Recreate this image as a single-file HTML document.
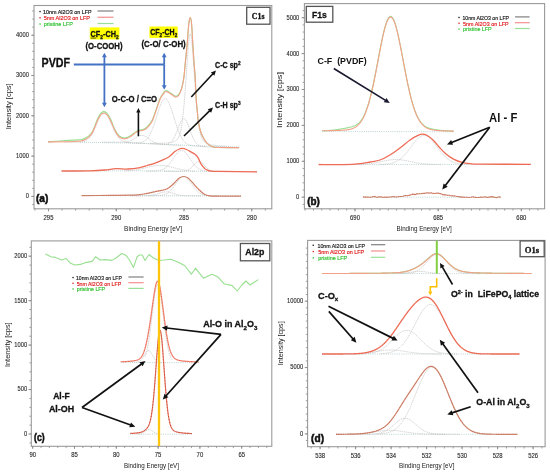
<!DOCTYPE html>
<html><head><meta charset="utf-8"><title>XPS spectra</title>
<style>html,body{margin:0;padding:0;background:#fff;width:550px;height:473px;overflow:hidden}svg{display:block;filter:blur(0.3px)}</style>
</head><body>
<svg width="550" height="473" viewBox="0 0 550 473">
<rect width="550" height="473" fill="#fff"/>
<rect x="34" y="5.5" width="237.8" height="203.3" fill="none" stroke="#9a9a9a" stroke-width="1.1"/>
<line x1="32.2" y1="204.46" x2="34" y2="204.46" stroke="#8a8a8a" stroke-width="0.8"/>
<line x1="32.2" y1="196.4" x2="34" y2="196.4" stroke="#8a8a8a" stroke-width="0.8"/>
<line x1="32.2" y1="188.34" x2="34" y2="188.34" stroke="#8a8a8a" stroke-width="0.8"/>
<line x1="32.2" y1="180.28" x2="34" y2="180.28" stroke="#8a8a8a" stroke-width="0.8"/>
<line x1="32.2" y1="172.22" x2="34" y2="172.22" stroke="#8a8a8a" stroke-width="0.8"/>
<line x1="32.2" y1="164.16" x2="34" y2="164.16" stroke="#8a8a8a" stroke-width="0.8"/>
<line x1="32.2" y1="156.1" x2="34" y2="156.1" stroke="#8a8a8a" stroke-width="0.8"/>
<line x1="32.2" y1="148.04" x2="34" y2="148.04" stroke="#8a8a8a" stroke-width="0.8"/>
<line x1="32.2" y1="139.98" x2="34" y2="139.98" stroke="#8a8a8a" stroke-width="0.8"/>
<line x1="32.2" y1="131.92" x2="34" y2="131.92" stroke="#8a8a8a" stroke-width="0.8"/>
<line x1="32.2" y1="123.86" x2="34" y2="123.86" stroke="#8a8a8a" stroke-width="0.8"/>
<line x1="32.2" y1="115.8" x2="34" y2="115.8" stroke="#8a8a8a" stroke-width="0.8"/>
<line x1="32.2" y1="107.74" x2="34" y2="107.74" stroke="#8a8a8a" stroke-width="0.8"/>
<line x1="32.2" y1="99.68" x2="34" y2="99.68" stroke="#8a8a8a" stroke-width="0.8"/>
<line x1="32.2" y1="91.62" x2="34" y2="91.62" stroke="#8a8a8a" stroke-width="0.8"/>
<line x1="32.2" y1="83.56" x2="34" y2="83.56" stroke="#8a8a8a" stroke-width="0.8"/>
<line x1="32.2" y1="75.5" x2="34" y2="75.5" stroke="#8a8a8a" stroke-width="0.8"/>
<line x1="32.2" y1="67.44" x2="34" y2="67.44" stroke="#8a8a8a" stroke-width="0.8"/>
<line x1="32.2" y1="59.38" x2="34" y2="59.38" stroke="#8a8a8a" stroke-width="0.8"/>
<line x1="32.2" y1="51.32" x2="34" y2="51.32" stroke="#8a8a8a" stroke-width="0.8"/>
<line x1="32.2" y1="43.26" x2="34" y2="43.26" stroke="#8a8a8a" stroke-width="0.8"/>
<line x1="32.2" y1="35.2" x2="34" y2="35.2" stroke="#8a8a8a" stroke-width="0.8"/>
<line x1="32.2" y1="27.14" x2="34" y2="27.14" stroke="#8a8a8a" stroke-width="0.8"/>
<line x1="32.2" y1="19.08" x2="34" y2="19.08" stroke="#8a8a8a" stroke-width="0.8"/>
<line x1="32.2" y1="11.02" x2="34" y2="11.02" stroke="#8a8a8a" stroke-width="0.8"/>
<line x1="31.2" y1="196.4" x2="34" y2="196.4" stroke="#8a8a8a" stroke-width="0.9"/>
<text x="28.9" y="198.3" font-family="Liberation Sans" font-size="6.4" font-weight="normal" fill="#202020" text-anchor="end" textLength="3.2" lengthAdjust="spacingAndGlyphs" stroke="#444" stroke-width="0.12">0</text>
<line x1="31.2" y1="156.1" x2="34" y2="156.1" stroke="#8a8a8a" stroke-width="0.9"/>
<text x="28.9" y="158" font-family="Liberation Sans" font-size="6.4" font-weight="normal" fill="#202020" text-anchor="end" textLength="12.8" lengthAdjust="spacingAndGlyphs" stroke="#444" stroke-width="0.12">1000</text>
<line x1="31.2" y1="115.8" x2="34" y2="115.8" stroke="#8a8a8a" stroke-width="0.9"/>
<text x="28.9" y="117.7" font-family="Liberation Sans" font-size="6.4" font-weight="normal" fill="#202020" text-anchor="end" textLength="12.8" lengthAdjust="spacingAndGlyphs" stroke="#444" stroke-width="0.12">2000</text>
<line x1="31.2" y1="75.5" x2="34" y2="75.5" stroke="#8a8a8a" stroke-width="0.9"/>
<text x="28.9" y="77.4" font-family="Liberation Sans" font-size="6.4" font-weight="normal" fill="#202020" text-anchor="end" textLength="12.8" lengthAdjust="spacingAndGlyphs" stroke="#444" stroke-width="0.12">3000</text>
<line x1="31.2" y1="35.2" x2="34" y2="35.2" stroke="#8a8a8a" stroke-width="0.9"/>
<text x="28.9" y="37.1" font-family="Liberation Sans" font-size="6.4" font-weight="normal" fill="#202020" text-anchor="end" textLength="12.8" lengthAdjust="spacingAndGlyphs" stroke="#444" stroke-width="0.12">4000</text>
<line x1="265.3" y1="208.8" x2="265.3" y2="210.6" stroke="#8a8a8a" stroke-width="0.8"/>
<line x1="251.75" y1="208.8" x2="251.75" y2="210.6" stroke="#8a8a8a" stroke-width="0.8"/>
<line x1="238.2" y1="208.8" x2="238.2" y2="210.6" stroke="#8a8a8a" stroke-width="0.8"/>
<line x1="224.65" y1="208.8" x2="224.65" y2="210.6" stroke="#8a8a8a" stroke-width="0.8"/>
<line x1="211.1" y1="208.8" x2="211.1" y2="210.6" stroke="#8a8a8a" stroke-width="0.8"/>
<line x1="197.55" y1="208.8" x2="197.55" y2="210.6" stroke="#8a8a8a" stroke-width="0.8"/>
<line x1="184" y1="208.8" x2="184" y2="210.6" stroke="#8a8a8a" stroke-width="0.8"/>
<line x1="170.45" y1="208.8" x2="170.45" y2="210.6" stroke="#8a8a8a" stroke-width="0.8"/>
<line x1="156.9" y1="208.8" x2="156.9" y2="210.6" stroke="#8a8a8a" stroke-width="0.8"/>
<line x1="143.35" y1="208.8" x2="143.35" y2="210.6" stroke="#8a8a8a" stroke-width="0.8"/>
<line x1="129.8" y1="208.8" x2="129.8" y2="210.6" stroke="#8a8a8a" stroke-width="0.8"/>
<line x1="116.25" y1="208.8" x2="116.25" y2="210.6" stroke="#8a8a8a" stroke-width="0.8"/>
<line x1="102.7" y1="208.8" x2="102.7" y2="210.6" stroke="#8a8a8a" stroke-width="0.8"/>
<line x1="89.15" y1="208.8" x2="89.15" y2="210.6" stroke="#8a8a8a" stroke-width="0.8"/>
<line x1="75.6" y1="208.8" x2="75.6" y2="210.6" stroke="#8a8a8a" stroke-width="0.8"/>
<line x1="62.05" y1="208.8" x2="62.05" y2="210.6" stroke="#8a8a8a" stroke-width="0.8"/>
<line x1="48.5" y1="208.8" x2="48.5" y2="210.6" stroke="#8a8a8a" stroke-width="0.8"/>
<line x1="34.95" y1="208.8" x2="34.95" y2="210.6" stroke="#8a8a8a" stroke-width="0.8"/>
<line x1="48.5" y1="208.8" x2="48.5" y2="211.4" stroke="#8a8a8a" stroke-width="0.9"/>
<text x="48.5" y="219.6" font-family="Liberation Sans" font-size="6.4" font-weight="normal" fill="#202020" text-anchor="middle" textLength="9.9" lengthAdjust="spacingAndGlyphs" stroke="#444" stroke-width="0.12">295</text>
<line x1="116.25" y1="208.8" x2="116.25" y2="211.4" stroke="#8a8a8a" stroke-width="0.9"/>
<text x="116.25" y="219.6" font-family="Liberation Sans" font-size="6.4" font-weight="normal" fill="#202020" text-anchor="middle" textLength="9.9" lengthAdjust="spacingAndGlyphs" stroke="#444" stroke-width="0.12">290</text>
<line x1="184" y1="208.8" x2="184" y2="211.4" stroke="#8a8a8a" stroke-width="0.9"/>
<text x="184" y="219.6" font-family="Liberation Sans" font-size="6.4" font-weight="normal" fill="#202020" text-anchor="middle" textLength="9.9" lengthAdjust="spacingAndGlyphs" stroke="#444" stroke-width="0.12">285</text>
<line x1="251.75" y1="208.8" x2="251.75" y2="211.4" stroke="#8a8a8a" stroke-width="0.9"/>
<text x="251.75" y="219.6" font-family="Liberation Sans" font-size="6.4" font-weight="normal" fill="#202020" text-anchor="middle" textLength="9.9" lengthAdjust="spacingAndGlyphs" stroke="#444" stroke-width="0.12">280</text>
<text x="153" y="230.5" font-family="Liberation Sans" font-size="6.4" font-weight="normal" fill="#202020" text-anchor="middle" textLength="58" lengthAdjust="spacingAndGlyphs">Binding Energy [eV]</text>
<text x="0" y="0" font-family="Liberation Sans" font-size="6.4" fill="#202020" text-anchor="middle" textLength="46" lengthAdjust="spacingAndGlyphs" transform="translate(10.8,106.3) rotate(-90)">Intensity [cps]</text>
<rect x="39.4" y="10.9" width="1.3" height="1.3" fill="#111"/>
<text x="43" y="13.8" font-family="Liberation Sans" font-size="5.4" font-weight="normal" fill="#111" text-anchor="start" textLength="48.7" lengthAdjust="spacingAndGlyphs" stroke="#111" stroke-width="0.15">10nm Al2O3 on LFP</text>
<line x1="97.5" y1="11" x2="113.5" y2="11" stroke="#808080" stroke-width="1.2"/>
<rect x="39.4" y="17.15" width="1.3" height="1.3" fill="#e01818"/>
<text x="43.7" y="20.05" font-family="Liberation Sans" font-size="5.4" font-weight="normal" fill="#e01818" text-anchor="start" textLength="46.3" lengthAdjust="spacingAndGlyphs" stroke="#e01818" stroke-width="0.15">5nm Al2O3 on LFP</text>
<line x1="97.5" y1="17.25" x2="113.5" y2="17.25" stroke="#f49090" stroke-width="1.2"/>
<rect x="39.4" y="23.4" width="1.3" height="1.3" fill="#30c030"/>
<text x="43.7" y="26.3" font-family="Liberation Sans" font-size="5.4" font-weight="normal" fill="#30c030" text-anchor="start" textLength="29.1" lengthAdjust="spacingAndGlyphs" stroke="#30c030" stroke-width="0.15">pristine LFP</text>
<line x1="97.5" y1="23.5" x2="113.5" y2="23.5" stroke="#98e098" stroke-width="1.2"/>
<path d="M80,142.2 L140,143.2 L190,145.5 L239,147" fill="none" stroke="#a8cccc" stroke-width="0.8" stroke-linejoin="round" stroke-dasharray="1,1"/>
<path d="M62,171 L140,170.8 L257,171.6" fill="none" stroke="#a8cccc" stroke-width="0.8" stroke-linejoin="round" stroke-dasharray="1,1"/>
<path d="M82,195.6 L241,196" fill="none" stroke="#a8cccc" stroke-width="0.8" stroke-linejoin="round" stroke-dasharray="1,1"/>
<path d="M64,142.2 L64.5,142.2 L65,142.2 L65.5,142.2 L66,142.2 L66.5,142.2 L67,142.2 L67.5,142.2 L68,142.2 L68.5,142.2 L69,142.2 L69.5,142.2 L70,142.2 L70.5,142.2 L71,142.2 L71.5,142.2 L72,142.2 L72.5,142.2 L73,142.2 L73.5,142.19 L74,142.19 L74.5,142.19 L75,142.19 L75.5,142.18 L76,142.18 L76.5,142.17 L77,142.16 L77.5,142.15 L78,142.14 L78.5,142.12 L79,142.1 L79.5,142.08 L80,142.04 L80.5,142.01 L81,141.96 L81.5,141.91 L82,141.84 L82.5,141.76 L83,141.66 L83.5,141.55 L84,141.42 L84.5,141.27 L85,141.09 L85.5,140.88 L86,140.64 L86.5,140.37 L87,140.06 L87.5,139.7 L88,139.3 L88.5,138.85 L89,138.35 L89.5,137.8 L90,137.19 L90.5,136.52 L91,135.79 L91.5,135 L92,134.14 L92.5,133.23 L93,132.26 L93.5,131.24 L94,130.16 L94.5,129.04 L95,127.88 L95.5,126.69 L96,125.48 L96.5,124.25 L97,123.02 L97.5,121.8 L98,120.6 L98.5,119.44 L99,118.32 L99.5,117.26 L100,116.28 L100.5,115.37 L101,114.57 L101.5,113.86 L102,113.28 L102.5,112.81 L103,112.47 L103.5,112.27 L104,112.2 L104.5,112.27 L105,112.47 L105.5,112.81 L106,113.28 L106.5,113.86 L107,114.57 L107.5,115.37 L108,116.28 L108.5,117.26 L109,118.32 L109.5,119.44 L110,120.6 L110.5,121.8 L111,123.02 L111.5,124.25 L112,125.48 L112.5,126.69 L113,127.88 L113.5,129.04 L114,130.16 L114.5,131.24 L115,132.26 L115.5,133.23 L116,134.14 L116.5,135 L117,135.79 L117.5,136.52 L118,137.19 L118.5,137.8 L119,138.35 L119.5,138.85 L120,139.3 L120.5,139.73 L121,140.11 L121.5,140.45 L122,140.75 L122.5,141.02 L123,141.25 L123.5,141.45 L124,141.64 L124.5,141.79 L125,141.93 L125.5,142.05 L126,142.16 L126.5,142.25 L127,142.33 L127.5,142.41 L128,142.47 L128.5,142.53 L129,142.58 L129.5,142.63 L130,142.67 L130.5,142.71 L131,142.75 L131.5,142.78 L132,142.82 L132.5,142.85 L133,142.88 L133.5,142.91 L134,142.94 L134.5,142.97 L135,143 L135.5,143.02 L136,143.05 L136.5,143.08 L137,143.11 L137.5,143.13 L138,143.16 L138.5,143.19 L139,143.21 L139.5,143.24 L140,143.27 L140.5,143.29 L141,143.32 L141.5,143.35 L142,143.37 L142.5,143.4 L143,143.43 L143.5,143.45 L144,143.48" fill="none" stroke="#c0c0c0" stroke-width="0.7" stroke-linejoin="round" stroke-dasharray="1.5,0.7"/>
<path d="M102,142.2 L102.5,142.2 L103,142.2 L103.5,142.2 L104,142.2 L104.5,142.2 L105,142.2 L105.5,142.2 L106,142.2 L106.5,142.2 L107,142.2 L107.5,142.2 L108,142.2 L108.5,142.2 L109,142.2 L109.5,142.2 L110,142.2 L110.5,142.2 L111,142.2 L111.5,142.2 L112,142.2 L112.5,142.2 L113,142.2 L113.5,142.2 L114,142.2 L114.5,142.2 L115,142.2 L115.5,142.19 L116,142.19 L116.5,142.19 L117,142.19 L117.5,142.18 L118,142.18 L118.5,142.17 L119,142.16 L119.5,142.15 L120,142.14 L120.5,142.16 L121,142.16 L121.5,142.17 L122,142.17 L122.5,142.17 L123,142.16 L123.5,142.14 L124,142.12 L124.5,142.09 L125,142.05 L125.5,142 L126,141.93 L126.5,141.86 L127,141.77 L127.5,141.66 L128,141.54 L128.5,141.41 L129,141.25 L129.5,141.08 L130,140.89 L130.5,140.69 L131,140.46 L131.5,140.22 L132,139.96 L132.5,139.68 L133,139.39 L133.5,139.09 L134,138.78 L134.5,138.47 L135,138.15 L135.5,137.83 L136,137.51 L136.5,137.2 L137,136.91 L137.5,136.63 L138,136.37 L138.5,136.13 L139,135.92 L139.5,135.73 L140,135.59 L140.5,135.47 L141,135.4 L141.5,135.37 L142,135.37 L142.5,135.42 L143,135.51 L143.5,135.63 L144,135.8 L144.5,136 L145,136.24 L145.5,136.5 L146,136.79 L146.5,137.11 L147,137.44 L147.5,137.79 L148,138.15 L148.5,138.52 L149,138.89 L149.5,139.27 L150,139.64 L150.5,140 L151,140.35 L151.5,140.69 L152,141.02 L152.5,141.34 L153,141.63 L153.5,141.91 L154,142.17 L154.5,142.42 L155,142.64 L155.5,142.85 L156,143.04 L156.5,143.21 L157,143.37 L157.5,143.51 L158,143.64 L158.5,143.76 L159,143.86 L159.5,143.96 L160,144.04 L160.5,144.12 L161,144.19 L161.5,144.25 L162,144.3 L162.5,144.36 L163,144.4 L163.5,144.45 L164,144.49 L164.5,144.53 L165,144.56 L165.5,144.6 L166,144.63 L166.5,144.66 L167,144.69 L167.5,144.72 L168,144.75 L168.5,144.78 L169,144.81 L169.5,144.84 L170,144.86 L170.5,144.89 L171,144.92 L171.5,144.95 L172,144.97 L172.5,145 L173,145.03 L173.5,145.05 L174,145.08 L174.5,145.11 L175,145.13 L175.5,145.16 L176,145.19 L176.5,145.21 L177,145.24 L177.5,145.27 L178,145.29 L178.5,145.32 L179,145.35 L179.5,145.37 L180,145.4 L180.5,145.43 L181,145.45 L181.5,145.48 L182,145.51" fill="none" stroke="#c0c0c0" stroke-width="0.7" stroke-linejoin="round" stroke-dasharray="1.5,0.7"/>
<path d="M125.3,142.48 L125.8,142.51 L126.3,142.53 L126.8,142.56 L127.3,142.59 L127.8,142.61 L128.3,142.64 L128.8,142.66 L129.3,142.69 L129.8,142.71 L130.3,142.74 L130.8,142.76 L131.3,142.78 L131.8,142.81 L132.3,142.83 L132.8,142.85 L133.3,142.86 L133.8,142.88 L134.3,142.89 L134.8,142.9 L135.3,142.91 L135.8,142.91 L136.3,142.91 L136.8,142.91 L137.3,142.89 L137.8,142.87 L138.3,142.84 L138.8,142.8 L139.3,142.75 L139.8,142.69 L140.3,142.61 L140.8,142.51 L141.3,142.4 L141.8,142.26 L142.3,142.1 L142.8,141.91 L143.3,141.7 L143.8,141.45 L144.3,141.16 L144.8,140.84 L145.3,140.47 L145.8,140.06 L146.3,139.6 L146.8,139.08 L147.3,138.51 L147.8,137.88 L148.3,137.19 L148.8,136.43 L149.3,135.61 L149.8,134.72 L150.3,133.77 L150.8,132.74 L151.3,131.64 L151.8,130.48 L152.3,129.25 L152.8,127.95 L153.3,126.6 L153.8,125.19 L154.3,123.73 L154.8,122.23 L155.3,120.69 L155.8,119.12 L156.3,117.53 L156.8,115.94 L157.3,114.35 L157.8,112.77 L158.3,111.21 L158.8,109.7 L159.3,108.23 L159.8,106.83 L160.3,105.5 L160.8,104.26 L161.3,103.12 L161.8,102.09 L162.3,101.17 L162.8,100.39 L163.3,99.74 L163.8,99.23 L164.3,98.87 L164.8,98.67 L165.3,98.62 L165.8,98.72 L166.3,98.98 L166.8,99.39 L167.3,99.95 L167.8,100.65 L168.3,101.49 L168.8,102.46 L169.3,103.55 L169.8,104.74 L170.3,106.04 L170.8,107.42 L171.3,108.87 L171.8,110.39 L172.3,111.96 L172.8,113.57 L173.3,115.2 L173.8,116.84 L174.3,118.49 L174.8,120.13 L175.3,121.75 L175.8,123.35 L176.3,124.9 L176.8,126.42 L177.3,127.88 L177.8,129.29 L178.3,130.63 L178.8,131.92 L179.3,133.14 L179.8,134.29 L180.3,135.37 L180.8,136.38 L181.3,137.32 L181.8,138.19 L182.3,139 L182.8,139.75 L183.3,140.43 L183.8,141.05 L184.3,141.62 L184.8,142.14 L185.3,142.6 L185.8,143.02 L186.3,143.4 L186.8,143.74 L187.3,144.04 L187.8,144.31 L188.3,144.56 L188.8,144.77 L189.3,144.96 L189.8,145.13 L190.3,145.28 L190.8,145.41 L191.3,145.53 L191.8,145.63 L192.3,145.72 L192.8,145.81 L193.3,145.88 L193.8,145.95 L194.3,146.01 L194.8,146.06 L195.3,146.11 L195.8,146.16 L196.3,146.2 L196.8,146.24 L197.3,146.28 L197.8,146.31 L198.3,146.35 L198.8,146.38 L199.3,146.41 L199.8,146.44 L200.3,146.47 L200.8,146.5 L201.3,146.53 L201.8,146.56 L202.3,146.58 L202.8,146.61 L203.3,146.64 L203.8,146.67 L204.3,146.69 L204.8,146.72 L205.3,146.75" fill="none" stroke="#c0c0c0" stroke-width="0.7" stroke-linejoin="round" stroke-dasharray="1.5,0.7"/>
<path d="M143.8,143.47 L144.3,143.5 L144.8,143.52 L145.3,143.55 L145.8,143.58 L146.3,143.6 L146.8,143.63 L147.3,143.66 L147.8,143.68 L148.3,143.71 L148.8,143.74 L149.3,143.76 L149.8,143.79 L150.3,143.82 L150.8,143.84 L151.3,143.87 L151.8,143.9 L152.3,143.92 L152.8,143.95 L153.3,143.98 L153.8,144 L154.3,144.03 L154.8,144.06 L155.3,144.08 L155.8,144.11 L156.3,144.14 L156.8,144.16 L157.3,144.19 L157.8,144.21 L158.3,144.24 L158.8,144.26 L159.3,144.29 L159.8,144.31 L160.3,144.34 L160.8,144.36 L161.3,144.38 L161.8,144.4 L162.3,144.41 L162.8,144.42 L163.3,144.43 L163.8,144.43 L164.3,144.43 L164.8,144.41 L165.3,144.38 L165.8,144.34 L166.3,144.29 L166.8,144.21 L167.3,144.11 L167.8,143.98 L168.3,143.82 L168.8,143.62 L169.3,143.37 L169.8,143.08 L170.3,142.73 L170.8,142.33 L171.3,141.85 L171.8,141.31 L172.3,140.69 L172.8,139.99 L173.3,139.2 L173.8,138.34 L174.3,137.39 L174.8,136.36 L175.3,135.25 L175.8,134.08 L176.3,132.84 L176.8,131.56 L177.3,130.24 L177.8,128.91 L178.3,127.57 L178.8,126.26 L179.3,124.98 L179.8,123.77 L180.3,122.64 L180.8,121.62 L181.3,120.71 L181.8,119.96 L182.3,119.35 L182.8,118.92 L183.3,118.67 L183.8,118.6 L184.3,118.72 L184.8,119.03 L185.3,119.51 L185.8,120.17 L186.3,120.98 L186.8,121.94 L187.3,123.01 L187.8,124.2 L188.3,125.46 L188.8,126.79 L189.3,128.16 L189.8,129.55 L190.3,130.93 L190.8,132.3 L191.3,133.64 L191.8,134.93 L192.3,136.16 L192.8,137.32 L193.3,138.4 L193.8,139.4 L194.3,140.32 L194.8,141.16 L195.3,141.91 L195.8,142.59 L196.3,143.19 L196.8,143.71 L197.3,144.17 L197.8,144.57 L198.3,144.92 L198.8,145.22 L199.3,145.47 L199.8,145.68 L200.3,145.87 L200.8,146.02 L201.3,146.15 L201.8,146.26 L202.3,146.36 L202.8,146.44 L203.3,146.51 L203.8,146.56 L204.3,146.62 L204.8,146.66 L205.3,146.71 L205.8,146.74 L206.3,146.78 L206.8,146.81 L207.3,146.84 L207.8,146.87 L208.3,146.9 L208.8,146.93 L209.3,146.96 L209.8,146.99 L210.3,147 L210.8,147 L211.3,147 L211.8,147 L212.3,147 L212.8,147 L213.3,147 L213.8,147 L214.3,147 L214.8,147 L215.3,147 L215.8,147 L216.3,147 L216.8,147 L217.3,147 L217.8,147 L218.3,147 L218.8,147 L219.3,147 L219.8,147 L220.3,147 L220.8,147 L221.3,147 L221.8,147 L222.3,147 L222.8,147 L223.3,147 L223.8,147" fill="none" stroke="#c0c0c0" stroke-width="0.7" stroke-linejoin="round" stroke-dasharray="1.5,0.7"/>
<path d="M150.3,143.2 L150.8,143.21 L151.3,143.22 L151.8,143.23 L152.3,143.24 L152.8,143.25 L153.3,143.26 L153.8,143.26 L154.3,143.27 L154.8,143.27 L155.3,143.28 L155.8,143.28 L156.3,143.29 L156.8,143.29 L157.3,143.29 L157.8,143.29 L158.3,143.29 L158.8,143.28 L159.3,143.28 L159.8,143.27 L160.3,143.26 L160.8,143.25 L161.3,143.24 L161.8,143.23 L162.3,143.21 L162.8,143.2 L163.3,143.18 L163.8,143.16 L164.3,143.13 L164.8,143.1 L165.3,143.07 L165.8,143.04 L166.3,143 L166.8,142.96 L167.3,142.91 L167.8,142.86 L168.3,142.8 L168.8,142.74 L169.3,142.68 L169.8,142.6 L170.3,142.52 L170.8,142.43 L171.3,142.33 L171.8,142.22 L172.3,142.1 L172.8,141.97 L173.3,141.82 L173.8,141.65 L174.3,141.46 L174.8,141.23 L175.3,140.97 L175.8,140.67 L176.3,140.31 L176.8,139.87 L177.3,139.34 L177.8,138.69 L178.3,137.9 L178.8,136.93 L179.3,135.75 L179.8,134.3 L180.3,132.55 L180.8,130.43 L181.3,127.9 L181.8,124.91 L182.3,121.41 L182.8,117.37 L183.3,112.76 L183.8,107.58 L184.3,101.83 L184.8,95.55 L185.3,88.81 L185.8,81.71 L186.3,74.37 L186.8,66.97 L187.3,59.7 L187.8,52.82 L188.3,46.6 L188.8,41.33 L189.3,37.31 L189.8,34.79 L190.3,33.95 L190.8,34.85 L191.3,37.42 L191.8,41.49 L192.3,46.81 L192.8,53.09 L193.3,60.02 L193.8,67.34 L194.3,74.8 L194.8,82.19 L195.3,89.34 L195.8,96.14 L196.3,102.47 L196.8,108.27 L197.3,113.51 L197.8,118.17 L198.3,122.27 L198.8,125.82 L199.3,128.86 L199.8,131.44 L200.3,133.61 L200.8,135.42 L201.3,136.92 L201.8,138.16 L202.3,139.18 L202.8,140.03 L203.3,140.73 L203.8,141.31 L204.3,141.8 L204.8,142.22 L205.3,142.57 L205.8,142.89 L206.3,143.16 L206.8,143.41 L207.3,143.63 L207.8,143.84 L208.3,144.02 L208.8,144.2 L209.3,144.36 L209.8,144.51 L210.3,144.64 L210.8,144.75 L211.3,144.85 L211.8,144.94 L212.3,145.03 L212.8,145.11 L213.3,145.19 L213.8,145.26 L214.3,145.33 L214.8,145.39 L215.3,145.46 L215.8,145.51 L216.3,145.57 L216.8,145.62 L217.3,145.67 L217.8,145.71 L218.3,145.76 L218.8,145.8 L219.3,145.84 L219.8,145.88 L220.3,145.91 L220.8,145.95 L221.3,145.98 L221.8,146.01 L222.3,146.04 L222.8,146.07 L223.3,146.1 L223.8,146.12 L224.3,146.15 L224.8,146.17 L225.3,146.2 L225.8,146.22 L226.3,146.24 L226.8,146.26 L227.3,146.28 L227.8,146.3 L228.3,146.32 L228.8,146.33 L229.3,146.35 L229.8,146.37 L230.3,146.38" fill="none" stroke="#c0c0c0" stroke-width="0.7" stroke-linejoin="round" stroke-dasharray="1.5,0.7"/>
<path d="M48,141.9 C50.83,141.67 60,140.83 65,140.5 C70,140.17 75.2,140.07 78,139.9 C80.8,139.73 80.53,139.82 81.8,139.5 C83.07,139.18 84.33,138.68 85.6,138 C86.87,137.32 88.25,136.48 89.4,135.4 C90.55,134.32 91.6,133.05 92.5,131.5 C93.4,129.95 94.05,128 94.8,126.1 C95.55,124.2 96.25,121.87 97,120.1 C97.75,118.33 98.53,116.77 99.3,115.5 C100.07,114.23 100.8,113.15 101.6,112.5 C102.4,111.85 103.22,111.5 104.1,111.6 C104.98,111.7 106.07,112.32 106.9,113.1 C107.73,113.88 108.35,115 109.1,116.3 C109.85,117.6 110.63,119.13 111.4,120.9 C112.17,122.67 112.93,125.13 113.7,126.9 C114.47,128.67 115.23,130.17 116,131.5 C116.77,132.83 117.53,134.02 118.3,134.9 C119.07,135.78 119.72,136.3 120.6,136.8 C121.48,137.3 122.58,137.77 123.6,137.9 C124.62,138.03 125.63,137.92 126.7,137.6 C127.77,137.28 128.25,137.12 130,136 C131.75,134.88 135.02,132 137.2,130.9 C139.38,129.8 141.5,130.02 143.1,129.4 C144.7,128.78 145.32,128.68 146.8,127.2 C148.28,125.72 150.4,123.58 152,120.5 C153.6,117.42 155.05,112.4 156.4,108.7 C157.75,105 158.87,101.02 160.1,98.3 C161.33,95.58 162.82,93.68 163.8,92.4 C164.78,91.12 165.02,90.6 166,90.6 C166.98,90.6 168.33,91.6 169.7,92.4 C171.07,93.2 173.18,94.75 174.2,95.4 C175.22,96.05 175.07,96.43 175.8,96.3 C176.53,96.17 177.65,95.83 178.6,94.6 C179.55,93.37 180.63,91.67 181.5,88.9 C182.37,86.13 183.13,82.68 183.8,78 C184.47,73.32 184.93,66.48 185.5,60.8 C186.07,55.12 186.65,50.03 187.2,43.9 C187.75,37.77 188.28,28.38 188.8,24 C189.32,19.62 189.83,17.6 190.3,17.6 C190.77,17.6 191.18,19.62 191.6,24 C192.02,28.38 192.4,37.57 192.8,43.9 C193.2,50.23 193.58,56.15 194,62 C194.42,67.85 194.95,73 195.3,79 C195.65,85 195.72,92.17 196.1,98 C196.48,103.83 197.27,110.33 197.6,114 C197.93,117.67 197.7,117.42 198.1,120 C198.5,122.58 199.2,126.65 200,129.5 C200.8,132.35 201.78,134.87 202.9,137.1 C204.02,139.33 205.28,141.37 206.7,142.9 C208.12,144.43 209.5,145.53 211.4,146.3 C213.3,147.07 213.5,147.28 218.1,147.5 C222.7,147.72 235.52,147.58 239,147.6" fill="none" stroke="#98e090" stroke-width="1.1" stroke-linejoin="round"/>
<path d="M48,141.9 C50.83,141.88 60,141.92 65,141.8 C70,141.68 75.2,141.37 78,141.2 C80.8,141.03 80.53,141.12 81.8,140.8 C83.07,140.48 84.33,140.05 85.6,139.3 C86.87,138.55 88.25,137.45 89.4,136.3 C90.55,135.15 91.6,133.95 92.5,132.4 C93.4,130.85 94.05,128.78 94.8,127 C95.55,125.22 96.25,123.35 97,121.7 C97.75,120.05 98.53,118.37 99.3,117.1 C100.07,115.83 100.8,114.75 101.6,114.1 C102.4,113.45 103.22,113.1 104.1,113.2 C104.98,113.3 106.07,113.92 106.9,114.7 C107.73,115.48 108.35,116.6 109.1,117.9 C109.85,119.2 110.63,120.85 111.4,122.5 C112.17,124.15 112.93,126.15 113.7,127.8 C114.47,129.45 115.23,131.07 116,132.4 C116.77,133.73 117.53,134.92 118.3,135.8 C119.07,136.68 119.72,137.2 120.6,137.7 C121.48,138.2 122.58,138.67 123.6,138.8 C124.62,138.93 125.63,138.82 126.7,138.5 C127.77,138.18 128.25,138.02 130,136.9 C131.75,135.78 135.02,132.9 137.2,131.8 C139.38,130.7 141.5,130.92 143.1,130.3 C144.7,129.68 145.32,129.58 146.8,128.1 C148.28,126.62 150.4,124.48 152,121.4 C153.6,118.32 155.05,113.3 156.4,109.6 C157.75,105.9 158.87,101.92 160.1,99.2 C161.33,96.48 162.82,94.58 163.8,93.3 C164.78,92.02 165.02,91.5 166,91.5 C166.98,91.5 168.33,92.5 169.7,93.3 C171.07,94.1 173.18,95.65 174.2,96.3 C175.22,96.95 175.07,97.33 175.8,97.2 C176.53,97.07 177.65,96.88 178.6,95.5 C179.55,94.12 180.63,91.82 181.5,88.9 C182.37,85.98 183.13,82.68 183.8,78 C184.47,73.32 184.93,66.48 185.5,60.8 C186.07,55.12 186.65,50.03 187.2,43.9 C187.75,37.77 188.28,28.38 188.8,24 C189.32,19.62 189.83,17.6 190.3,17.6 C190.77,17.6 191.18,19.62 191.6,24 C192.02,28.38 192.4,37.57 192.8,43.9 C193.2,50.23 193.58,56.15 194,62 C194.42,67.85 194.95,73 195.3,79 C195.65,85 195.72,92.17 196.1,98 C196.48,103.83 197.27,110.33 197.6,114 C197.93,117.67 197.7,117.42 198.1,120 C198.5,122.58 199.2,126.65 200,129.5 C200.8,132.35 201.78,134.87 202.9,137.1 C204.02,139.33 205.28,141.37 206.7,142.9 C208.12,144.43 209.5,145.53 211.4,146.3 C213.3,147.07 213.5,147.28 218.1,147.5 C222.7,147.72 235.52,147.58 239,147.6" fill="none" stroke="#f4a088" stroke-width="1.1" stroke-linejoin="round"/>
<path d="M125,170.96 L125.5,170.94 L126,170.92 L126.5,170.89 L127,170.86 L127.5,170.83 L128,170.8 L128.5,170.76 L129,170.72 L129.5,170.68 L130,170.64 L130.5,170.59 L131,170.55 L131.5,170.49 L132,170.44 L132.5,170.38 L133,170.32 L133.5,170.26 L134,170.19 L134.5,170.12 L135,170.04 L135.5,169.97 L136,169.89 L136.5,169.8 L137,169.71 L137.5,169.62 L138,169.53 L138.5,169.43 L139,169.33 L139.5,169.22 L140,169.12 L140.5,169.01 L141,168.89 L141.5,168.78 L142,168.66 L142.5,168.54 L143,168.42 L143.5,168.3 L144,168.17 L144.5,168.05 L145,167.92 L145.5,167.79 L146,167.66 L146.5,167.53 L147,167.41 L147.5,167.28 L148,167.15 L148.5,167.03 L149,166.91 L149.5,166.79 L150,166.67 L150.5,166.55 L151,166.44 L151.5,166.33 L152,166.23 L152.5,166.13 L153,166.03 L153.5,165.94 L154,165.86 L154.5,165.78 L155,165.7 L155.5,165.64 L156,165.58 L156.5,165.52 L157,165.48 L157.5,165.44 L158,165.41 L158.5,165.38 L159,165.36 L159.5,165.35 L160,165.35 L160.5,165.36 L161,165.37 L161.5,165.39 L162,165.42 L162.5,165.46 L163,165.5 L163.5,165.55 L164,165.61 L164.5,165.67 L165,165.74 L165.5,165.82 L166,165.9 L166.5,165.99 L167,166.08 L167.5,166.18 L168,166.28 L168.5,166.39 L169,166.5 L169.5,166.62 L170,166.74 L170.5,166.86 L171,166.98 L171.5,167.11 L172,167.24 L172.5,167.37 L173,167.5 L173.5,167.63 L174,167.76 L174.5,167.89 L175,168.03 L175.5,168.16 L176,168.29 L176.5,168.42 L177,168.54 L177.5,168.67 L178,168.79 L178.5,168.91 L179,169.03 L179.5,169.15 L180,169.26 L180.5,169.37 L181,169.48 L181.5,169.58 L182,169.69 L182.5,169.78 L183,169.88 L183.5,169.97 L184,170.06 L184.5,170.14 L185,170.22 L185.5,170.3 L186,170.38 L186.5,170.45 L187,170.51 L187.5,170.58 L188,170.64 L188.5,170.7 L189,170.75 L189.5,170.81 L190,170.86 L190.5,170.9 L191,170.95 L191.5,170.99 L192,171.03 L192.5,171.06 L193,171.1 L193.5,171.13 L194,171.16 L194.5,171.19 L195,171.21" fill="none" stroke="#c0c0c0" stroke-width="0.7" stroke-linejoin="round" stroke-dasharray="1.5,0.7"/>
<path d="M146.5,171.3 L147,171.3 L147.5,171.3 L148,171.3 L148.5,171.3 L149,171.3 L149.5,171.3 L150,171.29 L150.5,171.29 L151,171.29 L151.5,171.28 L152,171.27 L152.5,171.26 L153,171.25 L153.5,171.24 L154,171.22 L154.5,171.2 L155,171.17 L155.5,171.14 L156,171.1 L156.5,171.06 L157,171.01 L157.5,170.95 L158,170.88 L158.5,170.81 L159,170.72 L159.5,170.61 L160,170.49 L160.5,170.36 L161,170.21 L161.5,170.04 L162,169.85 L162.5,169.63 L163,169.4 L163.5,169.13 L164,168.84 L164.5,168.53 L165,168.18 L165.5,167.8 L166,167.39 L166.5,166.95 L167,166.48 L167.5,165.97 L168,165.43 L168.5,164.86 L169,164.26 L169.5,163.63 L170,162.98 L170.5,162.3 L171,161.6 L171.5,160.88 L172,160.15 L172.5,159.41 L173,158.66 L173.5,157.91 L174,157.17 L174.5,156.44 L175,155.73 L175.5,155.04 L176,154.38 L176.5,153.75 L177,153.16 L177.5,152.62 L178,152.12 L178.5,151.69 L179,151.31 L179.5,151 L180,150.75 L180.5,150.57 L181,150.46 L181.5,150.43 L182,150.47 L182.5,150.58 L183,150.76 L183.5,151.01 L184,151.33 L184.5,151.71 L185,152.15 L185.5,152.64 L186,153.19 L186.5,153.78 L187,154.42 L187.5,155.08 L188,155.78 L188.5,156.49 L189,157.23 L189.5,157.97 L190,158.72 L190.5,159.47 L191,160.22 L191.5,160.95 L192,161.67 L192.5,162.38 L193,163.06 L193.5,163.72 L194,164.35 L194.5,164.96 L195,165.53 L195.5,166.07 L196,166.58 L196.5,167.06 L197,167.5 L197.5,167.92 L198,168.3 L198.5,168.65 L199,168.97 L199.5,169.26 L200,169.53 L200.5,169.77 L201,169.99 L201.5,170.18 L202,170.36 L202.5,170.51 L203,170.65 L203.5,170.77 L204,170.88 L204.5,170.97 L205,171.05 L205.5,171.13 L206,171.19 L206.5,171.24 L207,171.29 L207.5,171.33 L208,171.36 L208.5,171.39 L209,171.42 L209.5,171.44 L210,171.46 L210.5,171.47 L211,171.48 L211.5,171.5 L212,171.5 L212.5,171.51 L213,171.52 L213.5,171.53 L214,171.53 L214.5,171.54 L215,171.54 L215.5,171.54 L216,171.55 L216.5,171.55" fill="none" stroke="#c0c0c0" stroke-width="0.7" stroke-linejoin="round" stroke-dasharray="1.5,0.7"/>
<path d="M164,171.37 L164.5,171.37 L165,171.37 L165.5,171.37 L166,171.37 L166.5,171.38 L167,171.38 L167.5,171.38 L168,171.38 L168.5,171.38 L169,171.38 L169.5,171.39 L170,171.39 L170.5,171.39 L171,171.39 L171.5,171.39 L172,171.39 L172.5,171.4 L173,171.4 L173.5,171.4 L174,171.4 L174.5,171.4 L175,171.4 L175.5,171.41 L176,171.41 L176.5,171.41 L177,171.41 L177.5,171.41 L178,171.41 L178.5,171.41 L179,171.41 L179.5,171.4 L180,171.4 L180.5,171.39 L181,171.38 L181.5,171.37 L182,171.35 L182.5,171.32 L183,171.29 L183.5,171.25 L184,171.2 L184.5,171.13 L185,171.05 L185.5,170.95 L186,170.83 L186.5,170.69 L187,170.52 L187.5,170.33 L188,170.1 L188.5,169.84 L189,169.54 L189.5,169.21 L190,168.84 L190.5,168.43 L191,167.99 L191.5,167.52 L192,167.02 L192.5,166.49 L193,165.95 L193.5,165.41 L194,164.86 L194.5,164.32 L195,163.8 L195.5,163.31 L196,162.86 L196.5,162.46 L197,162.12 L197.5,161.85 L198,161.65 L198.5,161.53 L199,161.49 L199.5,161.53 L200,161.66 L200.5,161.86 L201,162.14 L201.5,162.48 L202,162.88 L202.5,163.34 L203,163.83 L203.5,164.35 L204,164.89 L204.5,165.45 L205,166 L205.5,166.54 L206,167.07 L206.5,167.57 L207,168.05 L207.5,168.49 L208,168.9 L208.5,169.28 L209,169.61 L209.5,169.91 L210,170.18 L210.5,170.41 L211,170.61 L211.5,170.78 L212,170.93 L212.5,171.05 L213,171.15 L213.5,171.23 L214,171.3 L214.5,171.36 L215,171.4 L215.5,171.44 L216,171.47 L216.5,171.49 L217,171.51 L217.5,171.52 L218,171.53 L218.5,171.54 L219,171.55 L219.5,171.56 L220,171.56 L220.5,171.56 L221,171.57 L221.5,171.57 L222,171.57 L222.5,171.58 L223,171.58 L223.5,171.58 L224,171.58 L224.5,171.58 L225,171.58 L225.5,171.59 L226,171.59 L226.5,171.59 L227,171.59 L227.5,171.59 L228,171.6 L228.5,171.6 L229,171.6 L229.5,171.6 L230,171.6 L230.5,171.6 L231,171.61 L231.5,171.61 L232,171.61 L232.5,171.61 L233,171.61 L233.5,171.62 L234,171.62" fill="none" stroke="#c0c0c0" stroke-width="0.7" stroke-linejoin="round" stroke-dasharray="1.5,0.7"/>
<path d="M61.5,171 C66.25,170.97 82.75,170.97 90,170.8 C97.25,170.63 100.67,170.35 105,170 C109.33,169.65 112.17,168.87 116,168.7 C119.83,168.53 124,169.18 128,169 C132,168.82 136.78,168.18 140,167.6 C143.22,167.02 144.88,166.22 147.3,165.5 C149.72,164.78 152.08,164.15 154.5,163.3 C156.92,162.45 159.37,161.5 161.8,160.4 C164.23,159.3 166.92,158.17 169.1,156.7 C171.28,155.23 173.2,152.88 174.9,151.6 C176.6,150.32 178.08,149.53 179.3,149 C180.52,148.47 181,148.32 182.2,148.4 C183.4,148.48 185.05,148.92 186.5,149.5 C187.95,150.08 189.43,151.07 190.9,151.9 C192.37,152.73 194.27,153.75 195.3,154.5 C196.33,155.25 196.48,155.55 197.1,156.4 C197.72,157.25 198.35,158.37 199,159.6 C199.65,160.83 200.03,162.3 201,163.8 C201.97,165.3 203.63,167.5 204.8,168.6 C205.97,169.7 207.05,170 208,170.4 C208.95,170.8 208.5,170.85 210.5,171 C212.5,171.15 212.25,171.17 220,171.3 C227.75,171.43 250.83,171.72 257,171.8" fill="none" stroke="#ee6b55" stroke-width="1.3" stroke-linejoin="round"/>
<path d="M131,195.8 L131.5,195.8 L132,195.8 L132.5,195.8 L133,195.8 L133.5,195.8 L134,195.8 L134.5,195.8 L135,195.8 L135.5,195.8 L136,195.8 L136.5,195.8 L137,195.8 L137.5,195.8 L138,195.8 L138.5,195.8 L139,195.8 L139.5,195.8 L140,195.8 L140.5,195.79 L141,195.79 L141.5,195.79 L142,195.79 L142.5,195.79 L143,195.78 L143.5,195.78 L144,195.77 L144.5,195.76 L145,195.76 L145.5,195.75 L146,195.73 L146.5,195.72 L147,195.7 L147.5,195.68 L148,195.65 L148.5,195.62 L149,195.59 L149.5,195.55 L150,195.51 L150.5,195.46 L151,195.4 L151.5,195.33 L152,195.26 L152.5,195.18 L153,195.09 L153.5,194.99 L154,194.88 L154.5,194.76 L155,194.64 L155.5,194.5 L156,194.36 L156.5,194.21 L157,194.05 L157.5,193.89 L158,193.72 L158.5,193.55 L159,193.37 L159.5,193.2 L160,193.03 L160.5,192.86 L161,192.7 L161.5,192.55 L162,192.4 L162.5,192.27 L163,192.15 L163.5,192.05 L164,191.96 L164.5,191.89 L165,191.84 L165.5,191.81 L166,191.8 L166.5,191.81 L167,191.84 L167.5,191.89 L168,191.96 L168.5,192.05 L169,192.15 L169.5,192.27 L170,192.4 L170.5,192.55 L171,192.7 L171.5,192.86 L172,193.03 L172.5,193.2 L173,193.37 L173.5,193.55 L174,193.72 L174.5,193.89 L175,194.05 L175.5,194.21 L176,194.36 L176.5,194.5 L177,194.64 L177.5,194.76 L178,194.88 L178.5,194.99 L179,195.09 L179.5,195.18 L180,195.26 L180.5,195.33 L181,195.4 L181.5,195.46 L182,195.51 L182.5,195.55 L183,195.59 L183.5,195.62 L184,195.65 L184.5,195.68 L185,195.7 L185.5,195.72 L186,195.73 L186.5,195.75 L187,195.76 L187.5,195.76 L188,195.77 L188.5,195.78 L189,195.78 L189.5,195.79 L190,195.79 L190.5,195.79 L191,195.79 L191.5,195.79 L192,195.8 L192.5,195.8 L193,195.8 L193.5,195.8 L194,195.8 L194.5,195.8 L195,195.8 L195.5,195.8 L196,195.8 L196.5,195.8 L197,195.8 L197.5,195.8 L198,195.8 L198.5,195.8 L199,195.8 L199.5,195.8 L200,195.8 L200.5,195.8 L201,195.8" fill="none" stroke="#c0c0c0" stroke-width="0.7" stroke-linejoin="round" stroke-dasharray="1.5,0.7"/>
<path d="M148.6,195.8 L149.1,195.8 L149.6,195.8 L150.1,195.8 L150.6,195.79 L151.1,195.79 L151.6,195.79 L152.1,195.79 L152.6,195.79 L153.1,195.78 L153.6,195.78 L154.1,195.77 L154.6,195.76 L155.1,195.75 L155.6,195.74 L156.1,195.73 L156.6,195.72 L157.1,195.7 L157.6,195.68 L158.1,195.65 L158.6,195.62 L159.1,195.58 L159.6,195.54 L160.1,195.49 L160.6,195.43 L161.1,195.36 L161.6,195.28 L162.1,195.19 L162.6,195.08 L163.1,194.97 L163.6,194.83 L164.1,194.68 L164.6,194.5 L165.1,194.31 L165.6,194.09 L166.1,193.85 L166.6,193.58 L167.1,193.29 L167.6,192.97 L168.1,192.62 L168.6,192.23 L169.1,191.82 L169.6,191.38 L170.1,190.9 L170.6,190.39 L171.1,189.85 L171.6,189.29 L172.1,188.69 L172.6,188.07 L173.1,187.43 L173.6,186.77 L174.1,186.09 L174.6,185.4 L175.1,184.7 L175.6,183.99 L176.1,183.29 L176.6,182.6 L177.1,181.92 L177.6,181.26 L178.1,180.63 L178.6,180.02 L179.1,179.46 L179.6,178.93 L180.1,178.45 L180.6,178.03 L181.1,177.66 L181.6,177.36 L182.1,177.12 L182.6,176.94 L183.1,176.84 L183.6,176.8 L184.1,176.84 L184.6,176.94 L185.1,177.12 L185.6,177.36 L186.1,177.66 L186.6,178.03 L187.1,178.45 L187.6,178.93 L188.1,179.46 L188.6,180.02 L189.1,180.63 L189.6,181.26 L190.1,181.92 L190.6,182.6 L191.1,183.29 L191.6,183.99 L192.1,184.7 L192.6,185.4 L193.1,186.09 L193.6,186.77 L194.1,187.43 L194.6,188.07 L195.1,188.69 L195.6,189.29 L196.1,189.85 L196.6,190.39 L197.1,190.9 L197.6,191.38 L198.1,191.82 L198.6,192.23 L199.1,192.62 L199.6,192.97 L200.1,193.29 L200.6,193.58 L201.1,193.85 L201.6,194.09 L202.1,194.31 L202.6,194.5 L203.1,194.68 L203.6,194.83 L204.1,194.97 L204.6,195.08 L205.1,195.19 L205.6,195.28 L206.1,195.36 L206.6,195.43 L207.1,195.49 L207.6,195.54 L208.1,195.58 L208.6,195.62 L209.1,195.65 L209.6,195.68 L210.1,195.7 L210.6,195.72 L211.1,195.73 L211.6,195.74 L212.1,195.75 L212.6,195.76 L213.1,195.77 L213.6,195.78 L214.1,195.78 L214.6,195.79 L215.1,195.79 L215.6,195.79 L216.1,195.79 L216.6,195.79 L217.1,195.8 L217.6,195.8 L218.1,195.8 L218.6,195.8" fill="none" stroke="#c0c0c0" stroke-width="0.7" stroke-linejoin="round" stroke-dasharray="1.5,0.7"/>
<path d="M81.6,195.6 C86.33,195.57 101.93,195.47 110,195.4 C118.07,195.33 125,195.32 130,195.2 C135,195.08 137.12,195.02 140,194.7 C142.88,194.38 144.88,193.78 147.3,193.3 C149.72,192.82 152.08,192.28 154.5,191.8 C156.92,191.32 159.88,190.82 161.8,190.4 C163.72,189.98 164.78,189.78 166,189.3 C167.22,188.82 168.1,188.18 169.1,187.5 C170.1,186.82 171.03,186.05 172,185.2 C172.97,184.35 173.68,183.6 174.9,182.4 C176.12,181.2 177.85,178.98 179.3,178 C180.75,177.02 182.15,176.5 183.6,176.5 C185.05,176.5 186.53,177.02 188,178 C189.47,178.98 190.7,180.58 192.4,182.4 C194.1,184.22 196.27,186.97 198.2,188.9 C200.13,190.83 202.07,192.83 204,194 C205.93,195.17 207.13,195.53 209.8,195.9 C212.47,196.27 214.8,196.15 220,196.2 C225.2,196.25 237.5,196.2 241,196.2" fill="none" stroke="#d8866c" stroke-width="1.2" stroke-linejoin="round"/>
<path d="M81.6,195.6 C86.33,195.57 101.93,195.47 110,195.4 C118.07,195.33 125,195.32 130,195.2 C135,195.08 137.12,195.02 140,194.7 C142.88,194.38 144.88,193.78 147.3,193.3 C149.72,192.82 152.08,192.28 154.5,191.8 C156.92,191.32 159.88,190.82 161.8,190.4 C163.72,189.98 164.78,189.78 166,189.3 C167.22,188.82 168.1,188.18 169.1,187.5 C170.1,186.82 171.03,186.05 172,185.2 C172.97,184.35 173.68,183.6 174.9,182.4 C176.12,181.2 177.85,178.98 179.3,178 C180.75,177.02 182.15,176.5 183.6,176.5 C185.05,176.5 186.53,177.02 188,178 C189.47,178.98 190.7,180.58 192.4,182.4 C194.1,184.22 196.27,186.97 198.2,188.9 C200.13,190.83 202.07,192.83 204,194 C205.93,195.17 207.13,195.53 209.8,195.9 C212.47,196.27 214.8,196.15 220,196.2 C225.2,196.25 237.5,196.2 241,196.2" fill="none" stroke="#7a5048" stroke-width="0.5" stroke-linejoin="round" stroke-dasharray="0.8,1.6" opacity="0.8"/>
<rect x="89.8" y="27.4" width="29.6" height="12" fill="#ffff00"/>
<rect x="149.4" y="26.5" width="28.3" height="11.4" fill="#ffff00"/>
<text x="90.6" y="36.9" font-family="Liberation Sans" font-size="8.6" font-weight="bold" fill="#111" stroke="#111" stroke-width="0.3" textLength="28" lengthAdjust="spacingAndGlyphs">CF<tspan font-size="5.6" dy="2">2</tspan><tspan dy="-2">-CH</tspan><tspan font-size="5.6" dy="2">2</tspan></text>
<line x1="90.7" y1="38.1" x2="96.1" y2="38.1" stroke="#111" stroke-width="0.7"/>
<text x="104" y="49.4" font-family="Liberation Sans" font-size="9" font-weight="bold" fill="#111" text-anchor="middle" textLength="37" lengthAdjust="spacingAndGlyphs" stroke="#111" stroke-width="0.3">(O-COOH)</text>
<text x="150.2" y="35.2" font-family="Liberation Sans" font-size="8.6" font-weight="bold" fill="#111" stroke="#111" stroke-width="0.3" textLength="27" lengthAdjust="spacingAndGlyphs">CF<tspan font-size="5.6" dy="1.6">2</tspan><tspan dy="-1.6">-CH</tspan><tspan font-size="5.6" dy="1.6">2</tspan></text>
<line x1="164.4" y1="36.4" x2="169.8" y2="36.4" stroke="#111" stroke-width="0.7"/>
<text x="163.6" y="47.2" font-family="Liberation Sans" font-size="9" font-weight="bold" fill="#111" text-anchor="middle" textLength="44.3" lengthAdjust="spacingAndGlyphs" stroke="#111" stroke-width="0.3">(C-O/ C-OH)</text>
<text x="41.5" y="66.6" font-family="Liberation Sans" font-size="12" font-weight="bold" fill="#111" text-anchor="start" textLength="28.5" lengthAdjust="spacingAndGlyphs" stroke="#111" stroke-width="0.3">PVDF</text>
<line x1="73.8" y1="64.5" x2="164.4" y2="64.5" stroke="#4472c4" stroke-width="2"/>
<line x1="104.4" y1="64.5" x2="104.4" y2="56.7" stroke="#4472c4" stroke-width="1.8"/>
<polygon points="104.4,52.7 106.8,57.2 102,57.2" fill="#4472c4"/>
<line x1="104.4" y1="64.5" x2="104.4" y2="103.2" stroke="#4472c4" stroke-width="1.8"/>
<polygon points="104.4,107.2 102,102.7 106.8,102.7" fill="#4472c4"/>
<line x1="164.2" y1="64.5" x2="164.2" y2="56.7" stroke="#4472c4" stroke-width="1.8"/>
<polygon points="164.2,52.7 166.6,57.2 161.8,57.2" fill="#4472c4"/>
<line x1="164.2" y1="64.5" x2="164.2" y2="85.8" stroke="#4472c4" stroke-width="1.8"/>
<polygon points="164.2,89.8 161.8,85.3 166.6,85.3" fill="#4472c4"/>
<text x="111.8" y="102" font-family="Liberation Sans" font-size="9.2" font-weight="bold" fill="#111" text-anchor="start" textLength="45.3" lengthAdjust="spacingAndGlyphs" stroke="#111" stroke-width="0.3">O-C-O / C=O</text>
<line x1="138.4" y1="136.2" x2="138.4" y2="112.1" stroke="#111" stroke-width="1.6"/>
<polygon points="138.4,108.1 140.6,112.6 136.2,112.6" fill="#111"/>
<text x="215" y="67.8" font-family="Liberation Sans" font-size="8.2" font-weight="bold" fill="#111" stroke="#111" stroke-width="0.3" textLength="25.6" lengthAdjust="spacingAndGlyphs">C-C sp<tspan font-size="5.4" dy="-3">2</tspan></text>
<text x="215" y="107.7" font-family="Liberation Sans" font-size="8.2" font-weight="bold" fill="#111" stroke="#111" stroke-width="0.3" textLength="25.6" lengthAdjust="spacingAndGlyphs">C-H sp<tspan font-size="5.4" dy="-3">3</tspan></text>
<line x1="191.3" y1="97" x2="212.93" y2="73.79" stroke="#111" stroke-width="1.6"/>
<polygon points="216,70.5 214.35,75.79 210.84,72.52" fill="#111"/>
<line x1="184" y1="136" x2="209.79" y2="110.65" stroke="#111" stroke-width="1.6"/>
<polygon points="213,107.5 211.12,112.72 207.75,109.29" fill="#111"/>
<rect x="246.7" y="7.3" width="23.3" height="16.9" fill="#fff" stroke="#555" stroke-width="1.3"/>
<text x="251.8" y="19" font-family="Liberation Serif" font-size="9.2" font-weight="bold" fill="#111" text-anchor="start" textLength="12.7" lengthAdjust="spacingAndGlyphs" stroke="#111" stroke-width="0.3">C1s</text>
<text x="35.9" y="202.2" font-family="Liberation Sans" font-size="11" font-weight="bold" fill="#111" text-anchor="start" textLength="12.4" lengthAdjust="spacingAndGlyphs" stroke="#111" stroke-width="0.55">(a)</text>
<rect x="304.4" y="3.6" width="240.2" height="205.2" fill="none" stroke="#9a9a9a" stroke-width="1.1"/>
<line x1="302.6" y1="204.38" x2="304.4" y2="204.38" stroke="#8a8a8a" stroke-width="0.8"/>
<line x1="302.6" y1="197.2" x2="304.4" y2="197.2" stroke="#8a8a8a" stroke-width="0.8"/>
<line x1="302.6" y1="190.02" x2="304.4" y2="190.02" stroke="#8a8a8a" stroke-width="0.8"/>
<line x1="302.6" y1="182.84" x2="304.4" y2="182.84" stroke="#8a8a8a" stroke-width="0.8"/>
<line x1="302.6" y1="175.66" x2="304.4" y2="175.66" stroke="#8a8a8a" stroke-width="0.8"/>
<line x1="302.6" y1="168.48" x2="304.4" y2="168.48" stroke="#8a8a8a" stroke-width="0.8"/>
<line x1="302.6" y1="161.3" x2="304.4" y2="161.3" stroke="#8a8a8a" stroke-width="0.8"/>
<line x1="302.6" y1="154.12" x2="304.4" y2="154.12" stroke="#8a8a8a" stroke-width="0.8"/>
<line x1="302.6" y1="146.94" x2="304.4" y2="146.94" stroke="#8a8a8a" stroke-width="0.8"/>
<line x1="302.6" y1="139.76" x2="304.4" y2="139.76" stroke="#8a8a8a" stroke-width="0.8"/>
<line x1="302.6" y1="132.58" x2="304.4" y2="132.58" stroke="#8a8a8a" stroke-width="0.8"/>
<line x1="302.6" y1="125.4" x2="304.4" y2="125.4" stroke="#8a8a8a" stroke-width="0.8"/>
<line x1="302.6" y1="118.22" x2="304.4" y2="118.22" stroke="#8a8a8a" stroke-width="0.8"/>
<line x1="302.6" y1="111.04" x2="304.4" y2="111.04" stroke="#8a8a8a" stroke-width="0.8"/>
<line x1="302.6" y1="103.86" x2="304.4" y2="103.86" stroke="#8a8a8a" stroke-width="0.8"/>
<line x1="302.6" y1="96.68" x2="304.4" y2="96.68" stroke="#8a8a8a" stroke-width="0.8"/>
<line x1="302.6" y1="89.5" x2="304.4" y2="89.5" stroke="#8a8a8a" stroke-width="0.8"/>
<line x1="302.6" y1="82.32" x2="304.4" y2="82.32" stroke="#8a8a8a" stroke-width="0.8"/>
<line x1="302.6" y1="75.14" x2="304.4" y2="75.14" stroke="#8a8a8a" stroke-width="0.8"/>
<line x1="302.6" y1="67.96" x2="304.4" y2="67.96" stroke="#8a8a8a" stroke-width="0.8"/>
<line x1="302.6" y1="60.78" x2="304.4" y2="60.78" stroke="#8a8a8a" stroke-width="0.8"/>
<line x1="302.6" y1="53.6" x2="304.4" y2="53.6" stroke="#8a8a8a" stroke-width="0.8"/>
<line x1="302.6" y1="46.42" x2="304.4" y2="46.42" stroke="#8a8a8a" stroke-width="0.8"/>
<line x1="302.6" y1="39.24" x2="304.4" y2="39.24" stroke="#8a8a8a" stroke-width="0.8"/>
<line x1="302.6" y1="32.06" x2="304.4" y2="32.06" stroke="#8a8a8a" stroke-width="0.8"/>
<line x1="302.6" y1="24.88" x2="304.4" y2="24.88" stroke="#8a8a8a" stroke-width="0.8"/>
<line x1="302.6" y1="17.7" x2="304.4" y2="17.7" stroke="#8a8a8a" stroke-width="0.8"/>
<line x1="302.6" y1="10.52" x2="304.4" y2="10.52" stroke="#8a8a8a" stroke-width="0.8"/>
<line x1="301.6" y1="197.2" x2="304.4" y2="197.2" stroke="#8a8a8a" stroke-width="0.9"/>
<text x="299.3" y="199.1" font-family="Liberation Sans" font-size="6.4" font-weight="normal" fill="#202020" text-anchor="end" textLength="3.2" lengthAdjust="spacingAndGlyphs" stroke="#444" stroke-width="0.12">0</text>
<line x1="301.6" y1="161.3" x2="304.4" y2="161.3" stroke="#8a8a8a" stroke-width="0.9"/>
<text x="299.3" y="163.2" font-family="Liberation Sans" font-size="6.4" font-weight="normal" fill="#202020" text-anchor="end" textLength="12.8" lengthAdjust="spacingAndGlyphs" stroke="#444" stroke-width="0.12">1000</text>
<line x1="301.6" y1="125.4" x2="304.4" y2="125.4" stroke="#8a8a8a" stroke-width="0.9"/>
<text x="299.3" y="127.3" font-family="Liberation Sans" font-size="6.4" font-weight="normal" fill="#202020" text-anchor="end" textLength="12.8" lengthAdjust="spacingAndGlyphs" stroke="#444" stroke-width="0.12">2000</text>
<line x1="301.6" y1="89.5" x2="304.4" y2="89.5" stroke="#8a8a8a" stroke-width="0.9"/>
<text x="299.3" y="91.4" font-family="Liberation Sans" font-size="6.4" font-weight="normal" fill="#202020" text-anchor="end" textLength="12.8" lengthAdjust="spacingAndGlyphs" stroke="#444" stroke-width="0.12">3000</text>
<line x1="301.6" y1="53.6" x2="304.4" y2="53.6" stroke="#8a8a8a" stroke-width="0.9"/>
<text x="299.3" y="55.5" font-family="Liberation Sans" font-size="6.4" font-weight="normal" fill="#202020" text-anchor="end" textLength="12.8" lengthAdjust="spacingAndGlyphs" stroke="#444" stroke-width="0.12">4000</text>
<line x1="301.6" y1="17.7" x2="304.4" y2="17.7" stroke="#8a8a8a" stroke-width="0.9"/>
<text x="299.3" y="19.6" font-family="Liberation Sans" font-size="6.4" font-weight="normal" fill="#202020" text-anchor="end" textLength="12.8" lengthAdjust="spacingAndGlyphs" stroke="#444" stroke-width="0.12">5000</text>
<line x1="537.93" y1="208.8" x2="537.93" y2="210.6" stroke="#8a8a8a" stroke-width="0.8"/>
<line x1="529.62" y1="208.8" x2="529.62" y2="210.6" stroke="#8a8a8a" stroke-width="0.8"/>
<line x1="521.3" y1="208.8" x2="521.3" y2="210.6" stroke="#8a8a8a" stroke-width="0.8"/>
<line x1="512.99" y1="208.8" x2="512.99" y2="210.6" stroke="#8a8a8a" stroke-width="0.8"/>
<line x1="504.67" y1="208.8" x2="504.67" y2="210.6" stroke="#8a8a8a" stroke-width="0.8"/>
<line x1="496.36" y1="208.8" x2="496.36" y2="210.6" stroke="#8a8a8a" stroke-width="0.8"/>
<line x1="488.04" y1="208.8" x2="488.04" y2="210.6" stroke="#8a8a8a" stroke-width="0.8"/>
<line x1="479.73" y1="208.8" x2="479.73" y2="210.6" stroke="#8a8a8a" stroke-width="0.8"/>
<line x1="471.41" y1="208.8" x2="471.41" y2="210.6" stroke="#8a8a8a" stroke-width="0.8"/>
<line x1="463.1" y1="208.8" x2="463.1" y2="210.6" stroke="#8a8a8a" stroke-width="0.8"/>
<line x1="454.78" y1="208.8" x2="454.78" y2="210.6" stroke="#8a8a8a" stroke-width="0.8"/>
<line x1="446.46" y1="208.8" x2="446.46" y2="210.6" stroke="#8a8a8a" stroke-width="0.8"/>
<line x1="438.15" y1="208.8" x2="438.15" y2="210.6" stroke="#8a8a8a" stroke-width="0.8"/>
<line x1="429.83" y1="208.8" x2="429.83" y2="210.6" stroke="#8a8a8a" stroke-width="0.8"/>
<line x1="421.52" y1="208.8" x2="421.52" y2="210.6" stroke="#8a8a8a" stroke-width="0.8"/>
<line x1="413.2" y1="208.8" x2="413.2" y2="210.6" stroke="#8a8a8a" stroke-width="0.8"/>
<line x1="404.89" y1="208.8" x2="404.89" y2="210.6" stroke="#8a8a8a" stroke-width="0.8"/>
<line x1="396.57" y1="208.8" x2="396.57" y2="210.6" stroke="#8a8a8a" stroke-width="0.8"/>
<line x1="388.26" y1="208.8" x2="388.26" y2="210.6" stroke="#8a8a8a" stroke-width="0.8"/>
<line x1="379.94" y1="208.8" x2="379.94" y2="210.6" stroke="#8a8a8a" stroke-width="0.8"/>
<line x1="371.63" y1="208.8" x2="371.63" y2="210.6" stroke="#8a8a8a" stroke-width="0.8"/>
<line x1="363.31" y1="208.8" x2="363.31" y2="210.6" stroke="#8a8a8a" stroke-width="0.8"/>
<line x1="355" y1="208.8" x2="355" y2="210.6" stroke="#8a8a8a" stroke-width="0.8"/>
<line x1="346.69" y1="208.8" x2="346.69" y2="210.6" stroke="#8a8a8a" stroke-width="0.8"/>
<line x1="338.37" y1="208.8" x2="338.37" y2="210.6" stroke="#8a8a8a" stroke-width="0.8"/>
<line x1="330.06" y1="208.8" x2="330.06" y2="210.6" stroke="#8a8a8a" stroke-width="0.8"/>
<line x1="321.74" y1="208.8" x2="321.74" y2="210.6" stroke="#8a8a8a" stroke-width="0.8"/>
<line x1="313.43" y1="208.8" x2="313.43" y2="210.6" stroke="#8a8a8a" stroke-width="0.8"/>
<line x1="305.11" y1="208.8" x2="305.11" y2="210.6" stroke="#8a8a8a" stroke-width="0.8"/>
<line x1="355" y1="208.8" x2="355" y2="211.4" stroke="#8a8a8a" stroke-width="0.9"/>
<text x="355" y="219.7" font-family="Liberation Sans" font-size="6.4" font-weight="normal" fill="#202020" text-anchor="middle" textLength="9.9" lengthAdjust="spacingAndGlyphs" stroke="#444" stroke-width="0.12">690</text>
<line x1="438.15" y1="208.8" x2="438.15" y2="211.4" stroke="#8a8a8a" stroke-width="0.9"/>
<text x="438.15" y="219.7" font-family="Liberation Sans" font-size="6.4" font-weight="normal" fill="#202020" text-anchor="middle" textLength="9.9" lengthAdjust="spacingAndGlyphs" stroke="#444" stroke-width="0.12">685</text>
<line x1="521.3" y1="208.8" x2="521.3" y2="211.4" stroke="#8a8a8a" stroke-width="0.9"/>
<text x="521.3" y="219.7" font-family="Liberation Sans" font-size="6.4" font-weight="normal" fill="#202020" text-anchor="middle" textLength="9.9" lengthAdjust="spacingAndGlyphs" stroke="#444" stroke-width="0.12">680</text>
<text x="424.2" y="230.6" font-family="Liberation Sans" font-size="6.4" font-weight="normal" fill="#202020" text-anchor="middle" textLength="55.2" lengthAdjust="spacingAndGlyphs">Binding Energy [eV]</text>
<text x="0" y="0" font-family="Liberation Sans" font-size="6.4" fill="#202020" text-anchor="middle" textLength="56" lengthAdjust="spacingAndGlyphs" transform="translate(282.2,100) rotate(-90)">Intensity [cps]</text>
<rect x="458.4" y="16.8" width="1.3" height="1.3" fill="#111"/>
<text x="462.4" y="19.7" font-family="Liberation Sans" font-size="5.4" font-weight="normal" fill="#111" text-anchor="start" textLength="46.6" lengthAdjust="spacingAndGlyphs" stroke="#111" stroke-width="0.15">10nm Al2O3 on LFP</text>
<line x1="515" y1="16.9" x2="529.6" y2="16.9" stroke="#808080" stroke-width="1.2"/>
<rect x="458.4" y="22.6" width="1.3" height="1.3" fill="#e01818"/>
<text x="463.1" y="25.5" font-family="Liberation Sans" font-size="5.4" font-weight="normal" fill="#e01818" text-anchor="start" textLength="45.5" lengthAdjust="spacingAndGlyphs" stroke="#e01818" stroke-width="0.15">5nm Al2O3 on LFP</text>
<line x1="515" y1="22.7" x2="529.6" y2="22.7" stroke="#f49090" stroke-width="1.2"/>
<rect x="458.4" y="28.4" width="1.3" height="1.3" fill="#30c030"/>
<text x="463.1" y="31.3" font-family="Liberation Sans" font-size="5.4" font-weight="normal" fill="#30c030" text-anchor="start" textLength="28.6" lengthAdjust="spacingAndGlyphs" stroke="#30c030" stroke-width="0.15">pristine LFP</text>
<line x1="515" y1="28.5" x2="529.6" y2="28.5" stroke="#98e098" stroke-width="1.2"/>
<path d="M322,131.3 L454,131.8" fill="none" stroke="#a8cccc" stroke-width="0.8" stroke-linejoin="round" stroke-dasharray="1,1.2"/>
<path d="M319,164.5 L531,164.6" fill="none" stroke="#a8cccc" stroke-width="0.8" stroke-linejoin="round" stroke-dasharray="1,1.2"/>
<path d="M363,197.2 L501,197.2" fill="none" stroke="#a8cccc" stroke-width="0.8" stroke-linejoin="round" stroke-dasharray="1,1.2"/>
<path d="M351,164.47 L351.5,164.47 L352,164.46 L352.5,164.46 L353,164.46 L353.5,164.45 L354,164.44 L354.5,164.44 L355,164.43 L355.5,164.42 L356,164.42 L356.5,164.41 L357,164.4 L357.5,164.39 L358,164.37 L358.5,164.36 L359,164.35 L359.5,164.33 L360,164.32 L360.5,164.3 L361,164.28 L361.5,164.26 L362,164.24 L362.5,164.21 L363,164.19 L363.5,164.16 L364,164.13 L364.5,164.1 L365,164.07 L365.5,164.03 L366,164 L366.5,163.96 L367,163.91 L367.5,163.87 L368,163.82 L368.5,163.77 L369,163.72 L369.5,163.67 L370,163.61 L370.5,163.55 L371,163.48 L371.5,163.42 L372,163.35 L372.5,163.28 L373,163.2 L373.5,163.13 L374,163.05 L374.5,162.96 L375,162.88 L375.5,162.79 L376,162.7 L376.5,162.6 L377,162.51 L377.5,162.41 L378,162.31 L378.5,162.21 L379,162.11 L379.5,162 L380,161.9 L380.5,161.79 L381,161.68 L381.5,161.58 L382,161.47 L382.5,161.36 L383,161.25 L383.5,161.14 L384,161.04 L384.5,160.93 L385,160.83 L385.5,160.73 L386,160.63 L386.5,160.53 L387,160.43 L387.5,160.34 L388,160.25 L388.5,160.17 L389,160.09 L389.5,160.01 L390,159.94 L390.5,159.87 L391,159.81 L391.5,159.75 L392,159.7 L392.5,159.65 L393,159.61 L393.5,159.58 L394,159.55 L394.5,159.53 L395,159.51 L395.5,159.5 L396,159.5 L396.5,159.5 L397,159.51 L397.5,159.53 L398,159.55 L398.5,159.58 L399,159.61 L399.5,159.65 L400,159.7 L400.5,159.75 L401,159.81 L401.5,159.87 L402,159.94 L402.5,160.01 L403,160.09 L403.5,160.17 L404,160.25 L404.5,160.34 L405,160.43 L405.5,160.53 L406,160.63 L406.5,160.73 L407,160.83 L407.5,160.93 L408,161.04 L408.5,161.14 L409,161.25 L409.5,161.36 L410,161.47 L410.5,161.58 L411,161.68 L411.5,161.79 L412,161.9 L412.5,162 L413,162.11 L413.5,162.21 L414,162.31 L414.5,162.41 L415,162.51 L415.5,162.6 L416,162.7 L416.5,162.79 L417,162.88 L417.5,162.96 L418,163.05 L418.5,163.13 L419,163.2 L419.5,163.28 L420,163.35 L420.5,163.42 L421,163.48 L421.5,163.55 L422,163.61 L422.5,163.67 L423,163.72 L423.5,163.77 L424,163.82 L424.5,163.87 L425,163.91 L425.5,163.96 L426,164 L426.5,164.03 L427,164.07 L427.5,164.1 L428,164.13 L428.5,164.16 L429,164.19 L429.5,164.21 L430,164.24 L430.5,164.26 L431,164.28 L431.5,164.3 L432,164.32 L432.5,164.33 L433,164.35 L433.5,164.36 L434,164.37 L434.5,164.39 L435,164.4 L435.5,164.41 L436,164.42 L436.5,164.42 L437,164.43 L437.5,164.44 L438,164.44 L438.5,164.45 L439,164.46 L439.5,164.46 L440,164.46 L440.5,164.47 L441,164.47" fill="none" stroke="#c0c0c0" stroke-width="0.7" stroke-linejoin="round" stroke-dasharray="1.5,0.7"/>
<path d="M379,164.43 L379.5,164.42 L380,164.41 L380.5,164.39 L381,164.38 L381.5,164.36 L382,164.34 L382.5,164.32 L383,164.3 L383.5,164.27 L384,164.24 L384.5,164.21 L385,164.18 L385.5,164.14 L386,164.1 L386.5,164.05 L387,163.99 L387.5,163.94 L388,163.87 L388.5,163.8 L389,163.73 L389.5,163.64 L390,163.55 L390.5,163.45 L391,163.34 L391.5,163.23 L392,163.1 L392.5,162.96 L393,162.81 L393.5,162.65 L394,162.48 L394.5,162.29 L395,162.09 L395.5,161.88 L396,161.65 L396.5,161.4 L397,161.14 L397.5,160.87 L398,160.58 L398.5,160.26 L399,159.94 L399.5,159.59 L400,159.22 L400.5,158.84 L401,158.44 L401.5,158.01 L402,157.57 L402.5,157.11 L403,156.63 L403.5,156.14 L404,155.62 L404.5,155.09 L405,154.53 L405.5,153.96 L406,153.38 L406.5,152.78 L407,152.17 L407.5,151.54 L408,150.9 L408.5,150.25 L409,149.6 L409.5,148.93 L410,148.26 L410.5,147.59 L411,146.91 L411.5,146.23 L412,145.56 L412.5,144.89 L413,144.23 L413.5,143.57 L414,142.93 L414.5,142.3 L415,141.68 L415.5,141.08 L416,140.5 L416.5,139.95 L417,139.41 L417.5,138.91 L418,138.43 L418.5,137.98 L419,137.57 L419.5,137.19 L420,136.84 L420.5,136.53 L421,136.26 L421.5,136.03 L422,135.84 L422.5,135.69 L423,135.59 L423.5,135.52 L424,135.5 L424.5,135.52 L425,135.59 L425.5,135.69 L426,135.84 L426.5,136.03 L427,136.26 L427.5,136.53 L428,136.84 L428.5,137.19 L429,137.57 L429.5,137.98 L430,138.43 L430.5,138.91 L431,139.41 L431.5,139.95 L432,140.5 L432.5,141.08 L433,141.68 L433.5,142.3 L434,142.93 L434.5,143.57 L435,144.23 L435.5,144.89 L436,145.56 L436.5,146.23 L437,146.91 L437.5,147.59 L438,148.26 L438.5,148.93 L439,149.6 L439.5,150.25 L440,150.9 L440.5,151.54 L441,152.17 L441.5,152.78 L442,153.38 L442.5,153.96 L443,154.53 L443.5,155.09 L444,155.62 L444.5,156.14 L445,156.63 L445.5,157.11 L446,157.57 L446.5,158.01 L447,158.44 L447.5,158.84 L448,159.22 L448.5,159.59 L449,159.94 L449.5,160.26 L450,160.58 L450.5,160.87 L451,161.14 L451.5,161.4 L452,161.65 L452.5,161.88 L453,162.09 L453.5,162.29 L454,162.48 L454.5,162.65 L455,162.81 L455.5,162.96 L456,163.1 L456.5,163.23 L457,163.34 L457.5,163.45 L458,163.55 L458.5,163.64 L459,163.73 L459.5,163.8 L460,163.87 L460.5,163.94 L461,163.99 L461.5,164.05 L462,164.1 L462.5,164.14 L463,164.18 L463.5,164.21 L464,164.24 L464.5,164.27 L465,164.3 L465.5,164.32 L466,164.34 L466.5,164.36 L467,164.38 L467.5,164.39 L468,164.41 L468.5,164.42 L469,164.43" fill="none" stroke="#c0c0c0" stroke-width="0.7" stroke-linejoin="round" stroke-dasharray="1.5,0.7"/>
<path d="M322.2,130.72 L322.7,130.71 L323.2,130.69 L323.7,130.68 L324.2,130.66 L324.7,130.65 L325.2,130.63 L325.7,130.61 L326.2,130.59 L326.7,130.57 L327.2,130.55 L327.7,130.52 L328.2,130.49 L328.7,130.46 L329.2,130.43 L329.7,130.4 L330.2,130.36 L330.7,130.32 L331.2,130.28 L331.7,130.24 L332.2,130.19 L332.7,130.15 L333.2,130.1 L333.7,130.04 L334.2,129.99 L334.7,129.93 L335.2,129.87 L335.7,129.8 L336.2,129.73 L336.7,129.67 L337.2,129.59 L337.7,129.52 L338.2,129.44 L338.7,129.37 L339.2,129.29 L339.7,129.21 L340.2,129.12 L340.7,129.04 L341.2,128.95 L341.7,128.87 L342.2,128.78 L342.7,128.69 L343.2,128.6 L343.7,128.51 L344.2,128.42 L344.7,128.33 L345.2,128.23 L345.7,128.14 L346.2,128.05 L346.7,127.95 L347.2,127.85 L347.7,127.76 L348.2,127.65 L348.7,127.55 L349.2,127.44 L349.7,127.33 L350.2,127.21 L350.7,127.09 L351.2,126.96 L351.7,126.82 L352.2,126.67 L352.7,126.51 L353.2,126.34 L353.7,126.15 L354.2,125.95 L354.7,125.73 L355.2,125.49 L355.7,125.22 L356.2,124.94 L356.7,124.63 L357.2,124.29 L357.7,123.91 L358.2,123.51 L358.7,123.07 L359.2,122.59 L359.7,122.07 L360.2,121.5 L360.7,120.89 L361.2,120.23 L361.7,119.52 L362.2,118.75 L362.7,117.93 L363.2,117.05 L363.7,116.1 L364.2,115.09 L364.7,114.02 L365.2,112.88 L365.7,111.67 L366.2,110.38 L366.7,109.02 L367.2,107.59 L367.7,106.09 L368.2,104.51 L368.7,102.85 L369.2,101.11 L369.7,99.31 L370.2,97.42 L370.7,95.46 L371.2,93.43 L371.7,91.33 L372.2,89.16 L372.7,86.93 L373.2,84.63 L373.7,82.27 L374.2,79.86 L374.7,77.4 L375.2,74.9 L375.7,72.35 L376.2,69.77 L376.7,67.16 L377.2,64.53 L377.7,61.89 L378.2,59.24 L378.7,56.59 L379.2,53.96 L379.7,51.34 L380.2,48.74 L380.7,46.19 L381.2,43.67 L381.7,41.22 L382.2,38.82 L382.7,36.5 L383.2,34.26 L383.7,32.12 L384.2,30.07 L384.7,28.14 L385.2,26.33 L385.7,24.64 L386.2,23.09 L386.7,21.69 L387.2,20.43 L387.7,19.34 L388.2,18.41 L388.7,17.65 L389.2,17.06 L389.7,16.65 L390.2,16.42 L390.7,16.36 L391.2,16.49 L391.7,16.8 L392.2,17.29 L392.7,17.95 L393.2,18.78 L393.7,19.78 L394.2,20.95 L394.7,22.26 L395.2,23.73 L395.7,25.34 L396.2,27.08 L396.7,28.95 L397.2,30.93 L397.7,33.02 L398.2,35.21 L398.7,37.49 L399.2,39.85 L399.7,42.27 L400.2,44.76 L400.7,47.3 L401.2,49.87 L401.7,52.49 L402.2,55.12 L402.7,57.77 L403.2,60.43 L403.7,63.08 L404.2,65.73 L404.7,68.36 L405.2,70.97 L405.7,73.54 L406.2,76.08 L406.7,78.58 L407.2,81.04 L407.7,83.44 L408.2,85.79 L408.7,88.08 L409.2,90.3 L409.7,92.46 L410.2,94.55 L410.7,96.57 L411.2,98.52 L411.7,100.4 L412.2,102.2 L412.7,103.92 L413.2,105.57 L413.7,107.15 L414.2,108.65 L414.7,110.08 L415.2,111.44 L415.7,112.72 L416.2,113.94 L416.7,115.09 L417.2,116.17 L417.7,117.18 L418.2,118.14 L418.7,119.03 L419.2,119.87 L419.7,120.65 L420.2,121.37 L420.7,122.05 L421.2,122.68 L421.7,123.27 L422.2,123.81 L422.7,124.31 L423.2,124.77 L423.7,125.2 L424.2,125.59 L424.7,125.96 L425.2,126.29 L425.7,126.6 L426.2,126.89 L426.7,127.15 L427.2,127.39 L427.7,127.61 L428.2,127.82 L428.7,128.01 L429.2,128.19 L429.7,128.35 L430.2,128.5 L430.7,128.64 L431.2,128.77 L431.7,128.9 L432.2,129.01 L432.7,129.12 L433.2,129.23 L433.7,129.32 L434.2,129.42 L434.7,129.51 L435.2,129.59 L435.7,129.67 L436.2,129.75 L436.7,129.83 L437.2,129.9 L437.7,129.97 L438.2,130.03 L438.7,130.1 L439.2,130.16 L439.7,130.22 L440.2,130.28 L440.7,130.33 L441.2,130.38 L441.7,130.43 L442.2,130.48 L442.7,130.53 L443.2,130.57 L443.7,130.62 L444.2,130.66 L444.7,130.7 L445.2,130.73 L445.7,130.77 L446.2,130.8 L446.7,130.83 L447.2,130.86 L447.7,130.89 L448.2,130.92 L448.7,130.95 L449.2,130.97 L449.7,130.99 L450.2,131.02 L450.7,131.04 L451.2,131.06 L451.7,131.08 L452.2,131.09 L452.7,131.11 L453.2,131.13 L453.7,131.14" fill="none" stroke="#98e090" stroke-width="1.1" stroke-linejoin="round"/>
<path d="M322.2,130.76 L322.7,130.76 L323.2,130.75 L323.7,130.75 L324.2,130.74 L324.7,130.73 L325.2,130.73 L325.7,130.72 L326.2,130.71 L326.7,130.71 L327.2,130.7 L327.7,130.69 L328.2,130.68 L328.7,130.67 L329.2,130.67 L329.7,130.66 L330.2,130.65 L330.7,130.64 L331.2,130.63 L331.7,130.62 L332.2,130.61 L332.7,130.6 L333.2,130.59 L333.7,130.58 L334.2,130.56 L334.7,130.55 L335.2,130.54 L335.7,130.53 L336.2,130.51 L336.7,130.5 L337.2,130.48 L337.7,130.46 L338.2,130.45 L338.7,130.43 L339.2,130.41 L339.7,130.39 L340.2,130.37 L340.7,130.34 L341.2,130.32 L341.7,130.29 L342.2,130.26 L342.7,130.23 L343.2,130.19 L343.7,130.16 L344.2,130.12 L344.7,130.07 L345.2,130.02 L345.7,129.97 L346.2,129.92 L346.7,129.85 L347.2,129.79 L347.7,129.71 L348.2,129.63 L348.7,129.54 L349.2,129.45 L349.7,129.34 L350.2,129.22 L350.7,129.1 L351.2,128.96 L351.7,128.81 L352.2,128.64 L352.7,128.46 L353.2,128.26 L353.7,128.04 L354.2,127.8 L354.7,127.54 L355.2,127.26 L355.7,126.95 L356.2,126.62 L356.7,126.26 L357.2,125.86 L357.7,125.44 L358.2,124.98 L358.7,124.48 L359.2,123.94 L359.7,123.37 L360.2,122.74 L360.7,122.08 L361.2,121.36 L361.7,120.59 L362.2,119.77 L362.7,118.9 L363.2,117.97 L363.7,116.97 L364.2,115.92 L364.7,114.8 L365.2,113.62 L365.7,112.36 L366.2,111.04 L366.7,109.65 L367.2,108.19 L367.7,106.66 L368.2,105.05 L368.7,103.37 L369.2,101.61 L369.7,99.79 L370.2,97.89 L370.7,95.92 L371.2,93.87 L371.7,91.76 L372.2,89.59 L372.7,87.35 L373.2,85.05 L373.7,82.69 L374.2,80.28 L374.7,77.82 L375.2,75.32 L375.7,72.78 L376.2,70.21 L376.7,67.61 L377.2,64.99 L377.7,62.36 L378.2,59.72 L378.7,57.08 L379.2,54.46 L379.7,51.85 L380.2,49.27 L380.7,46.72 L381.2,44.22 L381.7,41.78 L382.2,39.4 L382.7,37.09 L383.2,34.86 L383.7,32.73 L384.2,30.7 L384.7,28.77 L385.2,26.97 L385.7,25.29 L386.2,23.75 L386.7,22.36 L387.2,21.11 L387.7,20.02 L388.2,19.1 L388.7,18.34 L389.2,17.76 L389.7,17.35 L390.2,17.12 L390.7,17.06 L391.2,17.19 L391.7,17.5 L392.2,17.98 L392.7,18.64 L393.2,19.47 L393.7,20.46 L394.2,21.62 L394.7,22.93 L395.2,24.39 L395.7,25.99 L396.2,27.72 L396.7,29.57 L397.2,31.55 L397.7,33.62 L398.2,35.8 L398.7,38.06 L399.2,40.41 L399.7,42.82 L400.2,45.29 L400.7,47.81 L401.2,50.38 L401.7,52.97 L402.2,55.59 L402.7,58.23 L403.2,60.87 L403.7,63.51 L404.2,66.14 L404.7,68.76 L405.2,71.35 L405.7,73.92 L406.2,76.45 L406.7,78.94 L407.2,81.38 L407.7,83.77 L408.2,86.11 L408.7,88.39 L409.2,90.61 L409.7,92.76 L410.2,94.85 L410.7,96.86 L411.2,98.81 L411.7,100.69 L412.2,102.49 L412.7,104.22 L413.2,105.87 L413.7,107.45 L414.2,108.96 L414.7,110.4 L415.2,111.77 L415.7,113.06 L416.2,114.29 L416.7,115.45 L417.2,116.55 L417.7,117.58 L418.2,118.55 L418.7,119.47 L419.2,120.32 L419.7,121.13 L420.2,121.88 L420.7,122.58 L421.2,123.23 L421.7,123.84 L422.2,124.4 L422.7,124.93 L423.2,125.41 L423.7,125.86 L424.2,126.28 L424.7,126.66 L425.2,127.02 L425.7,127.34 L426.2,127.64 L426.7,127.92 L427.2,128.18 L427.7,128.41 L428.2,128.62 L428.7,128.82 L429.2,129 L429.7,129.16 L430.2,129.32 L430.7,129.45 L431.2,129.58 L431.7,129.7 L432.2,129.8 L432.7,129.9 L433.2,129.99 L433.7,130.07 L434.2,130.15 L434.7,130.21 L435.2,130.28 L435.7,130.34 L436.2,130.39 L436.7,130.44 L437.2,130.49 L437.7,130.53 L438.2,130.57 L438.7,130.61 L439.2,130.64 L439.7,130.67 L440.2,130.7 L440.7,130.73 L441.2,130.76 L441.7,130.78 L442.2,130.81 L442.7,130.83 L443.2,130.85 L443.7,130.87 L444.2,130.89 L444.7,130.91 L445.2,130.93 L445.7,130.95 L446.2,130.97 L446.7,130.98 L447.2,131 L447.7,131.01 L448.2,131.03 L448.7,131.04 L449.2,131.06 L449.7,131.07 L450.2,131.08 L450.7,131.1 L451.2,131.11 L451.7,131.12 L452.2,131.14 L452.7,131.15 L453.2,131.16 L453.7,131.17" fill="none" stroke="#f4a088" stroke-width="1.1" stroke-linejoin="round"/>
<path d="M318.6,0 L319.1,0 L319.6,0 L320.1,0 L320.6,0 L321.1,0 L321.6,0 L322.1,0 L322.6,0 L323.1,0 L323.6,0 L324.1,0 L324.6,0 L325.1,0 L325.6,0 L326.1,0 L326.6,0 L327.1,0 L327.6,0 L328.1,0 L328.6,0 L329.1,0 L329.6,0 L330.1,0 L330.6,0 L331.1,0 L331.6,0 L332.1,0 L332.6,0 L333.1,0 L333.6,0 L334.1,0 L334.6,0 L335.1,0 L335.6,0 L336.1,0 L336.6,0 L337.1,0 L337.6,0 L338.1,0 L338.6,0 L339.1,0 L339.6,0 L340.1,0 L340.6,0 L341.1,0 L341.6,0 L342.1,0 L342.6,0 L343.1,0 L343.6,0 L344.1,0 L344.6,0 L345.1,0 L345.6,0 L346.1,0 L346.6,0 L347.1,0 L347.6,0 L348.1,0 L348.6,0 L349.1,0 L349.6,0 L350.1,0 L350.6,0 L351.1,0 L351.6,0 L352.1,0 L352.6,0 L353.1,0 L353.6,0 L354.1,0 L354.6,0 L355.1,0 L355.6,0 L356.1,0 L356.6,0 L357.1,0 L357.6,0 L358.1,0 L358.6,0 L359.1,0 L359.6,0 L360.1,0 L360.6,0 L361.1,0 L361.6,0 L362.1,0 L362.6,0 L363.1,0 L363.6,0 L364.1,0 L364.6,0 L365.1,0 L365.6,0 L366.1,0 L366.6,0 L367.1,0 L367.6,0 L368.1,0 L368.6,0 L369.1,0 L369.6,0 L370.1,0 L370.6,0 L371.1,0 L371.6,0 L372.1,0 L372.6,0 L373.1,0 L373.6,0 L374.1,0 L374.6,0 L375.1,0 L375.6,0 L376.1,0 L376.6,0 L377.1,0 L377.6,0 L378.1,0 L378.6,0 L379.1,0 L379.6,0 L380.1,0 L380.6,0 L381.1,0 L381.6,0 L382.1,0 L382.6,0 L383.1,0 L383.6,0 L384.1,0 L384.6,0 L385.1,0 L385.6,0 L386.1,0 L386.6,0 L387.1,0 L387.6,0 L388.1,0 L388.6,0 L389.1,0 L389.6,0 L390.1,0 L390.6,0 L391.1,0 L391.6,0 L392.1,0 L392.6,0 L393.1,0 L393.6,0 L394.1,0 L394.6,0 L395.1,0 L395.6,0 L396.1,0 L396.6,0 L397.1,0 L397.6,0 L398.1,0 L398.6,0 L399.1,0 L399.6,0 L400.1,0 L400.6,0 L401.1,0 L401.6,0 L402.1,0 L402.6,0 L403.1,0 L403.6,0 L404.1,0 L404.6,0 L405.1,0 L405.6,0 L406.1,0 L406.6,0 L407.1,0 L407.6,0 L408.1,0 L408.6,0 L409.1,0 L409.6,0 L410.1,0 L410.6,0 L411.1,0 L411.6,0 L412.1,0 L412.6,0 L413.1,0 L413.6,0 L414.1,0 L414.6,0 L415.1,0 L415.6,0 L416.1,0 L416.6,0 L417.1,0 L417.6,0 L418.1,0 L418.6,0 L419.1,0 L419.6,0 L420.1,0 L420.6,0 L421.1,0 L421.6,0 L422.1,0 L422.6,0 L423.1,0 L423.6,0 L424.1,0 L424.6,0 L425.1,0 L425.6,0 L426.1,0 L426.6,0 L427.1,0 L427.6,0 L428.1,0 L428.6,0 L429.1,0 L429.6,0 L430.1,0 L430.6,0 L431.1,0 L431.6,0 L432.1,0 L432.6,0 L433.1,0 L433.6,0 L434.1,0 L434.6,0 L435.1,0 L435.6,0 L436.1,0 L436.6,0 L437.1,0 L437.6,0 L438.1,0 L438.6,0 L439.1,0 L439.6,0 L440.1,0 L440.6,0 L441.1,0 L441.6,0 L442.1,0 L442.6,0 L443.1,0 L443.6,0 L444.1,0 L444.6,0 L445.1,0 L445.6,0 L446.1,0 L446.6,0 L447.1,0 L447.6,0 L448.1,0 L448.6,0 L449.1,0 L449.6,0 L450.1,0 L450.6,0 L451.1,0 L451.6,0 L452.1,0 L452.6,0 L453.1,0 L453.6,0 L454.1,0 L454.6,0 L455.1,0 L455.6,0 L456.1,0 L456.6,0 L457.1,0 L457.6,0 L458.1,0 L458.6,0 L459.1,0 L459.6,0 L460.1,0 L460.6,0 L461.1,0 L461.6,0 L462.1,0 L462.6,0 L463.1,0 L463.6,0 L464.1,0 L464.6,0 L465.1,0 L465.6,0 L466.1,0 L466.6,0 L467.1,0 L467.6,0 L468.1,0 L468.6,0 L469.1,0 L469.6,0 L470.1,0 L470.6,0 L471.1,0 L471.6,0 L472.1,0 L472.6,0 L473.1,0 L473.6,0 L474.1,0 L474.6,0 L475.1,0 L475.6,0 L476.1,0 L476.6,0 L477.1,0 L477.6,0 L478.1,0 L478.6,0 L479.1,0 L479.6,0 L480.1,0 L480.6,0 L481.1,0 L481.6,0 L482.1,0 L482.6,0 L483.1,0 L483.6,0 L484.1,0 L484.6,0 L485.1,0 L485.6,0 L486.1,0 L486.6,0 L487.1,0 L487.6,0 L488.1,0 L488.6,0 L489.1,0 L489.6,0 L490.1,0 L490.6,0 L491.1,0 L491.6,0 L492.1,0 L492.6,0 L493.1,0 L493.6,0 L494.1,0 L494.6,0 L495.1,0 L495.6,0 L496.1,0 L496.6,0 L497.1,0 L497.6,0 L498.1,0 L498.6,0 L499.1,0 L499.6,0 L500.1,0 L500.6,0 L501.1,0 L501.6,0 L502.1,0 L502.6,0 L503.1,0 L503.6,0 L504.1,0 L504.6,0 L505.1,0 L505.6,0 L506.1,0 L506.6,0 L507.1,0 L507.6,0 L508.1,0 L508.6,0 L509.1,0 L509.6,0 L510.1,0 L510.6,0 L511.1,0 L511.6,0 L512.1,0 L512.6,0 L513.1,0 L513.6,0 L514.1,0 L514.6,0 L515.1,0 L515.6,0 L516.1,0 L516.6,0 L517.1,0 L517.6,0 L518.1,0 L518.6,0 L519.1,0 L519.6,0 L520.1,0 L520.6,0 L521.1,0 L521.6,0 L522.1,0 L522.6,0 L523.1,0 L523.6,0 L524.1,0 L524.6,0 L525.1,0 L525.6,0 L526.1,0 L526.6,0 L527.1,0 L527.6,0 L528.1,0 L528.6,0 L529.1,0 L529.6,0 L530.1,0 L530.6,0" fill="none" stroke="none" stroke-width="0" stroke-linejoin="round"/>
<path d="M318.6,164.5 C322.17,164.52 333.93,164.65 340,164.6 C346.07,164.55 350,164.63 355,164.2 C360,163.77 365.83,162.7 370,162 C374.17,161.3 376.67,161.17 380,160 C383.33,158.83 386.67,157 390,155 C393.33,153 396.67,150.5 400,148 C403.33,145.5 407,142.1 410,140 C413,137.9 415.83,136.37 418,135.4 C420.17,134.43 421.33,134.1 423,134.2 C424.67,134.3 426.17,134.87 428,136 C429.83,137.13 432,139 434,141 C436,143 438,145.83 440,148 C442,150.17 443.67,152.1 446,154 C448.33,155.9 451.33,158 454,159.4 C456.67,160.8 459.33,161.7 462,162.4 C464.67,163.1 467,163.32 470,163.6 C473,163.88 469.87,163.98 480,164.1 C490.13,164.22 522.33,164.27 530.8,164.3" fill="none" stroke="#ee6b55" stroke-width="1.3" stroke-linejoin="round"/>
<path d="M363,196.84 L365,197.14 L367,196.97 L369,197.2 L371,197.22 L373,196.66 L375,196.61 L377,197.43 L379,196.84 L381,196.81 L383,197.55 L385,197.01 L387,197.34 L389,196.94 L391,197.05 L393,196.49 L395,196.88 L397,197 L399,196.51 L401,196.55 L403,196.27 L405,195.42 L407,195.83 L409,195.36 L411,194.74 L413,194.13 L415,194.61 L417,193.88 L419,193.82 L421,193.7 L423,193.3 L425,193.34 L427,192.72 L429,193.1 L431,192.8 L433,193.42 L435,193.55 L437,193.02 L439,193.35 L441,193.76 L443,194.85 L445,194.67 L447,195.2 L449,195.2 L451,195.7 L453,195.84 L455,196.04 L457,196.47 L459,196.63 L461,197.09 L463,196.97 L465,197.3 L467,197.29 L469,197.48 L471,197.19 L473,196.71 L475,197.42 L477,197.54 L479,197.49 L481,197.16 L483,197.31 L485,196.81 L487,197.43 L489,197.17 L491,196.88 L493,196.66 L495,197.45 L497,197.59 L499,196.69 L501,197.4" fill="none" stroke="#d8866c" stroke-width="1.1" stroke-linejoin="round"/>
<path d="M363,196.84 L365,197.14 L367,196.97 L369,197.2 L371,197.22 L373,196.66 L375,196.61 L377,197.43 L379,196.84 L381,196.81 L383,197.55 L385,197.01 L387,197.34 L389,196.94 L391,197.05 L393,196.49 L395,196.88 L397,197 L399,196.51 L401,196.55 L403,196.27 L405,195.42 L407,195.83 L409,195.36 L411,194.74 L413,194.13 L415,194.61 L417,193.88 L419,193.82 L421,193.7 L423,193.3 L425,193.34 L427,192.72 L429,193.1 L431,192.8 L433,193.42 L435,193.55 L437,193.02 L439,193.35 L441,193.76 L443,194.85 L445,194.67 L447,195.2 L449,195.2 L451,195.7 L453,195.84 L455,196.04 L457,196.47 L459,196.63 L461,197.09 L463,196.97 L465,197.3 L467,197.29 L469,197.48 L471,197.19 L473,196.71 L475,197.42 L477,197.54 L479,197.49 L481,197.16 L483,197.31 L485,196.81 L487,197.43 L489,197.17 L491,196.88 L493,196.66 L495,197.45 L497,197.59 L499,196.69 L501,197.4" fill="none" stroke="#7a5048" stroke-width="0.5" stroke-linejoin="round" stroke-dasharray="0.8,1.6" opacity="0.8"/>
<text x="317.5" y="63.8" font-family="Liberation Sans" font-size="9.3" font-weight="bold" fill="#111" text-anchor="start" textLength="49.2" lengthAdjust="spacingAndGlyphs" stroke-width="0">C-F  (PVDF)</text>
<line x1="333.8" y1="68.5" x2="385.54" y2="100.38" stroke="#1a1a30" stroke-width="1.7"/>
<polygon points="389.8,103 383.75,102.33 386.48,97.9" fill="#1a1a30"/>
<text x="489.1" y="122.4" font-family="Liberation Sans" font-size="12.1" font-weight="bold" fill="#111" text-anchor="start" textLength="28.2" lengthAdjust="spacingAndGlyphs" stroke-width="0">Al - F</text>
<line x1="489.7" y1="127.2" x2="451.64" y2="142.53" stroke="#111" stroke-width="1.7"/>
<polygon points="447,144.4 451.13,139.93 453.07,144.76" fill="#111"/>
<line x1="489.7" y1="127.2" x2="445.33" y2="185.52" stroke="#111" stroke-width="1.7"/>
<polygon points="442.3,189.5 443.56,183.55 447.7,186.7" fill="#111"/>
<rect x="306.3" y="6.4" width="26.5" height="15.8" fill="#fff" stroke="#555" stroke-width="1.3"/>
<text x="312" y="17.8" font-family="Liberation Sans" font-size="9.2" font-weight="bold" fill="#111" text-anchor="start" textLength="14.8" lengthAdjust="spacingAndGlyphs" stroke="#111" stroke-width="0.3">F1s</text>
<text x="307.2" y="204.6" font-family="Liberation Sans" font-size="11" font-weight="bold" fill="#111" text-anchor="start" textLength="12.6" lengthAdjust="spacingAndGlyphs" stroke="#111" stroke-width="0.55">(b)</text>
<rect x="31.3" y="240.9" width="240.5" height="205.4" fill="none" stroke="#9a9a9a" stroke-width="1.1"/>
<line x1="29.4" y1="442.89" x2="31.2" y2="442.89" stroke="#8a8a8a" stroke-width="0.8"/>
<line x1="29.4" y1="434" x2="31.2" y2="434" stroke="#8a8a8a" stroke-width="0.8"/>
<line x1="29.4" y1="425.11" x2="31.2" y2="425.11" stroke="#8a8a8a" stroke-width="0.8"/>
<line x1="29.4" y1="416.22" x2="31.2" y2="416.22" stroke="#8a8a8a" stroke-width="0.8"/>
<line x1="29.4" y1="407.33" x2="31.2" y2="407.33" stroke="#8a8a8a" stroke-width="0.8"/>
<line x1="29.4" y1="398.44" x2="31.2" y2="398.44" stroke="#8a8a8a" stroke-width="0.8"/>
<line x1="29.4" y1="389.55" x2="31.2" y2="389.55" stroke="#8a8a8a" stroke-width="0.8"/>
<line x1="29.4" y1="380.66" x2="31.2" y2="380.66" stroke="#8a8a8a" stroke-width="0.8"/>
<line x1="29.4" y1="371.77" x2="31.2" y2="371.77" stroke="#8a8a8a" stroke-width="0.8"/>
<line x1="29.4" y1="362.88" x2="31.2" y2="362.88" stroke="#8a8a8a" stroke-width="0.8"/>
<line x1="29.4" y1="353.99" x2="31.2" y2="353.99" stroke="#8a8a8a" stroke-width="0.8"/>
<line x1="29.4" y1="345.1" x2="31.2" y2="345.1" stroke="#8a8a8a" stroke-width="0.8"/>
<line x1="29.4" y1="336.21" x2="31.2" y2="336.21" stroke="#8a8a8a" stroke-width="0.8"/>
<line x1="29.4" y1="327.32" x2="31.2" y2="327.32" stroke="#8a8a8a" stroke-width="0.8"/>
<line x1="29.4" y1="318.43" x2="31.2" y2="318.43" stroke="#8a8a8a" stroke-width="0.8"/>
<line x1="29.4" y1="309.54" x2="31.2" y2="309.54" stroke="#8a8a8a" stroke-width="0.8"/>
<line x1="29.4" y1="300.65" x2="31.2" y2="300.65" stroke="#8a8a8a" stroke-width="0.8"/>
<line x1="29.4" y1="291.76" x2="31.2" y2="291.76" stroke="#8a8a8a" stroke-width="0.8"/>
<line x1="29.4" y1="282.87" x2="31.2" y2="282.87" stroke="#8a8a8a" stroke-width="0.8"/>
<line x1="29.4" y1="273.98" x2="31.2" y2="273.98" stroke="#8a8a8a" stroke-width="0.8"/>
<line x1="29.4" y1="265.09" x2="31.2" y2="265.09" stroke="#8a8a8a" stroke-width="0.8"/>
<line x1="29.4" y1="256.2" x2="31.2" y2="256.2" stroke="#8a8a8a" stroke-width="0.8"/>
<line x1="29.4" y1="247.31" x2="31.2" y2="247.31" stroke="#8a8a8a" stroke-width="0.8"/>
<line x1="28.4" y1="434" x2="31.2" y2="434" stroke="#8a8a8a" stroke-width="0.9"/>
<text x="27.1" y="435.9" font-family="Liberation Sans" font-size="6.4" font-weight="normal" fill="#202020" text-anchor="end" textLength="3.2" lengthAdjust="spacingAndGlyphs" stroke="#444" stroke-width="0.12">0</text>
<line x1="28.4" y1="389.55" x2="31.2" y2="389.55" stroke="#8a8a8a" stroke-width="0.9"/>
<text x="27.1" y="391.45" font-family="Liberation Sans" font-size="6.4" font-weight="normal" fill="#202020" text-anchor="end" textLength="9.6" lengthAdjust="spacingAndGlyphs" stroke="#444" stroke-width="0.12">500</text>
<line x1="28.4" y1="345.1" x2="31.2" y2="345.1" stroke="#8a8a8a" stroke-width="0.9"/>
<text x="27.1" y="347" font-family="Liberation Sans" font-size="6.4" font-weight="normal" fill="#202020" text-anchor="end" textLength="12.8" lengthAdjust="spacingAndGlyphs" stroke="#444" stroke-width="0.12">1000</text>
<line x1="28.4" y1="300.65" x2="31.2" y2="300.65" stroke="#8a8a8a" stroke-width="0.9"/>
<text x="27.1" y="302.55" font-family="Liberation Sans" font-size="6.4" font-weight="normal" fill="#202020" text-anchor="end" textLength="12.8" lengthAdjust="spacingAndGlyphs" stroke="#444" stroke-width="0.12">1500</text>
<line x1="28.4" y1="256.2" x2="31.2" y2="256.2" stroke="#8a8a8a" stroke-width="0.9"/>
<text x="27.1" y="258.1" font-family="Liberation Sans" font-size="6.4" font-weight="normal" fill="#202020" text-anchor="end" textLength="12.8" lengthAdjust="spacingAndGlyphs" stroke="#444" stroke-width="0.12">2000</text>
<line x1="266.78" y1="446.3" x2="266.78" y2="448.1" stroke="#8a8a8a" stroke-width="0.8"/>
<line x1="258.42" y1="446.3" x2="258.42" y2="448.1" stroke="#8a8a8a" stroke-width="0.8"/>
<line x1="250.06" y1="446.3" x2="250.06" y2="448.1" stroke="#8a8a8a" stroke-width="0.8"/>
<line x1="241.7" y1="446.3" x2="241.7" y2="448.1" stroke="#8a8a8a" stroke-width="0.8"/>
<line x1="233.34" y1="446.3" x2="233.34" y2="448.1" stroke="#8a8a8a" stroke-width="0.8"/>
<line x1="224.98" y1="446.3" x2="224.98" y2="448.1" stroke="#8a8a8a" stroke-width="0.8"/>
<line x1="216.62" y1="446.3" x2="216.62" y2="448.1" stroke="#8a8a8a" stroke-width="0.8"/>
<line x1="208.26" y1="446.3" x2="208.26" y2="448.1" stroke="#8a8a8a" stroke-width="0.8"/>
<line x1="199.9" y1="446.3" x2="199.9" y2="448.1" stroke="#8a8a8a" stroke-width="0.8"/>
<line x1="191.54" y1="446.3" x2="191.54" y2="448.1" stroke="#8a8a8a" stroke-width="0.8"/>
<line x1="183.18" y1="446.3" x2="183.18" y2="448.1" stroke="#8a8a8a" stroke-width="0.8"/>
<line x1="174.82" y1="446.3" x2="174.82" y2="448.1" stroke="#8a8a8a" stroke-width="0.8"/>
<line x1="166.46" y1="446.3" x2="166.46" y2="448.1" stroke="#8a8a8a" stroke-width="0.8"/>
<line x1="158.1" y1="446.3" x2="158.1" y2="448.1" stroke="#8a8a8a" stroke-width="0.8"/>
<line x1="149.74" y1="446.3" x2="149.74" y2="448.1" stroke="#8a8a8a" stroke-width="0.8"/>
<line x1="141.38" y1="446.3" x2="141.38" y2="448.1" stroke="#8a8a8a" stroke-width="0.8"/>
<line x1="133.02" y1="446.3" x2="133.02" y2="448.1" stroke="#8a8a8a" stroke-width="0.8"/>
<line x1="124.66" y1="446.3" x2="124.66" y2="448.1" stroke="#8a8a8a" stroke-width="0.8"/>
<line x1="116.3" y1="446.3" x2="116.3" y2="448.1" stroke="#8a8a8a" stroke-width="0.8"/>
<line x1="107.94" y1="446.3" x2="107.94" y2="448.1" stroke="#8a8a8a" stroke-width="0.8"/>
<line x1="99.58" y1="446.3" x2="99.58" y2="448.1" stroke="#8a8a8a" stroke-width="0.8"/>
<line x1="91.22" y1="446.3" x2="91.22" y2="448.1" stroke="#8a8a8a" stroke-width="0.8"/>
<line x1="82.86" y1="446.3" x2="82.86" y2="448.1" stroke="#8a8a8a" stroke-width="0.8"/>
<line x1="74.5" y1="446.3" x2="74.5" y2="448.1" stroke="#8a8a8a" stroke-width="0.8"/>
<line x1="66.14" y1="446.3" x2="66.14" y2="448.1" stroke="#8a8a8a" stroke-width="0.8"/>
<line x1="57.78" y1="446.3" x2="57.78" y2="448.1" stroke="#8a8a8a" stroke-width="0.8"/>
<line x1="49.42" y1="446.3" x2="49.42" y2="448.1" stroke="#8a8a8a" stroke-width="0.8"/>
<line x1="41.06" y1="446.3" x2="41.06" y2="448.1" stroke="#8a8a8a" stroke-width="0.8"/>
<line x1="32.7" y1="446.3" x2="32.7" y2="448.1" stroke="#8a8a8a" stroke-width="0.8"/>
<line x1="32.7" y1="446.3" x2="32.7" y2="448.9" stroke="#8a8a8a" stroke-width="0.9"/>
<text x="32.7" y="457.4" font-family="Liberation Sans" font-size="6.4" font-weight="normal" fill="#202020" text-anchor="middle" textLength="6.6" lengthAdjust="spacingAndGlyphs" stroke="#444" stroke-width="0.12">90</text>
<line x1="74.5" y1="446.3" x2="74.5" y2="448.9" stroke="#8a8a8a" stroke-width="0.9"/>
<text x="74.5" y="457.4" font-family="Liberation Sans" font-size="6.4" font-weight="normal" fill="#202020" text-anchor="middle" textLength="6.6" lengthAdjust="spacingAndGlyphs" stroke="#444" stroke-width="0.12">85</text>
<line x1="116.3" y1="446.3" x2="116.3" y2="448.9" stroke="#8a8a8a" stroke-width="0.9"/>
<text x="116.3" y="457.4" font-family="Liberation Sans" font-size="6.4" font-weight="normal" fill="#202020" text-anchor="middle" textLength="6.6" lengthAdjust="spacingAndGlyphs" stroke="#444" stroke-width="0.12">80</text>
<line x1="158.1" y1="446.3" x2="158.1" y2="448.9" stroke="#8a8a8a" stroke-width="0.9"/>
<text x="158.1" y="457.4" font-family="Liberation Sans" font-size="6.4" font-weight="normal" fill="#202020" text-anchor="middle" textLength="6.6" lengthAdjust="spacingAndGlyphs" stroke="#444" stroke-width="0.12">75</text>
<line x1="199.9" y1="446.3" x2="199.9" y2="448.9" stroke="#8a8a8a" stroke-width="0.9"/>
<text x="199.9" y="457.4" font-family="Liberation Sans" font-size="6.4" font-weight="normal" fill="#202020" text-anchor="middle" textLength="6.6" lengthAdjust="spacingAndGlyphs" stroke="#444" stroke-width="0.12">70</text>
<line x1="241.7" y1="446.3" x2="241.7" y2="448.9" stroke="#8a8a8a" stroke-width="0.9"/>
<text x="241.7" y="457.4" font-family="Liberation Sans" font-size="6.4" font-weight="normal" fill="#202020" text-anchor="middle" textLength="6.6" lengthAdjust="spacingAndGlyphs" stroke="#444" stroke-width="0.12">65</text>
<text x="151.5" y="467.5" font-family="Liberation Sans" font-size="6.4" font-weight="normal" fill="#202020" text-anchor="middle" textLength="55" lengthAdjust="spacingAndGlyphs">Binding Energy [eV]</text>
<text x="0" y="0" font-family="Liberation Sans" font-size="6.4" fill="#202020" text-anchor="middle" textLength="44.5" lengthAdjust="spacingAndGlyphs" transform="translate(10.2,344.7) rotate(-90)">Intensity [cps]</text>
<rect x="72.4" y="276.9" width="1.3" height="1.3" fill="#111"/>
<text x="76" y="279.8" font-family="Liberation Sans" font-size="5.4" font-weight="normal" fill="#111" text-anchor="start" textLength="45.8" lengthAdjust="spacingAndGlyphs" stroke="#111" stroke-width="0.15">10nm Al2O3 on LFP</text>
<line x1="128.4" y1="277" x2="143.6" y2="277" stroke="#808080" stroke-width="1.2"/>
<rect x="72.4" y="282.6" width="1.3" height="1.3" fill="#e01818"/>
<text x="76.7" y="285.5" font-family="Liberation Sans" font-size="5.4" font-weight="normal" fill="#e01818" text-anchor="start" textLength="44.5" lengthAdjust="spacingAndGlyphs" stroke="#e01818" stroke-width="0.15">5nm Al2O3 on LFP</text>
<line x1="128.4" y1="282.7" x2="143.6" y2="282.7" stroke="#f49090" stroke-width="1.2"/>
<rect x="72.4" y="288.3" width="1.3" height="1.3" fill="#30c030"/>
<text x="76.7" y="291.2" font-family="Liberation Sans" font-size="5.4" font-weight="normal" fill="#30c030" text-anchor="start" textLength="28.5" lengthAdjust="spacingAndGlyphs" stroke="#30c030" stroke-width="0.15">pristine LFP</text>
<line x1="128.4" y1="288.4" x2="143.6" y2="288.4" stroke="#98e098" stroke-width="1.2"/>
<path d="M45.5,253.9 L50.9,256.7 L55.3,257.4 L61.8,260 L66.2,258.5 L70.5,263.3 L74.9,265 L80.4,264.4 L85.8,262.6 L92.4,261.1 L95.6,256.7 L100,260 L105.5,259.6 L112,260.4 L116.4,257.8 L121.8,253.5 L126.2,255.6 L129.5,260 L133.4,267.6 L137.1,256.7 L139.5,255 L142.3,255 L145,260.5 L149,254.5 L153.2,257.8 L158.6,260.5 L164,260 L170.9,259.2 L177.7,262 L184.5,265.5 L191.4,274.2 L195.4,268.2 L203.6,278.3 L211.8,274.2 L217.3,276.4 L224,283.7 L232.3,285.6 L237.2,291 L241.8,285 L245.9,281 L250,285 L258.2,279.6" fill="none" stroke="#98e090" stroke-width="1.1" stroke-linejoin="round"/>
<path d="M121,362.6 L199,362.6" fill="none" stroke="#a8cccc" stroke-width="0.8" stroke-linejoin="round" stroke-dasharray="1,1.2"/>
<path d="M130,434.2 L192,434.2" fill="none" stroke="#a8cccc" stroke-width="0.8" stroke-linejoin="round" stroke-dasharray="1,1.2"/>
<path d="M136,362.45 L136.5,362.38 L137,362.3 L137.5,362.19 L138,362.04 L138.5,361.85 L139,361.62 L139.5,361.33 L140,360.98 L140.5,360.55 L141,360.06 L141.5,359.49 L142,358.84 L142.5,358.13 L143,357.35 L143.5,356.52 L144,355.67 L144.5,354.8 L145,353.95 L145.5,353.15 L146,352.41 L146.5,351.77 L147,351.25 L147.5,350.87 L148,350.65 L148.5,350.6 L149,350.72 L149.5,351 L150,351.44 L150.5,352.01 L151,352.69 L151.5,353.46 L152,354.29 L152.5,355.15 L153,356.01 L153.5,356.86 L154,357.67 L154.5,358.42 L155,359.11 L155.5,359.73 L156,360.27 L156.5,360.73 L157,361.13 L157.5,361.45 L158,361.72 L158.5,361.93 L159,362.1 L159.5,362.23 L160,362.34 L160.5,362.41 L161,362.47 L161.5,362.51 L162,362.54" fill="none" stroke="#c0c0c0" stroke-width="0.7" stroke-linejoin="round" stroke-dasharray="1.5,0.7"/>
<path d="M145,356.64 L145.5,355.33 L146,353.81 L146.5,352.04 L147,350.03 L147.5,347.75 L148,345.2 L148.5,342.37 L149,339.27 L149.5,335.9 L150,332.29 L150.5,328.47 L151,324.47 L151.5,320.34 L152,316.14 L152.5,311.92 L153,307.76 L153.5,303.72 L154,299.9 L154.5,296.35 L155,293.16 L155.5,290.39 L156,288.11 L156.5,286.37 L157,285.21 L157.5,284.65 L158,284.71 L158.5,285.39 L159,286.67 L159.5,288.53 L160,290.91 L160.5,293.77 L161,297.03 L161.5,300.64 L162,304.52 L162.5,308.58 L163,312.76 L163.5,316.98 L164,321.17 L164.5,325.28 L165,329.25 L165.5,333.03 L166,336.59 L166.5,339.91 L167,342.96 L167.5,345.73 L168,348.23 L168.5,350.45 L169,352.42 L169.5,354.13 L170,355.61 L170.5,356.88 L171,357.95 L171.5,358.86 L172,359.61" fill="none" stroke="#c0c0c0" stroke-width="0.7" stroke-linejoin="round" stroke-dasharray="1.5,0.7"/>
<path d="M138,434.1 L138.5,434.05 L139,434 L139.5,433.93 L140,433.83 L140.5,433.72 L141,433.58 L141.5,433.41 L142,433.21 L142.5,432.97 L143,432.71 L143.5,432.41 L144,432.09 L144.5,431.76 L145,431.41 L145.5,431.06 L146,430.73 L146.5,430.42 L147,430.14 L147.5,429.91 L148,429.74 L148.5,429.64 L149,429.6 L149.5,429.64 L150,429.74 L150.5,429.91 L151,430.14 L151.5,430.42 L152,430.73 L152.5,431.06 L153,431.41 L153.5,431.76 L154,432.09 L154.5,432.41 L155,432.71 L155.5,432.97 L156,433.21 L156.5,433.41 L157,433.58 L157.5,433.72 L158,433.83 L158.5,433.93 L159,434 L159.5,434.05 L160,434.1" fill="none" stroke="#c0c0c0" stroke-width="0.7" stroke-linejoin="round" stroke-dasharray="1.5,0.7"/>
<path d="M120.6,361.79 L121.1,361.77 L121.6,361.75 L122.1,361.73 L122.6,361.71 L123.1,361.69 L123.6,361.67 L124.1,361.64 L124.6,361.62 L125.1,361.59 L125.6,361.56 L126.1,361.54 L126.6,361.51 L127.1,361.48 L127.6,361.44 L128.1,361.41 L128.6,361.37 L129.1,361.33 L129.6,361.3 L130.1,361.25 L130.6,361.21 L131.1,361.16 L131.6,361.11 L132.1,361.06 L132.6,361 L133.1,360.94 L133.6,360.87 L134.1,360.8 L134.6,360.72 L135.1,360.63 L135.6,360.53 L136.1,360.41 L136.6,360.28 L137.1,360.13 L137.6,359.95 L138.1,359.73 L138.6,359.48 L139.1,359.18 L139.6,358.83 L140.1,358.4 L140.6,357.9 L141.1,357.32 L141.6,356.63 L142.1,355.83 L142.6,354.91 L143.1,353.85 L143.6,352.65 L144.1,351.3 L144.6,349.79 L145.1,348.11 L145.6,346.27 L146.1,344.26 L146.6,342.07 L147.1,339.72 L147.6,337.2 L148.1,334.51 L148.6,331.66 L149.1,328.65 L149.6,325.5 L150.1,322.22 L150.6,318.82 L151.1,315.33 L151.6,311.76 L152.1,308.16 L152.6,304.55 L153.1,300.99 L153.6,297.53 L154.1,294.23 L154.6,291.16 L155.1,288.38 L155.6,285.96 L156.1,283.98 L156.6,282.5 L157.1,281.57 L157.6,281.23 L158.1,281.49 L158.6,282.35 L159.1,283.78 L159.6,285.76 L160.1,288.21 L160.6,291.08 L161.1,294.29 L161.6,297.78 L162.1,301.47 L162.6,305.3 L163.1,309.19 L163.6,313.11 L164.1,316.98 L164.6,320.78 L165.1,324.45 L165.6,327.97 L166.1,331.31 L166.6,334.45 L167.1,337.38 L167.6,340.1 L168.1,342.58 L168.6,344.84 L169.1,346.89 L169.6,348.72 L170.1,350.36 L170.6,351.81 L171.1,353.08 L171.6,354.19 L172.1,355.16 L172.6,356 L173.1,356.73 L173.6,357.35 L174.1,357.88 L174.6,358.34 L175.1,358.73 L175.6,359.06 L176.1,359.35 L176.6,359.59 L177.1,359.8 L177.6,359.99 L178.1,360.14 L178.6,360.28 L179.1,360.41 L179.6,360.51 L180.1,360.61 L180.6,360.7 L181.1,360.78 L181.6,360.85 L182.1,360.92 L182.6,360.98 L183.1,361.04 L183.6,361.09 L184.1,361.14 L184.6,361.19 L185.1,361.24 L185.6,361.28 L186.1,361.32 L186.6,361.36 L187.1,361.39 L187.6,361.43 L188.1,361.46 L188.6,361.49 L189.1,361.52 L189.6,361.55 L190.1,361.58 L190.6,361.61 L191.1,361.63 L191.6,361.66 L192.1,361.68 L192.6,361.7 L193.1,361.72 L193.6,361.75 L194.1,361.76 L194.6,361.78 L195.1,361.8 L195.6,361.82 L196.1,361.84 L196.6,361.85 L197.1,361.87 L197.6,361.88 L198.1,361.9 L198.6,361.91" fill="none" stroke="#ee6b55" stroke-width="1.2" stroke-linejoin="round"/>
<path d="M120.6,361.79 L121.1,361.77 L121.6,361.75 L122.1,361.73 L122.6,361.71 L123.1,361.69 L123.6,361.67 L124.1,361.64 L124.6,361.62 L125.1,361.59 L125.6,361.56 L126.1,361.54 L126.6,361.51 L127.1,361.48 L127.6,361.44 L128.1,361.41 L128.6,361.37 L129.1,361.33 L129.6,361.3 L130.1,361.25 L130.6,361.21 L131.1,361.16 L131.6,361.11 L132.1,361.06 L132.6,361 L133.1,360.94 L133.6,360.87 L134.1,360.8 L134.6,360.72 L135.1,360.63 L135.6,360.53 L136.1,360.41 L136.6,360.28 L137.1,360.13 L137.6,359.95 L138.1,359.73 L138.6,359.48 L139.1,359.18 L139.6,358.83 L140.1,358.4 L140.6,357.9 L141.1,357.32 L141.6,356.63 L142.1,355.83 L142.6,354.91 L143.1,353.85 L143.6,352.65 L144.1,351.3 L144.6,349.79 L145.1,348.11 L145.6,346.27 L146.1,344.26 L146.6,342.07 L147.1,339.72 L147.6,337.2 L148.1,334.51 L148.6,331.66 L149.1,328.65 L149.6,325.5 L150.1,322.22 L150.6,318.82 L151.1,315.33 L151.6,311.76 L152.1,308.16 L152.6,304.55 L153.1,300.99 L153.6,297.53 L154.1,294.23 L154.6,291.16 L155.1,288.38 L155.6,285.96 L156.1,283.98 L156.6,282.5 L157.1,281.57 L157.6,281.23 L158.1,281.49 L158.6,282.35 L159.1,283.78 L159.6,285.76 L160.1,288.21 L160.6,291.08 L161.1,294.29 L161.6,297.78 L162.1,301.47 L162.6,305.3 L163.1,309.19 L163.6,313.11 L164.1,316.98 L164.6,320.78 L165.1,324.45 L165.6,327.97 L166.1,331.31 L166.6,334.45 L167.1,337.38 L167.6,340.1 L168.1,342.58 L168.6,344.84 L169.1,346.89 L169.6,348.72 L170.1,350.36 L170.6,351.81 L171.1,353.08 L171.6,354.19 L172.1,355.16 L172.6,356 L173.1,356.73 L173.6,357.35 L174.1,357.88 L174.6,358.34 L175.1,358.73 L175.6,359.06 L176.1,359.35 L176.6,359.59 L177.1,359.8 L177.6,359.99 L178.1,360.14 L178.6,360.28 L179.1,360.41 L179.6,360.51 L180.1,360.61 L180.6,360.7 L181.1,360.78 L181.6,360.85 L182.1,360.92 L182.6,360.98 L183.1,361.04 L183.6,361.09 L184.1,361.14 L184.6,361.19 L185.1,361.24 L185.6,361.28 L186.1,361.32 L186.6,361.36 L187.1,361.39 L187.6,361.43 L188.1,361.46 L188.6,361.49 L189.1,361.52 L189.6,361.55 L190.1,361.58 L190.6,361.61 L191.1,361.63 L191.6,361.66 L192.1,361.68 L192.6,361.7 L193.1,361.72 L193.6,361.75 L194.1,361.76 L194.6,361.78 L195.1,361.8 L195.6,361.82 L196.1,361.84 L196.6,361.85 L197.1,361.87 L197.6,361.88 L198.1,361.9 L198.6,361.91" fill="none" stroke="#fff" stroke-width="0.6" stroke-linejoin="round" stroke-dasharray="1.5,1.5" opacity="0.5"/>
<path d="M130.4,433.46 L130.9,433.44 L131.4,433.41 L131.9,433.38 L132.4,433.35 L132.9,433.32 L133.4,433.29 L133.9,433.26 L134.4,433.22 L134.9,433.18 L135.4,433.14 L135.9,433.09 L136.4,433.04 L136.9,432.99 L137.4,432.93 L137.9,432.86 L138.4,432.79 L138.9,432.7 L139.4,432.61 L139.9,432.5 L140.4,432.37 L140.9,432.23 L141.4,432.07 L141.9,431.89 L142.4,431.68 L142.9,431.45 L143.4,431.19 L143.9,430.9 L144.4,430.58 L144.9,430.23 L145.4,429.83 L145.9,429.39 L146.4,428.89 L146.9,428.33 L147.4,427.67 L147.9,426.91 L148.4,426.01 L148.9,424.94 L149.4,423.64 L149.9,422.08 L150.4,420.21 L150.9,417.96 L151.4,415.28 L151.9,412.13 L152.4,408.46 L152.9,404.24 L153.4,399.46 L153.9,394.13 L154.4,388.3 L154.9,382.02 L155.4,375.39 L155.9,368.54 L156.4,361.63 L156.9,354.86 L157.4,348.44 L157.9,342.62 L158.4,337.65 L158.9,333.79 L159.4,331.25 L159.9,330.18 L160.4,330.66 L160.9,332.66 L161.4,336.06 L161.9,340.65 L162.4,346.21 L162.9,352.48 L163.4,359.22 L163.9,366.18 L164.4,373.18 L164.9,380.03 L165.4,386.58 L165.9,392.74 L166.4,398.43 L166.9,403.57 L167.4,408.17 L167.9,412.2 L168.4,415.7 L168.9,418.68 L169.4,421.2 L169.9,423.3 L170.4,425.03 L170.9,426.45 L171.4,427.59 L171.9,428.52 L172.4,429.27 L172.9,429.86 L173.4,430.34 L173.9,430.73 L174.4,431.05 L174.9,431.32 L175.4,431.54 L175.9,431.72 L176.4,431.88 L176.9,432.02 L177.4,432.15 L177.9,432.26 L178.4,432.36 L178.9,432.45 L179.4,432.54 L179.9,432.62 L180.4,432.69 L180.9,432.76 L181.4,432.82 L181.9,432.88 L182.4,432.94 L182.9,432.99 L183.4,433.04 L183.9,433.08 L184.4,433.13 L184.9,433.17 L185.4,433.21 L185.9,433.24 L186.4,433.28 L186.9,433.31 L187.4,433.34 L187.9,433.37 L188.4,433.4 L188.9,433.43 L189.4,433.45 L189.9,433.48 L190.4,433.5 L190.9,433.52 L191.4,433.54 L191.9,433.56" fill="none" stroke="#ee6b55" stroke-width="1.2" stroke-linejoin="round"/>
<path d="M130.4,433.46 L130.9,433.44 L131.4,433.41 L131.9,433.38 L132.4,433.35 L132.9,433.32 L133.4,433.29 L133.9,433.26 L134.4,433.22 L134.9,433.18 L135.4,433.14 L135.9,433.09 L136.4,433.04 L136.9,432.99 L137.4,432.93 L137.9,432.86 L138.4,432.79 L138.9,432.7 L139.4,432.61 L139.9,432.5 L140.4,432.37 L140.9,432.23 L141.4,432.07 L141.9,431.89 L142.4,431.68 L142.9,431.45 L143.4,431.19 L143.9,430.9 L144.4,430.58 L144.9,430.23 L145.4,429.83 L145.9,429.39 L146.4,428.89 L146.9,428.33 L147.4,427.67 L147.9,426.91 L148.4,426.01 L148.9,424.94 L149.4,423.64 L149.9,422.08 L150.4,420.21 L150.9,417.96 L151.4,415.28 L151.9,412.13 L152.4,408.46 L152.9,404.24 L153.4,399.46 L153.9,394.13 L154.4,388.3 L154.9,382.02 L155.4,375.39 L155.9,368.54 L156.4,361.63 L156.9,354.86 L157.4,348.44 L157.9,342.62 L158.4,337.65 L158.9,333.79 L159.4,331.25 L159.9,330.18 L160.4,330.66 L160.9,332.66 L161.4,336.06 L161.9,340.65 L162.4,346.21 L162.9,352.48 L163.4,359.22 L163.9,366.18 L164.4,373.18 L164.9,380.03 L165.4,386.58 L165.9,392.74 L166.4,398.43 L166.9,403.57 L167.4,408.17 L167.9,412.2 L168.4,415.7 L168.9,418.68 L169.4,421.2 L169.9,423.3 L170.4,425.03 L170.9,426.45 L171.4,427.59 L171.9,428.52 L172.4,429.27 L172.9,429.86 L173.4,430.34 L173.9,430.73 L174.4,431.05 L174.9,431.32 L175.4,431.54 L175.9,431.72 L176.4,431.88 L176.9,432.02 L177.4,432.15 L177.9,432.26 L178.4,432.36 L178.9,432.45 L179.4,432.54 L179.9,432.62 L180.4,432.69 L180.9,432.76 L181.4,432.82 L181.9,432.88 L182.4,432.94 L182.9,432.99 L183.4,433.04 L183.9,433.08 L184.4,433.13 L184.9,433.17 L185.4,433.21 L185.9,433.24 L186.4,433.28 L186.9,433.31 L187.4,433.34 L187.9,433.37 L188.4,433.4 L188.9,433.43 L189.4,433.45 L189.9,433.48 L190.4,433.5 L190.9,433.52 L191.4,433.54 L191.9,433.56" fill="none" stroke="#6a3a30" stroke-width="0.5" stroke-linejoin="round" stroke-dasharray="1,2"/>
<line x1="159" y1="241.2" x2="159" y2="446" stroke="#fcc40c" stroke-width="2.3"/>
<text x="203.2" y="327.2" font-family="Liberation Sans" font-size="9" font-weight="bold" fill="#111" text-anchor="start" textLength="54.2" lengthAdjust="spacingAndGlyphs" stroke="#111" stroke-width="0.3">Al-O in Al<tspan font-size="6.2" dy="2.3">2</tspan><tspan dy="-2.3">O</tspan><tspan font-size="6.2" dy="2.3">3</tspan></text>
<line x1="221" y1="334.4" x2="166.77" y2="327.99" stroke="#111" stroke-width="1.7"/>
<polygon points="161.8,327.4 167.57,325.46 166.96,330.63" fill="#111"/>
<line x1="221" y1="334.4" x2="166.13" y2="395.77" stroke="#111" stroke-width="1.7"/>
<polygon points="162.8,399.5 164.53,393.67 168.4,397.13" fill="#111"/>
<text x="53.2" y="398.5" font-family="Liberation Sans" font-size="9" font-weight="bold" fill="#111" text-anchor="start" textLength="16.6" lengthAdjust="spacingAndGlyphs" stroke="#111" stroke-width="0.3">Al-F</text>
<text x="48.9" y="412.2" font-family="Liberation Sans" font-size="9" font-weight="bold" fill="#111" text-anchor="start" textLength="25.3" lengthAdjust="spacingAndGlyphs" stroke="#111" stroke-width="0.3">Al-OH</text>
<line x1="82" y1="407.5" x2="141.47" y2="363.95" stroke="#111" stroke-width="1.7"/>
<polygon points="145.5,361 142.6,366.35 139.53,362.15" fill="#111"/>
<line x1="82" y1="407.5" x2="130.6" y2="425.01" stroke="#111" stroke-width="1.7"/>
<polygon points="135.3,426.7 129.24,427.28 131.01,422.39" fill="#111"/>
<rect x="240.4" y="243.5" width="29.4" height="17.3" fill="#fff" stroke="#555" stroke-width="1.3"/>
<text x="245.3" y="255" font-family="Liberation Sans" font-size="8.9" font-weight="bold" fill="#111" text-anchor="start" textLength="19" lengthAdjust="spacingAndGlyphs" stroke="#111" stroke-width="0.3">Al2p</text>
<text x="34.1" y="441.3" font-family="Liberation Sans" font-size="11" font-weight="bold" fill="#111" text-anchor="start" textLength="10.6" lengthAdjust="spacingAndGlyphs" stroke="#111" stroke-width="0.55">(c)</text>
<rect x="307.6" y="240.4" width="237.5" height="206.3" fill="none" stroke="#9a9a9a" stroke-width="1.1"/>
<line x1="305.8" y1="440.53" x2="307.6" y2="440.53" stroke="#8a8a8a" stroke-width="0.8"/>
<line x1="305.8" y1="433.9" x2="307.6" y2="433.9" stroke="#8a8a8a" stroke-width="0.8"/>
<line x1="305.8" y1="427.26" x2="307.6" y2="427.26" stroke="#8a8a8a" stroke-width="0.8"/>
<line x1="305.8" y1="420.63" x2="307.6" y2="420.63" stroke="#8a8a8a" stroke-width="0.8"/>
<line x1="305.8" y1="414" x2="307.6" y2="414" stroke="#8a8a8a" stroke-width="0.8"/>
<line x1="305.8" y1="407.36" x2="307.6" y2="407.36" stroke="#8a8a8a" stroke-width="0.8"/>
<line x1="305.8" y1="400.72" x2="307.6" y2="400.72" stroke="#8a8a8a" stroke-width="0.8"/>
<line x1="305.8" y1="394.09" x2="307.6" y2="394.09" stroke="#8a8a8a" stroke-width="0.8"/>
<line x1="305.8" y1="387.45" x2="307.6" y2="387.45" stroke="#8a8a8a" stroke-width="0.8"/>
<line x1="305.8" y1="380.82" x2="307.6" y2="380.82" stroke="#8a8a8a" stroke-width="0.8"/>
<line x1="305.8" y1="374.18" x2="307.6" y2="374.18" stroke="#8a8a8a" stroke-width="0.8"/>
<line x1="305.8" y1="367.55" x2="307.6" y2="367.55" stroke="#8a8a8a" stroke-width="0.8"/>
<line x1="305.8" y1="360.91" x2="307.6" y2="360.91" stroke="#8a8a8a" stroke-width="0.8"/>
<line x1="305.8" y1="354.28" x2="307.6" y2="354.28" stroke="#8a8a8a" stroke-width="0.8"/>
<line x1="305.8" y1="347.64" x2="307.6" y2="347.64" stroke="#8a8a8a" stroke-width="0.8"/>
<line x1="305.8" y1="341.01" x2="307.6" y2="341.01" stroke="#8a8a8a" stroke-width="0.8"/>
<line x1="305.8" y1="334.38" x2="307.6" y2="334.38" stroke="#8a8a8a" stroke-width="0.8"/>
<line x1="305.8" y1="327.74" x2="307.6" y2="327.74" stroke="#8a8a8a" stroke-width="0.8"/>
<line x1="305.8" y1="321.1" x2="307.6" y2="321.1" stroke="#8a8a8a" stroke-width="0.8"/>
<line x1="305.8" y1="314.47" x2="307.6" y2="314.47" stroke="#8a8a8a" stroke-width="0.8"/>
<line x1="305.8" y1="307.83" x2="307.6" y2="307.83" stroke="#8a8a8a" stroke-width="0.8"/>
<line x1="305.8" y1="301.2" x2="307.6" y2="301.2" stroke="#8a8a8a" stroke-width="0.8"/>
<line x1="305.8" y1="294.56" x2="307.6" y2="294.56" stroke="#8a8a8a" stroke-width="0.8"/>
<line x1="305.8" y1="287.93" x2="307.6" y2="287.93" stroke="#8a8a8a" stroke-width="0.8"/>
<line x1="305.8" y1="281.29" x2="307.6" y2="281.29" stroke="#8a8a8a" stroke-width="0.8"/>
<line x1="305.8" y1="274.66" x2="307.6" y2="274.66" stroke="#8a8a8a" stroke-width="0.8"/>
<line x1="305.8" y1="268.02" x2="307.6" y2="268.02" stroke="#8a8a8a" stroke-width="0.8"/>
<line x1="305.8" y1="261.39" x2="307.6" y2="261.39" stroke="#8a8a8a" stroke-width="0.8"/>
<line x1="305.8" y1="254.75" x2="307.6" y2="254.75" stroke="#8a8a8a" stroke-width="0.8"/>
<line x1="305.8" y1="248.12" x2="307.6" y2="248.12" stroke="#8a8a8a" stroke-width="0.8"/>
<line x1="304.8" y1="433.9" x2="307.6" y2="433.9" stroke="#8a8a8a" stroke-width="0.9"/>
<text x="303.1" y="435.8" font-family="Liberation Sans" font-size="6.4" font-weight="normal" fill="#202020" text-anchor="end" textLength="3.2" lengthAdjust="spacingAndGlyphs" stroke="#444" stroke-width="0.12">0</text>
<line x1="304.8" y1="367.55" x2="307.6" y2="367.55" stroke="#8a8a8a" stroke-width="0.9"/>
<text x="303.1" y="369.45" font-family="Liberation Sans" font-size="6.4" font-weight="normal" fill="#202020" text-anchor="end" textLength="12.8" lengthAdjust="spacingAndGlyphs" stroke="#444" stroke-width="0.12">5000</text>
<line x1="304.8" y1="301.2" x2="307.6" y2="301.2" stroke="#8a8a8a" stroke-width="0.9"/>
<text x="303.1" y="303.1" font-family="Liberation Sans" font-size="6.4" font-weight="normal" fill="#202020" text-anchor="end" textLength="16" lengthAdjust="spacingAndGlyphs" stroke="#444" stroke-width="0.12">10000</text>
<line x1="541.98" y1="446.7" x2="541.98" y2="448.5" stroke="#8a8a8a" stroke-width="0.8"/>
<line x1="533.1" y1="446.7" x2="533.1" y2="448.5" stroke="#8a8a8a" stroke-width="0.8"/>
<line x1="524.23" y1="446.7" x2="524.23" y2="448.5" stroke="#8a8a8a" stroke-width="0.8"/>
<line x1="515.35" y1="446.7" x2="515.35" y2="448.5" stroke="#8a8a8a" stroke-width="0.8"/>
<line x1="506.48" y1="446.7" x2="506.48" y2="448.5" stroke="#8a8a8a" stroke-width="0.8"/>
<line x1="497.6" y1="446.7" x2="497.6" y2="448.5" stroke="#8a8a8a" stroke-width="0.8"/>
<line x1="488.73" y1="446.7" x2="488.73" y2="448.5" stroke="#8a8a8a" stroke-width="0.8"/>
<line x1="479.85" y1="446.7" x2="479.85" y2="448.5" stroke="#8a8a8a" stroke-width="0.8"/>
<line x1="470.98" y1="446.7" x2="470.98" y2="448.5" stroke="#8a8a8a" stroke-width="0.8"/>
<line x1="462.1" y1="446.7" x2="462.1" y2="448.5" stroke="#8a8a8a" stroke-width="0.8"/>
<line x1="453.23" y1="446.7" x2="453.23" y2="448.5" stroke="#8a8a8a" stroke-width="0.8"/>
<line x1="444.35" y1="446.7" x2="444.35" y2="448.5" stroke="#8a8a8a" stroke-width="0.8"/>
<line x1="435.48" y1="446.7" x2="435.48" y2="448.5" stroke="#8a8a8a" stroke-width="0.8"/>
<line x1="426.6" y1="446.7" x2="426.6" y2="448.5" stroke="#8a8a8a" stroke-width="0.8"/>
<line x1="417.73" y1="446.7" x2="417.73" y2="448.5" stroke="#8a8a8a" stroke-width="0.8"/>
<line x1="408.85" y1="446.7" x2="408.85" y2="448.5" stroke="#8a8a8a" stroke-width="0.8"/>
<line x1="399.98" y1="446.7" x2="399.98" y2="448.5" stroke="#8a8a8a" stroke-width="0.8"/>
<line x1="391.1" y1="446.7" x2="391.1" y2="448.5" stroke="#8a8a8a" stroke-width="0.8"/>
<line x1="382.23" y1="446.7" x2="382.23" y2="448.5" stroke="#8a8a8a" stroke-width="0.8"/>
<line x1="373.35" y1="446.7" x2="373.35" y2="448.5" stroke="#8a8a8a" stroke-width="0.8"/>
<line x1="364.48" y1="446.7" x2="364.48" y2="448.5" stroke="#8a8a8a" stroke-width="0.8"/>
<line x1="355.6" y1="446.7" x2="355.6" y2="448.5" stroke="#8a8a8a" stroke-width="0.8"/>
<line x1="346.73" y1="446.7" x2="346.73" y2="448.5" stroke="#8a8a8a" stroke-width="0.8"/>
<line x1="337.85" y1="446.7" x2="337.85" y2="448.5" stroke="#8a8a8a" stroke-width="0.8"/>
<line x1="328.98" y1="446.7" x2="328.98" y2="448.5" stroke="#8a8a8a" stroke-width="0.8"/>
<line x1="320.1" y1="446.7" x2="320.1" y2="448.5" stroke="#8a8a8a" stroke-width="0.8"/>
<line x1="311.23" y1="446.7" x2="311.23" y2="448.5" stroke="#8a8a8a" stroke-width="0.8"/>
<line x1="320.1" y1="446.7" x2="320.1" y2="449.3" stroke="#8a8a8a" stroke-width="0.9"/>
<text x="320.1" y="457.6" font-family="Liberation Sans" font-size="6.4" font-weight="normal" fill="#202020" text-anchor="middle" textLength="9.9" lengthAdjust="spacingAndGlyphs" stroke="#444" stroke-width="0.12">538</text>
<line x1="355.6" y1="446.7" x2="355.6" y2="449.3" stroke="#8a8a8a" stroke-width="0.9"/>
<text x="355.6" y="457.6" font-family="Liberation Sans" font-size="6.4" font-weight="normal" fill="#202020" text-anchor="middle" textLength="9.9" lengthAdjust="spacingAndGlyphs" stroke="#444" stroke-width="0.12">536</text>
<line x1="391.1" y1="446.7" x2="391.1" y2="449.3" stroke="#8a8a8a" stroke-width="0.9"/>
<text x="391.1" y="457.6" font-family="Liberation Sans" font-size="6.4" font-weight="normal" fill="#202020" text-anchor="middle" textLength="9.9" lengthAdjust="spacingAndGlyphs" stroke="#444" stroke-width="0.12">534</text>
<line x1="426.6" y1="446.7" x2="426.6" y2="449.3" stroke="#8a8a8a" stroke-width="0.9"/>
<text x="426.6" y="457.6" font-family="Liberation Sans" font-size="6.4" font-weight="normal" fill="#202020" text-anchor="middle" textLength="9.9" lengthAdjust="spacingAndGlyphs" stroke="#444" stroke-width="0.12">532</text>
<line x1="462.1" y1="446.7" x2="462.1" y2="449.3" stroke="#8a8a8a" stroke-width="0.9"/>
<text x="462.1" y="457.6" font-family="Liberation Sans" font-size="6.4" font-weight="normal" fill="#202020" text-anchor="middle" textLength="9.9" lengthAdjust="spacingAndGlyphs" stroke="#444" stroke-width="0.12">530</text>
<line x1="497.6" y1="446.7" x2="497.6" y2="449.3" stroke="#8a8a8a" stroke-width="0.9"/>
<text x="497.6" y="457.6" font-family="Liberation Sans" font-size="6.4" font-weight="normal" fill="#202020" text-anchor="middle" textLength="9.9" lengthAdjust="spacingAndGlyphs" stroke="#444" stroke-width="0.12">528</text>
<line x1="533.1" y1="446.7" x2="533.1" y2="449.3" stroke="#8a8a8a" stroke-width="0.9"/>
<text x="533.1" y="457.6" font-family="Liberation Sans" font-size="6.4" font-weight="normal" fill="#202020" text-anchor="middle" textLength="9.9" lengthAdjust="spacingAndGlyphs" stroke="#444" stroke-width="0.12">526</text>
<text x="426.8" y="467.5" font-family="Liberation Sans" font-size="6.4" font-weight="normal" fill="#202020" text-anchor="middle" textLength="55.5" lengthAdjust="spacingAndGlyphs">Binding Energy [eV]</text>
<text x="0" y="0" font-family="Liberation Sans" font-size="6.4" fill="#202020" text-anchor="middle" textLength="44" lengthAdjust="spacingAndGlyphs" transform="translate(282.6,343.3) rotate(-90)">Intensity [cps]</text>
<rect x="312.6" y="244.6" width="1.3" height="1.3" fill="#111"/>
<text x="317.5" y="247.5" font-family="Liberation Sans" font-size="5.4" font-weight="normal" fill="#111" text-anchor="start" textLength="47.4" lengthAdjust="spacingAndGlyphs" stroke="#111" stroke-width="0.15">10nm Al2O3 on LFP</text>
<line x1="371" y1="244.7" x2="385.2" y2="244.7" stroke="#808080" stroke-width="1.2"/>
<rect x="312.6" y="250.9" width="1.3" height="1.3" fill="#e01818"/>
<text x="318.2" y="253.8" font-family="Liberation Sans" font-size="5.4" font-weight="normal" fill="#e01818" text-anchor="start" textLength="46" lengthAdjust="spacingAndGlyphs" stroke="#e01818" stroke-width="0.15">5nm Al2O3 on LFP</text>
<line x1="371" y1="251" x2="385.2" y2="251" stroke="#f49090" stroke-width="1.2"/>
<rect x="312.6" y="257.2" width="1.3" height="1.3" fill="#30c030"/>
<text x="318.2" y="260.1" font-family="Liberation Sans" font-size="5.4" font-weight="normal" fill="#30c030" text-anchor="start" textLength="29" lengthAdjust="spacingAndGlyphs" stroke="#30c030" stroke-width="0.15">pristine LFP</text>
<line x1="371" y1="257.3" x2="385.2" y2="257.3" stroke="#98e098" stroke-width="1.2"/>
<path d="M322,273.6 L531.5,273.6" fill="none" stroke="#a8cccc" stroke-width="0.8" stroke-linejoin="round" stroke-dasharray="1,1.2"/>
<path d="M322,354 L519.5,354" fill="none" stroke="#a8cccc" stroke-width="0.8" stroke-linejoin="round" stroke-dasharray="1,1.2"/>
<path d="M336,434.3 L517.5,434.3" fill="none" stroke="#a8cccc" stroke-width="0.8" stroke-linejoin="round" stroke-dasharray="1,1.2"/>
<path d="M395,273.54 L395.5,273.53 L396,273.52 L396.5,273.5 L397,273.49 L397.5,273.47 L398,273.46 L398.5,273.44 L399,273.41 L399.5,273.39 L400,273.36 L400.5,273.33 L401,273.3 L401.5,273.27 L402,273.23 L402.5,273.19 L403,273.15 L403.5,273.1 L404,273.05 L404.5,273 L405,272.94 L405.5,272.89 L406,272.82 L406.5,272.76 L407,272.7 L407.5,272.63 L408,272.56 L408.5,272.49 L409,272.41 L409.5,272.34 L410,272.27 L410.5,272.19 L411,272.12 L411.5,272.05 L412,271.97 L412.5,271.91 L413,271.84 L413.5,271.77 L414,271.71 L414.5,271.66 L415,271.61 L415.5,271.56 L416,271.52 L416.5,271.48 L417,271.45 L417.5,271.43 L418,271.41 L418.5,271.4 L419,271.4 L419.5,271.4 L420,271.41 L420.5,271.43 L421,271.45 L421.5,271.48 L422,271.52 L422.5,271.56 L423,271.61 L423.5,271.66 L424,271.71 L424.5,271.77 L425,271.84 L425.5,271.91 L426,271.97 L426.5,272.05 L427,272.12 L427.5,272.19 L428,272.27 L428.5,272.34 L429,272.41 L429.5,272.49 L430,272.56 L430.5,272.63 L431,272.7 L431.5,272.76 L432,272.82 L432.5,272.89 L433,272.94 L433.5,273 L434,273.05 L434.5,273.1 L435,273.15 L435.5,273.19 L436,273.23 L436.5,273.27 L437,273.3 L437.5,273.33 L438,273.36 L438.5,273.39 L439,273.41 L439.5,273.44 L440,273.46" fill="none" stroke="#c0c0c0" stroke-width="0.7" stroke-linejoin="round" stroke-dasharray="1.5,0.7"/>
<path d="M400,273.58 L400.5,273.57 L401,273.57 L401.5,273.56 L402,273.56 L402.5,273.55 L403,273.54 L403.5,273.53 L404,273.51 L404.5,273.5 L405,273.48 L405.5,273.46 L406,273.43 L406.5,273.41 L407,273.38 L407.5,273.34 L408,273.3 L408.5,273.25 L409,273.2 L409.5,273.14 L410,273.08 L410.5,273 L411,272.92 L411.5,272.83 L412,272.72 L412.5,272.61 L413,272.48 L413.5,272.34 L414,272.19 L414.5,272.02 L415,271.83 L415.5,271.63 L416,271.42 L416.5,271.18 L417,270.92 L417.5,270.65 L418,270.35 L418.5,270.04 L419,269.7 L419.5,269.35 L420,268.97 L420.5,268.57 L421,268.15 L421.5,267.71 L422,267.25 L422.5,266.77 L423,266.27 L423.5,265.75 L424,265.23 L424.5,264.68 L425,264.13 L425.5,263.57 L426,263 L426.5,262.42 L427,261.85 L427.5,261.27 L428,260.7 L428.5,260.14 L429,259.58 L429.5,259.04 L430,258.52 L430.5,258.02 L431,257.54 L431.5,257.09 L432,256.67 L432.5,256.28 L433,255.92 L433.5,255.61 L434,255.33 L434.5,255.1 L435,254.91 L435.5,254.76 L436,254.66 L436.5,254.61 L437,254.6 L437.5,254.65 L438,254.74 L438.5,254.87 L439,255.05 L439.5,255.28 L440,255.55 L440.5,255.86 L441,256.2 L441.5,256.59 L442,257 L442.5,257.45 L443,257.92 L443.5,258.42 L444,258.94 L444.5,259.47 L445,260.02 L445.5,260.59 L446,261.16 L446.5,261.73 L447,262.31 L447.5,262.88 L448,263.45 L448.5,264.02 L449,264.57 L449.5,265.12 L450,265.65 L450.5,266.17 L451,266.67 L451.5,267.15 L452,267.62 L452.5,268.06 L453,268.48 L453.5,268.89 L454,269.27 L454.5,269.63 L455,269.97 L455.5,270.29 L456,270.59 L456.5,270.87 L457,271.13 L457.5,271.37 L458,271.59 L458.5,271.8 L459,271.98 L459.5,272.16 L460,272.31 L460.5,272.45 L461,272.58 L461.5,272.7 L462,272.81 L462.5,272.9 L463,272.99 L463.5,273.06 L464,273.13 L464.5,273.19 L465,273.24 L465.5,273.29 L466,273.33 L466.5,273.37 L467,273.4 L467.5,273.43 L468,273.45 L468.5,273.48 L469,273.49 L469.5,273.51 L470,273.52 L470.5,273.54 L471,273.55 L471.5,273.55 L472,273.56 L472.5,273.57 L473,273.57 L473.5,273.58 L474,273.58 L474.5,273.58 L475,273.59 L475.5,273.59 L476,273.59 L476.5,273.59 L477,273.59 L477.5,273.6 L478,273.6 L478.5,273.6 L479,273.6 L479.5,273.6 L480,273.6" fill="none" stroke="#c0c0c0" stroke-width="0.7" stroke-linejoin="round" stroke-dasharray="1.5,0.7"/>
<path d="M322,273.5 L322.5,273.5 L323,273.5 L323.5,273.5 L324,273.49 L324.5,273.49 L325,273.49 L325.5,273.49 L326,273.49 L326.5,273.49 L327,273.49 L327.5,273.49 L328,273.49 L328.5,273.49 L329,273.48 L329.5,273.48 L330,273.48 L330.5,273.48 L331,273.48 L331.5,273.48 L332,273.48 L332.5,273.48 L333,273.48 L333.5,273.47 L334,273.47 L334.5,273.47 L335,273.47 L335.5,273.47 L336,273.47 L336.5,273.47 L337,273.47 L337.5,273.46 L338,273.46 L338.5,273.46 L339,273.46 L339.5,273.46 L340,273.46 L340.5,273.46 L341,273.45 L341.5,273.45 L342,273.45 L342.5,273.45 L343,273.45 L343.5,273.45 L344,273.44 L344.5,273.44 L345,273.44 L345.5,273.44 L346,273.44 L346.5,273.44 L347,273.43 L347.5,273.43 L348,273.43 L348.5,273.43 L349,273.43 L349.5,273.42 L350,273.42 L350.5,273.42 L351,273.42 L351.5,273.42 L352,273.41 L352.5,273.41 L353,273.41 L353.5,273.41 L354,273.41 L354.5,273.4 L355,273.4 L355.5,273.4 L356,273.4 L356.5,273.39 L357,273.39 L357.5,273.39 L358,273.39 L358.5,273.38 L359,273.38 L359.5,273.38 L360,273.37 L360.5,273.37 L361,273.37 L361.5,273.37 L362,273.36 L362.5,273.36 L363,273.36 L363.5,273.35 L364,273.35 L364.5,273.35 L365,273.34 L365.5,273.34 L366,273.34 L366.5,273.33 L367,273.33 L367.5,273.33 L368,273.32 L368.5,273.32 L369,273.31 L369.5,273.31 L370,273.3 L370.5,273.3 L371,273.3 L371.5,273.29 L372,273.29 L372.5,273.28 L373,273.28 L373.5,273.27 L374,273.27 L374.5,273.26 L375,273.26 L375.5,273.25 L376,273.25 L376.5,273.24 L377,273.23 L377.5,273.23 L378,273.22 L378.5,273.22 L379,273.21 L379.5,273.2 L380,273.2 L380.5,273.19 L381,273.18 L381.5,273.18 L382,273.17 L382.5,273.16 L383,273.15 L383.5,273.14 L384,273.14 L384.5,273.13 L385,273.12 L385.5,273.11 L386,273.1 L386.5,273.09 L387,273.08 L387.5,273.07 L388,273.06 L388.5,273.04 L389,273.03 L389.5,273.02 L390,273 L390.5,272.99 L391,272.98 L391.5,272.96 L392,272.94 L392.5,272.92 L393,272.9 L393.5,272.88 L394,272.86 L394.5,272.84 L395,272.81 L395.5,272.78 L396,272.75 L396.5,272.72 L397,272.69 L397.5,272.65 L398,272.61 L398.5,272.57 L399,272.52 L399.5,272.47 L400,272.41 L400.5,272.36 L401,272.29 L401.5,272.23 L402,272.15 L402.5,272.08 L403,271.99 L403.5,271.9 L404,271.81 L404.5,271.71 L405,271.6 L405.5,271.49 L406,271.37 L406.5,271.24 L407,271.11 L407.5,270.97 L408,270.82 L408.5,270.67 L409,270.51 L409.5,270.34 L410,270.16 L410.5,269.98 L411,269.79 L411.5,269.59 L412,269.38 L412.5,269.17 L413,268.95 L413.5,268.72 L414,268.49 L414.5,268.25 L415,268 L415.5,267.74 L416,267.47 L416.5,267.2 L417,266.92 L417.5,266.63 L418,266.33 L418.5,266.03 L419,265.71 L419.5,265.39 L420,265.06 L420.5,264.72 L421,264.36 L421.5,264 L422,263.63 L422.5,263.26 L423,262.87 L423.5,262.47 L424,262.06 L424.5,261.65 L425,261.22 L425.5,260.79 L426,260.36 L426.5,259.91 L427,259.47 L427.5,259.02 L428,258.57 L428.5,258.12 L429,257.67 L429.5,257.23 L430,256.79 L430.5,256.37 L431,255.96 L431.5,255.57 L432,255.2 L432.5,254.86 L433,254.54 L433.5,254.26 L434,254.02 L434.5,253.81 L435,253.65 L435.5,253.53 L436,253.47 L436.5,253.45 L437,253.48 L437.5,253.56 L438,253.7 L438.5,253.88 L439,254.11 L439.5,254.38 L440,254.7 L440.5,255.05 L441,255.44 L441.5,255.86 L442,256.3 L442.5,256.77 L443,257.26 L443.5,257.77 L444,258.29 L444.5,258.81 L445,259.35 L445.5,259.88 L446,260.42 L446.5,260.96 L447,261.49 L447.5,262.01 L448,262.53 L448.5,263.04 L449,263.53 L449.5,264.02 L450,264.49 L450.5,264.95 L451,265.39 L451.5,265.82 L452,266.23 L452.5,266.63 L453,267.01 L453.5,267.37 L454,267.72 L454.5,268.05 L455,268.36 L455.5,268.66 L456,268.94 L456.5,269.21 L457,269.46 L457.5,269.7 L458,269.92 L458.5,270.13 L459,270.33 L459.5,270.51 L460,270.68 L460.5,270.84 L461,270.99 L461.5,271.13 L462,271.26 L462.5,271.38 L463,271.49 L463.5,271.6 L464,271.69 L464.5,271.78 L465,271.87 L465.5,271.95 L466,272.02 L466.5,272.08 L467,272.15 L467.5,272.21 L468,272.26 L468.5,272.31 L469,272.36 L469.5,272.4 L470,272.44 L470.5,272.48 L471,272.52 L471.5,272.55 L472,272.58 L472.5,272.61 L473,272.64 L473.5,272.67 L474,272.69 L474.5,272.72 L475,272.74 L475.5,272.76 L476,272.78 L476.5,272.8 L477,272.82 L477.5,272.84 L478,272.86 L478.5,272.88 L479,272.89 L479.5,272.91 L480,272.92 L480.5,272.94 L481,272.95 L481.5,272.97 L482,272.98 L482.5,272.99 L483,273 L483.5,273.02 L484,273.03 L484.5,273.04 L485,273.05 L485.5,273.06 L486,273.07 L486.5,273.08 L487,273.09 L487.5,273.1 L488,273.11 L488.5,273.12 L489,273.13 L489.5,273.14 L490,273.14 L490.5,273.15 L491,273.16 L491.5,273.17 L492,273.17 L492.5,273.18 L493,273.19 L493.5,273.2 L494,273.2 L494.5,273.21 L495,273.22 L495.5,273.22 L496,273.23 L496.5,273.23 L497,273.24 L497.5,273.25 L498,273.25 L498.5,273.26 L499,273.26 L499.5,273.27 L500,273.27 L500.5,273.28 L501,273.28 L501.5,273.29 L502,273.29 L502.5,273.3 L503,273.3 L503.5,273.3 L504,273.31 L504.5,273.31 L505,273.32 L505.5,273.32 L506,273.32 L506.5,273.33 L507,273.33 L507.5,273.34 L508,273.34 L508.5,273.34 L509,273.35 L509.5,273.35 L510,273.35 L510.5,273.36 L511,273.36 L511.5,273.36 L512,273.37 L512.5,273.37 L513,273.37 L513.5,273.37 L514,273.38 L514.5,273.38 L515,273.38 L515.5,273.39 L516,273.39 L516.5,273.39 L517,273.39 L517.5,273.4 L518,273.4 L518.5,273.4 L519,273.4 L519.5,273.41 L520,273.41 L520.5,273.41 L521,273.41 L521.5,273.41 L522,273.42 L522.5,273.42 L523,273.42 L523.5,273.42 L524,273.42 L524.5,273.43 L525,273.43 L525.5,273.43 L526,273.43 L526.5,273.43 L527,273.44 L527.5,273.44 L528,273.44 L528.5,273.44 L529,273.44 L529.5,273.44 L530,273.45 L530.5,273.45 L531,273.45 L531.5,273.45" fill="none" stroke="#98e090" stroke-width="1.1" stroke-linejoin="round"/>
<path d="M322,273.5 L322.5,273.5 L323,273.5 L323.5,273.5 L324,273.5 L324.5,273.49 L325,273.49 L325.5,273.49 L326,273.49 L326.5,273.49 L327,273.49 L327.5,273.49 L328,273.49 L328.5,273.49 L329,273.49 L329.5,273.49 L330,273.48 L330.5,273.48 L331,273.48 L331.5,273.48 L332,273.48 L332.5,273.48 L333,273.48 L333.5,273.48 L334,273.47 L334.5,273.47 L335,273.47 L335.5,273.47 L336,273.47 L336.5,273.47 L337,273.47 L337.5,273.47 L338,273.46 L338.5,273.46 L339,273.46 L339.5,273.46 L340,273.46 L340.5,273.46 L341,273.46 L341.5,273.45 L342,273.45 L342.5,273.45 L343,273.45 L343.5,273.45 L344,273.45 L344.5,273.45 L345,273.44 L345.5,273.44 L346,273.44 L346.5,273.44 L347,273.44 L347.5,273.43 L348,273.43 L348.5,273.43 L349,273.43 L349.5,273.43 L350,273.43 L350.5,273.42 L351,273.42 L351.5,273.42 L352,273.42 L352.5,273.42 L353,273.41 L353.5,273.41 L354,273.41 L354.5,273.41 L355,273.4 L355.5,273.4 L356,273.4 L356.5,273.4 L357,273.39 L357.5,273.39 L358,273.39 L358.5,273.39 L359,273.38 L359.5,273.38 L360,273.38 L360.5,273.38 L361,273.37 L361.5,273.37 L362,273.37 L362.5,273.36 L363,273.36 L363.5,273.36 L364,273.35 L364.5,273.35 L365,273.35 L365.5,273.34 L366,273.34 L366.5,273.34 L367,273.33 L367.5,273.33 L368,273.33 L368.5,273.32 L369,273.32 L369.5,273.31 L370,273.31 L370.5,273.31 L371,273.3 L371.5,273.3 L372,273.29 L372.5,273.29 L373,273.28 L373.5,273.28 L374,273.27 L374.5,273.27 L375,273.26 L375.5,273.26 L376,273.25 L376.5,273.25 L377,273.24 L377.5,273.23 L378,273.23 L378.5,273.22 L379,273.22 L379.5,273.21 L380,273.2 L380.5,273.2 L381,273.19 L381.5,273.18 L382,273.17 L382.5,273.17 L383,273.16 L383.5,273.15 L384,273.14 L384.5,273.13 L385,273.13 L385.5,273.12 L386,273.11 L386.5,273.1 L387,273.09 L387.5,273.08 L388,273.06 L388.5,273.05 L389,273.04 L389.5,273.03 L390,273.01 L390.5,273 L391,272.99 L391.5,272.97 L392,272.95 L392.5,272.94 L393,272.92 L393.5,272.9 L394,272.88 L394.5,272.85 L395,272.83 L395.5,272.8 L396,272.77 L396.5,272.74 L397,272.71 L397.5,272.67 L398,272.64 L398.5,272.59 L399,272.55 L399.5,272.5 L400,272.45 L400.5,272.39 L401,272.34 L401.5,272.27 L402,272.2 L402.5,272.13 L403,272.05 L403.5,271.97 L404,271.88 L404.5,271.78 L405,271.68 L405.5,271.58 L406,271.46 L406.5,271.34 L407,271.22 L407.5,271.08 L408,270.94 L408.5,270.8 L409,270.64 L409.5,270.48 L410,270.31 L410.5,270.14 L411,269.96 L411.5,269.77 L412,269.57 L412.5,269.36 L413,269.15 L413.5,268.93 L414,268.71 L414.5,268.47 L415,268.23 L415.5,267.98 L416,267.72 L416.5,267.45 L417,267.18 L417.5,266.9 L418,266.61 L418.5,266.31 L419,266 L419.5,265.68 L420,265.35 L420.5,265.01 L421,264.66 L421.5,264.31 L422,263.94 L422.5,263.56 L423,263.18 L423.5,262.78 L424,262.38 L424.5,261.96 L425,261.54 L425.5,261.11 L426,260.68 L426.5,260.24 L427,259.79 L427.5,259.34 L428,258.89 L428.5,258.44 L429,258 L429.5,257.56 L430,257.12 L430.5,256.7 L431,256.3 L431.5,255.91 L432,255.54 L432.5,255.2 L433,254.88 L433.5,254.6 L434,254.35 L434.5,254.15 L435,253.99 L435.5,253.87 L436,253.8 L436.5,253.78 L437,253.81 L437.5,253.89 L438,254.01 L438.5,254.19 L439,254.42 L439.5,254.68 L440,254.99 L440.5,255.34 L441,255.72 L441.5,256.13 L442,256.57 L442.5,257.03 L443,257.52 L443.5,258.01 L444,258.52 L444.5,259.04 L445,259.57 L445.5,260.09 L446,260.62 L446.5,261.15 L447,261.67 L447.5,262.19 L448,262.7 L448.5,263.2 L449,263.69 L449.5,264.16 L450,264.63 L450.5,265.08 L451,265.51 L451.5,265.94 L452,266.34 L452.5,266.73 L453,267.11 L453.5,267.46 L454,267.81 L454.5,268.13 L455,268.44 L455.5,268.73 L456,269.01 L456.5,269.28 L457,269.52 L457.5,269.76 L458,269.98 L458.5,270.18 L459,270.38 L459.5,270.56 L460,270.73 L460.5,270.88 L461,271.03 L461.5,271.17 L462,271.3 L462.5,271.41 L463,271.53 L463.5,271.63 L464,271.72 L464.5,271.81 L465,271.89 L465.5,271.97 L466,272.04 L466.5,272.11 L467,272.17 L467.5,272.23 L468,272.28 L468.5,272.33 L469,272.38 L469.5,272.42 L470,272.46 L470.5,272.5 L471,272.53 L471.5,272.57 L472,272.6 L472.5,272.63 L473,272.66 L473.5,272.68 L474,272.71 L474.5,272.73 L475,272.75 L475.5,272.78 L476,272.8 L476.5,272.82 L477,272.83 L477.5,272.85 L478,272.87 L478.5,272.89 L479,272.9 L479.5,272.92 L480,272.93 L480.5,272.95 L481,272.96 L481.5,272.98 L482,272.99 L482.5,273 L483,273.01 L483.5,273.02 L484,273.04 L484.5,273.05 L485,273.06 L485.5,273.07 L486,273.08 L486.5,273.09 L487,273.1 L487.5,273.11 L488,273.12 L488.5,273.13 L489,273.13 L489.5,273.14 L490,273.15 L490.5,273.16 L491,273.17 L491.5,273.17 L492,273.18 L492.5,273.19 L493,273.19 L493.5,273.2 L494,273.21 L494.5,273.21 L495,273.22 L495.5,273.23 L496,273.23 L496.5,273.24 L497,273.24 L497.5,273.25 L498,273.26 L498.5,273.26 L499,273.27 L499.5,273.27 L500,273.28 L500.5,273.28 L501,273.29 L501.5,273.29 L502,273.3 L502.5,273.3 L503,273.3 L503.5,273.31 L504,273.31 L504.5,273.32 L505,273.32 L505.5,273.32 L506,273.33 L506.5,273.33 L507,273.34 L507.5,273.34 L508,273.34 L508.5,273.35 L509,273.35 L509.5,273.35 L510,273.36 L510.5,273.36 L511,273.36 L511.5,273.37 L512,273.37 L512.5,273.37 L513,273.37 L513.5,273.38 L514,273.38 L514.5,273.38 L515,273.39 L515.5,273.39 L516,273.39 L516.5,273.39 L517,273.4 L517.5,273.4 L518,273.4 L518.5,273.4 L519,273.41 L519.5,273.41 L520,273.41 L520.5,273.41 L521,273.41 L521.5,273.42 L522,273.42 L522.5,273.42 L523,273.42 L523.5,273.43 L524,273.43 L524.5,273.43 L525,273.43 L525.5,273.43 L526,273.43 L526.5,273.44 L527,273.44 L527.5,273.44 L528,273.44 L528.5,273.44 L529,273.45 L529.5,273.45 L530,273.45 L530.5,273.45 L531,273.45 L531.5,273.45" fill="none" stroke="#f4a088" stroke-width="1.1" stroke-linejoin="round"/>
<path d="M380.5,353.76 L381,353.74 L381.5,353.71 L382,353.67 L382.5,353.64 L383,353.6 L383.5,353.56 L384,353.51 L384.5,353.46 L385,353.41 L385.5,353.35 L386,353.28 L386.5,353.21 L387,353.13 L387.5,353.05 L388,352.96 L388.5,352.86 L389,352.75 L389.5,352.63 L390,352.51 L390.5,352.38 L391,352.23 L391.5,352.08 L392,351.91 L392.5,351.73 L393,351.54 L393.5,351.34 L394,351.12 L394.5,350.89 L395,350.65 L395.5,350.38 L396,350.11 L396.5,349.81 L397,349.5 L397.5,349.16 L398,348.81 L398.5,348.44 L399,348.05 L399.5,347.64 L400,347.21 L400.5,346.76 L401,346.28 L401.5,345.79 L402,345.27 L402.5,344.72 L403,344.16 L403.5,343.57 L404,342.95 L404.5,342.32 L405,341.66 L405.5,340.97 L406,340.27 L406.5,339.54 L407,338.78 L407.5,338.01 L408,337.21 L408.5,336.4 L409,335.56 L409.5,334.7 L410,333.83 L410.5,332.94 L411,332.03 L411.5,331.11 L412,330.17 L412.5,329.22 L413,328.27 L413.5,327.3 L414,326.33 L414.5,325.35 L415,324.37 L415.5,323.39 L416,322.41 L416.5,321.43 L417,320.46 L417.5,319.5 L418,318.55 L418.5,317.61 L419,316.68 L419.5,315.77 L420,314.89 L420.5,314.02 L421,313.18 L421.5,312.36 L422,311.58 L422.5,310.82 L423,310.1 L423.5,309.42 L424,308.77 L424.5,308.16 L425,307.6 L425.5,307.07 L426,306.6 L426.5,306.16 L427,305.78 L427.5,305.44 L428,305.16 L428.5,304.92 L429,304.74 L429.5,304.61 L430,304.53 L430.5,304.5 L431,304.53 L431.5,304.61 L432,304.74 L432.5,304.92 L433,305.16 L433.5,305.44 L434,305.78 L434.5,306.16 L435,306.6 L435.5,307.07 L436,307.6 L436.5,308.16 L437,308.77 L437.5,309.42 L438,310.1 L438.5,310.82 L439,311.58 L439.5,312.36 L440,313.18 L440.5,314.02 L441,314.89 L441.5,315.77 L442,316.68 L442.5,317.61 L443,318.55 L443.5,319.5 L444,320.46 L444.5,321.43 L445,322.41 L445.5,323.39 L446,324.37 L446.5,325.35 L447,326.33 L447.5,327.3 L448,328.27 L448.5,329.22 L449,330.17 L449.5,331.11 L450,332.03 L450.5,332.94 L451,333.83 L451.5,334.7 L452,335.56 L452.5,336.4 L453,337.21 L453.5,338.01 L454,338.78 L454.5,339.54 L455,340.27 L455.5,340.97 L456,341.66 L456.5,342.32 L457,342.95 L457.5,343.57 L458,344.16 L458.5,344.72 L459,345.27 L459.5,345.79 L460,346.28 L460.5,346.76 L461,347.21 L461.5,347.64 L462,348.05 L462.5,348.44 L463,348.81 L463.5,349.16 L464,349.5 L464.5,349.81 L465,350.11 L465.5,350.38 L466,350.65 L466.5,350.89 L467,351.12 L467.5,351.34 L468,351.54 L468.5,351.73 L469,351.91 L469.5,352.08 L470,352.23 L470.5,352.38 L471,352.51 L471.5,352.63 L472,352.75 L472.5,352.86 L473,352.96 L473.5,353.05 L474,353.13 L474.5,353.21 L475,353.28 L475.5,353.35 L476,353.41 L476.5,353.46 L477,353.51 L477.5,353.56 L478,353.6 L478.5,353.64 L479,353.67 L479.5,353.71 L480,353.74 L480.5,353.76" fill="none" stroke="#c0c0c0" stroke-width="0.7" stroke-linejoin="round" stroke-dasharray="1.5,0.7"/>
<path d="M356.8,353.96 L357.3,353.95 L357.8,353.95 L358.3,353.94 L358.8,353.93 L359.3,353.93 L359.8,353.92 L360.3,353.91 L360.8,353.89 L361.3,353.88 L361.8,353.87 L362.3,353.85 L362.8,353.83 L363.3,353.81 L363.8,353.79 L364.3,353.76 L364.8,353.74 L365.3,353.71 L365.8,353.68 L366.3,353.64 L366.8,353.6 L367.3,353.56 L367.8,353.51 L368.3,353.46 L368.8,353.41 L369.3,353.35 L369.8,353.28 L370.3,353.21 L370.8,353.13 L371.3,353.05 L371.8,352.96 L372.3,352.87 L372.8,352.76 L373.3,352.65 L373.8,352.53 L374.3,352.41 L374.8,352.27 L375.3,352.12 L375.8,351.97 L376.3,351.8 L376.8,351.62 L377.3,351.44 L377.8,351.24 L378.3,351.03 L378.8,350.81 L379.3,350.57 L379.8,350.33 L380.3,350.07 L380.8,349.79 L381.3,349.51 L381.8,349.21 L382.3,348.9 L382.8,348.57 L383.3,348.23 L383.8,347.88 L384.3,347.51 L384.8,347.13 L385.3,346.74 L385.8,346.34 L386.3,345.92 L386.8,345.49 L387.3,345.05 L387.8,344.6 L388.3,344.14 L388.8,343.67 L389.3,343.2 L389.8,342.71 L390.3,342.22 L390.8,341.72 L391.3,341.21 L391.8,340.71 L392.3,340.2 L392.8,339.69 L393.3,339.17 L393.8,338.67 L394.3,338.16 L394.8,337.66 L395.3,337.16 L395.8,336.67 L396.3,336.19 L396.8,335.71 L397.3,335.25 L397.8,334.81 L398.3,334.37 L398.8,333.95 L399.3,333.55 L399.8,333.17 L400.3,332.81 L400.8,332.47 L401.3,332.15 L401.8,331.86 L402.3,331.59 L402.8,331.34 L403.3,331.13 L403.8,330.94 L404.3,330.77 L404.8,330.64 L405.3,330.54 L405.8,330.46 L406.3,330.42 L406.8,330.4 L407.3,330.42 L407.8,330.46 L408.3,330.54 L408.8,330.64 L409.3,330.77 L409.8,330.94 L410.3,331.13 L410.8,331.34 L411.3,331.59 L411.8,331.86 L412.3,332.15 L412.8,332.47 L413.3,332.81 L413.8,333.17 L414.3,333.55 L414.8,333.95 L415.3,334.37 L415.8,334.81 L416.3,335.25 L416.8,335.71 L417.3,336.19 L417.8,336.67 L418.3,337.16 L418.8,337.66 L419.3,338.16 L419.8,338.67 L420.3,339.17 L420.8,339.69 L421.3,340.2 L421.8,340.71 L422.3,341.21 L422.8,341.72 L423.3,342.22 L423.8,342.71 L424.3,343.2 L424.8,343.67 L425.3,344.14 L425.8,344.6 L426.3,345.05 L426.8,345.49 L427.3,345.92 L427.8,346.34 L428.3,346.74 L428.8,347.13 L429.3,347.51 L429.8,347.88 L430.3,348.23 L430.8,348.57 L431.3,348.9 L431.8,349.21 L432.3,349.51 L432.8,349.79 L433.3,350.07 L433.8,350.33 L434.3,350.57 L434.8,350.81 L435.3,351.03 L435.8,351.24 L436.3,351.44 L436.8,351.62 L437.3,351.8 L437.8,351.97 L438.3,352.12 L438.8,352.27 L439.3,352.41 L439.8,352.53 L440.3,352.65 L440.8,352.76 L441.3,352.87 L441.8,352.96 L442.3,353.05 L442.8,353.13 L443.3,353.21 L443.8,353.28 L444.3,353.35 L444.8,353.41 L445.3,353.46 L445.8,353.51 L446.3,353.56 L446.8,353.6 L447.3,353.64 L447.8,353.68 L448.3,353.71 L448.8,353.74 L449.3,353.76 L449.8,353.79 L450.3,353.81 L450.8,353.83 L451.3,353.85 L451.8,353.87 L452.3,353.88 L452.8,353.89 L453.3,353.91 L453.8,353.92 L454.3,353.93 L454.8,353.93 L455.3,353.94 L455.8,353.95 L456.3,353.95 L456.8,353.96" fill="none" stroke="#c0c0c0" stroke-width="0.7" stroke-linejoin="round" stroke-dasharray="1.5,0.7"/>
<path d="M341,353.98 L341.5,353.98 L342,353.98 L342.5,353.98 L343,353.98 L343.5,353.97 L344,353.97 L344.5,353.97 L345,353.96 L345.5,353.96 L346,353.96 L346.5,353.95 L347,353.95 L347.5,353.94 L348,353.93 L348.5,353.93 L349,353.92 L349.5,353.91 L350,353.9 L350.5,353.9 L351,353.89 L351.5,353.88 L352,353.86 L352.5,353.85 L353,353.84 L353.5,353.82 L354,353.81 L354.5,353.79 L355,353.78 L355.5,353.76 L356,353.74 L356.5,353.72 L357,353.69 L357.5,353.67 L358,353.64 L358.5,353.62 L359,353.59 L359.5,353.56 L360,353.53 L360.5,353.49 L361,353.46 L361.5,353.42 L362,353.38 L362.5,353.34 L363,353.3 L363.5,353.25 L364,353.21 L364.5,353.16 L365,353.11 L365.5,353.06 L366,353 L366.5,352.95 L367,352.89 L367.5,352.83 L368,352.77 L368.5,352.7 L369,352.64 L369.5,352.57 L370,352.5 L370.5,352.43 L371,352.36 L371.5,352.28 L372,352.21 L372.5,352.13 L373,352.05 L373.5,351.97 L374,351.9 L374.5,351.82 L375,351.74 L375.5,351.65 L376,351.57 L376.5,351.49 L377,351.41 L377.5,351.33 L378,351.25 L378.5,351.17 L379,351.1 L379.5,351.02 L380,350.94 L380.5,350.87 L381,350.8 L381.5,350.73 L382,350.66 L382.5,350.59 L383,350.53 L383.5,350.47 L384,350.41 L384.5,350.36 L385,350.31 L385.5,350.26 L386,350.22 L386.5,350.18 L387,350.14 L387.5,350.11 L388,350.08 L388.5,350.06 L389,350.04 L389.5,350.02 L390,350.01 L390.5,350 L391,350 L391.5,350 L392,350.01 L392.5,350.02 L393,350.04 L393.5,350.06 L394,350.08 L394.5,350.11 L395,350.14 L395.5,350.18 L396,350.22 L396.5,350.26 L397,350.31 L397.5,350.36 L398,350.41 L398.5,350.47 L399,350.53 L399.5,350.59 L400,350.66 L400.5,350.73 L401,350.8 L401.5,350.87 L402,350.94 L402.5,351.02 L403,351.1 L403.5,351.17 L404,351.25 L404.5,351.33 L405,351.41 L405.5,351.49 L406,351.57 L406.5,351.65 L407,351.74 L407.5,351.82 L408,351.9 L408.5,351.97 L409,352.05 L409.5,352.13 L410,352.21 L410.5,352.28 L411,352.36 L411.5,352.43 L412,352.5 L412.5,352.57 L413,352.64 L413.5,352.7 L414,352.77 L414.5,352.83 L415,352.89 L415.5,352.95 L416,353 L416.5,353.06 L417,353.11 L417.5,353.16 L418,353.21 L418.5,353.25 L419,353.3 L419.5,353.34 L420,353.38 L420.5,353.42 L421,353.46 L421.5,353.49 L422,353.53 L422.5,353.56 L423,353.59 L423.5,353.62 L424,353.64 L424.5,353.67 L425,353.69 L425.5,353.72 L426,353.74 L426.5,353.76 L427,353.78 L427.5,353.79 L428,353.81 L428.5,353.82 L429,353.84 L429.5,353.85 L430,353.86 L430.5,353.88 L431,353.89 L431.5,353.9 L432,353.9 L432.5,353.91 L433,353.92 L433.5,353.93 L434,353.93 L434.5,353.94 L435,353.95 L435.5,353.95 L436,353.96 L436.5,353.96 L437,353.96 L437.5,353.97 L438,353.97 L438.5,353.97 L439,353.98 L439.5,353.98 L440,353.98 L440.5,353.98 L441,353.98" fill="none" stroke="#c0c0c0" stroke-width="0.7" stroke-linejoin="round" stroke-dasharray="1.5,0.7"/>
<path d="M322,354 L322.5,354 L323,354 L323.5,354 L324,354 L324.5,354 L325,354 L325.5,354 L326,354 L326.5,354 L327,354 L327.5,354 L328,354 L328.5,354 L329,354 L329.5,354 L330,354 L330.5,354 L331,354 L331.5,354 L332,354 L332.5,354 L333,354 L333.5,354 L334,354 L334.5,354 L335,354 L335.5,354 L336,354 L336.5,353.99 L337,353.99 L337.5,353.99 L338,353.99 L338.5,353.99 L339,353.99 L339.5,353.99 L340,353.99 L340.5,353.99 L341,353.98 L341.5,353.98 L342,353.98 L342.5,353.98 L343,353.98 L343.5,353.97 L344,353.97 L344.5,353.97 L345,353.96 L345.5,353.96 L346,353.95 L346.5,353.95 L347,353.94 L347.5,353.94 L348,353.93 L348.5,353.92 L349,353.92 L349.5,353.91 L350,353.9 L350.5,353.89 L351,353.88 L351.5,353.87 L352,353.85 L352.5,353.84 L353,353.82 L353.5,353.81 L354,353.79 L354.5,353.77 L355,353.75 L355.5,353.73 L356,353.7 L356.5,353.68 L357,353.65 L357.5,353.62 L358,353.59 L358.5,353.56 L359,353.52 L359.5,353.48 L360,353.44 L360.5,353.39 L361,353.35 L361.5,353.29 L362,353.24 L362.5,353.18 L363,353.12 L363.5,353.05 L364,352.98 L364.5,352.91 L365,352.83 L365.5,352.75 L366,352.66 L366.5,352.56 L367,352.46 L367.5,352.36 L368,352.25 L368.5,352.13 L369,352 L369.5,351.87 L370,351.73 L370.5,351.59 L371,351.43 L371.5,351.27 L372,351.1 L372.5,350.92 L373,350.73 L373.5,350.53 L374,350.32 L374.5,350.11 L375,349.88 L375.5,349.64 L376,349.39 L376.5,349.13 L377,348.85 L377.5,348.57 L378,348.27 L378.5,347.96 L379,347.64 L379.5,347.3 L380,346.95 L380.5,346.59 L381,346.21 L381.5,345.82 L382,345.42 L382.5,345 L383,344.57 L383.5,344.12 L384,343.66 L384.5,343.18 L385,342.69 L385.5,342.19 L386,341.67 L386.5,341.14 L387,340.59 L387.5,340.03 L388,339.45 L388.5,338.87 L389,338.27 L389.5,337.66 L390,337.03 L390.5,336.4 L391,335.75 L391.5,335.09 L392,334.42 L392.5,333.75 L393,333.06 L393.5,332.37 L394,331.67 L394.5,330.96 L395,330.24 L395.5,329.52 L396,328.8 L396.5,328.07 L397,327.33 L397.5,326.6 L398,325.86 L398.5,325.12 L399,324.38 L399.5,323.64 L400,322.9 L400.5,322.16 L401,321.42 L401.5,320.69 L402,319.96 L402.5,319.23 L403,318.51 L403.5,317.79 L404,317.07 L404.5,316.37 L405,315.66 L405.5,314.97 L406,314.28 L406.5,313.6 L407,312.92 L407.5,312.25 L408,311.59 L408.5,310.94 L409,310.3 L409.5,309.67 L410,309.04 L410.5,308.43 L411,307.82 L411.5,307.23 L412,306.64 L412.5,306.07 L413,305.51 L413.5,304.95 L414,304.42 L414.5,303.89 L415,303.38 L415.5,302.88 L416,302.39 L416.5,301.93 L417,301.47 L417.5,301.04 L418,300.62 L418.5,300.22 L419,299.84 L419.5,299.48 L420,299.14 L420.5,298.82 L421,298.53 L421.5,298.26 L422,298.02 L422.5,297.8 L423,297.61 L423.5,297.45 L424,297.32 L424.5,297.22 L425,297.15 L425.5,297.12 L426,297.12 L426.5,297.15 L427,297.22 L427.5,297.33 L428,297.47 L428.5,297.65 L429,297.86 L429.5,298.12 L430,298.41 L430.5,298.74 L431,299.11 L431.5,299.52 L432,299.97 L432.5,300.46 L433,300.98 L433.5,301.54 L434,302.14 L434.5,302.77 L435,303.44 L435.5,304.14 L436,304.87 L436.5,305.64 L437,306.43 L437.5,307.25 L438,308.1 L438.5,308.98 L439,309.88 L439.5,310.8 L440,311.74 L440.5,312.7 L441,313.68 L441.5,314.67 L442,315.67 L442.5,316.68 L443,317.7 L443.5,318.73 L444,319.76 L444.5,320.8 L445,321.83 L445.5,322.87 L446,323.9 L446.5,324.92 L447,325.94 L447.5,326.95 L448,327.95 L448.5,328.94 L449,329.92 L449.5,330.88 L450,331.82 L450.5,332.75 L451,333.66 L451.5,334.56 L452,335.43 L452.5,336.28 L453,337.11 L453.5,337.92 L454,338.7 L454.5,339.46 L455,340.2 L455.5,340.92 L456,341.61 L456.5,342.27 L457,342.92 L457.5,343.53 L458,344.13 L458.5,344.7 L459,345.24 L459.5,345.77 L460,346.27 L460.5,346.74 L461,347.2 L461.5,347.63 L462,348.04 L462.5,348.44 L463,348.81 L463.5,349.16 L464,349.49 L464.5,349.8 L465,350.1 L465.5,350.38 L466,350.64 L466.5,350.89 L467,351.12 L467.5,351.34 L468,351.54 L468.5,351.73 L469,351.91 L469.5,352.08 L470,352.23 L470.5,352.38 L471,352.51 L471.5,352.63 L472,352.75 L472.5,352.86 L473,352.95 L473.5,353.05 L474,353.13 L474.5,353.21 L475,353.28 L475.5,353.34 L476,353.41 L476.5,353.46 L477,353.51 L477.5,353.56 L478,353.6 L478.5,353.64 L479,353.67 L479.5,353.71 L480,353.74 L480.5,353.76 L481,353.79 L481.5,353.81 L482,353.83 L482.5,353.85 L483,353.86 L483.5,353.88 L484,353.89 L484.5,353.9 L485,353.91 L485.5,353.92 L486,353.93 L486.5,353.94 L487,353.95 L487.5,353.95 L488,353.96 L488.5,353.96 L489,353.97 L489.5,353.97 L490,353.97 L490.5,353.98 L491,353.98 L491.5,353.98 L492,353.98 L492.5,353.99 L493,353.99 L493.5,353.99 L494,353.99 L494.5,353.99 L495,353.99 L495.5,353.99 L496,353.99 L496.5,354 L497,354 L497.5,354 L498,354 L498.5,354 L499,354 L499.5,354 L500,354 L500.5,354 L501,354 L501.5,354 L502,354 L502.5,354 L503,354 L503.5,354 L504,354 L504.5,354 L505,354 L505.5,354 L506,354 L506.5,354 L507,354 L507.5,354 L508,354 L508.5,354 L509,354 L509.5,354 L510,354 L510.5,354 L511,354 L511.5,354 L512,354 L512.5,354 L513,354 L513.5,354 L514,354 L514.5,354 L515,354 L515.5,354 L516,354 L516.5,354 L517,354 L517.5,354 L518,354 L518.5,354 L519,354 L519.5,354" fill="none" stroke="#ee6b55" stroke-width="1.3" stroke-linejoin="round"/>
<path d="M377,434.09 L377.5,434.07 L378,434.04 L378.5,434.01 L379,433.98 L379.5,433.95 L380,433.91 L380.5,433.87 L381,433.83 L381.5,433.78 L382,433.73 L382.5,433.67 L383,433.61 L383.5,433.54 L384,433.47 L384.5,433.39 L385,433.3 L385.5,433.21 L386,433.11 L386.5,433 L387,432.89 L387.5,432.76 L388,432.62 L388.5,432.48 L389,432.32 L389.5,432.15 L390,431.97 L390.5,431.78 L391,431.58 L391.5,431.36 L392,431.12 L392.5,430.87 L393,430.61 L393.5,430.32 L394,430.02 L394.5,429.7 L395,429.36 L395.5,429.01 L396,428.63 L396.5,428.23 L397,427.81 L397.5,427.36 L398,426.89 L398.5,426.4 L399,425.89 L399.5,425.34 L400,424.78 L400.5,424.18 L401,423.56 L401.5,422.91 L402,422.24 L402.5,421.54 L403,420.8 L403.5,420.04 L404,419.26 L404.5,418.44 L405,417.59 L405.5,416.72 L406,415.82 L406.5,414.89 L407,413.93 L407.5,412.95 L408,411.94 L408.5,410.9 L409,409.84 L409.5,408.76 L410,407.66 L410.5,406.53 L411,405.38 L411.5,404.21 L412,403.03 L412.5,401.83 L413,400.62 L413.5,399.39 L414,398.16 L414.5,396.92 L415,395.67 L415.5,394.41 L416,393.16 L416.5,391.91 L417,390.66 L417.5,389.41 L418,388.18 L418.5,386.95 L419,385.74 L419.5,384.55 L420,383.38 L420.5,382.22 L421,381.09 L421.5,379.99 L422,378.92 L422.5,377.88 L423,376.88 L423.5,375.92 L424,374.99 L424.5,374.11 L425,373.27 L425.5,372.48 L426,371.74 L426.5,371.05 L427,370.42 L427.5,369.84 L428,369.31 L428.5,368.85 L429,368.44 L429.5,368.09 L430,367.81 L430.5,367.59 L431,367.43 L431.5,367.33 L432,367.3 L432.5,367.33 L433,367.43 L433.5,367.59 L434,367.81 L434.5,368.09 L435,368.44 L435.5,368.85 L436,369.31 L436.5,369.84 L437,370.42 L437.5,371.05 L438,371.74 L438.5,372.48 L439,373.27 L439.5,374.11 L440,374.99 L440.5,375.92 L441,376.88 L441.5,377.88 L442,378.92 L442.5,379.99 L443,381.09 L443.5,382.22 L444,383.38 L444.5,384.55 L445,385.74 L445.5,386.95 L446,388.18 L446.5,389.41 L447,390.66 L447.5,391.91 L448,393.16 L448.5,394.41 L449,395.67 L449.5,396.92 L450,398.16 L450.5,399.39 L451,400.62 L451.5,401.83 L452,403.03 L452.5,404.21 L453,405.38 L453.5,406.53 L454,407.66 L454.5,408.76 L455,409.84 L455.5,410.9 L456,411.94 L456.5,412.95 L457,413.93 L457.5,414.89 L458,415.82 L458.5,416.72 L459,417.59 L459.5,418.44 L460,419.26 L460.5,420.04 L461,420.8 L461.5,421.54 L462,422.24 L462.5,422.91 L463,423.56 L463.5,424.18 L464,424.78 L464.5,425.34 L465,425.89 L465.5,426.4 L466,426.89 L466.5,427.36 L467,427.81 L467.5,428.23 L468,428.63 L468.5,429.01 L469,429.36 L469.5,429.7 L470,430.02 L470.5,430.32 L471,430.61 L471.5,430.87 L472,431.12 L472.5,431.36 L473,431.58 L473.5,431.78 L474,431.97 L474.5,432.15 L475,432.32 L475.5,432.48 L476,432.62 L476.5,432.76 L477,432.89 L477.5,433 L478,433.11 L478.5,433.21 L479,433.3 L479.5,433.39 L480,433.47 L480.5,433.54 L481,433.61 L481.5,433.67 L482,433.73 L482.5,433.78 L483,433.83 L483.5,433.87 L484,433.91 L484.5,433.95 L485,433.98 L485.5,434.01 L486,434.04 L486.5,434.07 L487,434.09" fill="none" stroke="#c0c0c0" stroke-width="0.7" stroke-linejoin="round" stroke-dasharray="1.5,0.7"/>
<path d="M350,434.3 L350.5,434.3 L351,434.3 L351.5,434.3 L352,434.3 L352.5,434.3 L353,434.3 L353.5,434.3 L354,434.3 L354.5,434.3 L355,434.3 L355.5,434.3 L356,434.3 L356.5,434.3 L357,434.3 L357.5,434.3 L358,434.3 L358.5,434.3 L359,434.3 L359.5,434.3 L360,434.3 L360.5,434.3 L361,434.29 L361.5,434.29 L362,434.29 L362.5,434.29 L363,434.29 L363.5,434.29 L364,434.28 L364.5,434.28 L365,434.28 L365.5,434.27 L366,434.27 L366.5,434.27 L367,434.26 L367.5,434.25 L368,434.24 L368.5,434.23 L369,434.22 L369.5,434.21 L370,434.2 L370.5,434.18 L371,434.17 L371.5,434.15 L372,434.12 L372.5,434.1 L373,434.07 L373.5,434.03 L374,434 L374.5,433.96 L375,433.91 L375.5,433.86 L376,433.8 L376.5,433.74 L377,433.67 L377.5,433.6 L378,433.51 L378.5,433.42 L379,433.32 L379.5,433.21 L380,433.09 L380.5,432.96 L381,432.82 L381.5,432.67 L382,432.5 L382.5,432.32 L383,432.13 L383.5,431.93 L384,431.71 L384.5,431.48 L385,431.24 L385.5,430.98 L386,430.7 L386.5,430.41 L387,430.11 L387.5,429.79 L388,429.45 L388.5,429.11 L389,428.74 L389.5,428.37 L390,427.99 L390.5,427.59 L391,427.18 L391.5,426.77 L392,426.34 L392.5,425.91 L393,425.48 L393.5,425.04 L394,424.6 L394.5,424.15 L395,423.72 L395.5,423.28 L396,422.85 L396.5,422.43 L397,422.02 L397.5,421.62 L398,421.23 L398.5,420.86 L399,420.51 L399.5,420.18 L400,419.87 L400.5,419.58 L401,419.32 L401.5,419.09 L402,418.88 L402.5,418.71 L403,418.56 L403.5,418.45 L404,418.37 L404.5,418.32 L405,418.3 L405.5,418.32 L406,418.37 L406.5,418.45 L407,418.56 L407.5,418.71 L408,418.88 L408.5,419.09 L409,419.32 L409.5,419.58 L410,419.87 L410.5,420.18 L411,420.51 L411.5,420.86 L412,421.23 L412.5,421.62 L413,422.02 L413.5,422.43 L414,422.85 L414.5,423.28 L415,423.72 L415.5,424.15 L416,424.6 L416.5,425.04 L417,425.48 L417.5,425.91 L418,426.34 L418.5,426.77 L419,427.18 L419.5,427.59 L420,427.99 L420.5,428.37 L421,428.74 L421.5,429.11 L422,429.45 L422.5,429.79 L423,430.11 L423.5,430.41 L424,430.7 L424.5,430.98 L425,431.24 L425.5,431.48 L426,431.71 L426.5,431.93 L427,432.13 L427.5,432.32 L428,432.5 L428.5,432.67 L429,432.82 L429.5,432.96 L430,433.09 L430.5,433.21 L431,433.32 L431.5,433.42 L432,433.51 L432.5,433.6 L433,433.67 L433.5,433.74 L434,433.8 L434.5,433.86 L435,433.91 L435.5,433.96 L436,434 L436.5,434.03 L437,434.07 L437.5,434.1 L438,434.12 L438.5,434.15 L439,434.17 L439.5,434.18 L440,434.2 L440.5,434.21 L441,434.22 L441.5,434.23 L442,434.24 L442.5,434.25 L443,434.26 L443.5,434.27 L444,434.27 L444.5,434.27 L445,434.28 L445.5,434.28 L446,434.28 L446.5,434.29 L447,434.29 L447.5,434.29 L448,434.29 L448.5,434.29 L449,434.29 L449.5,434.3 L450,434.3 L450.5,434.3 L451,434.3 L451.5,434.3 L452,434.3 L452.5,434.3 L453,434.3 L453.5,434.3 L454,434.3 L454.5,434.3 L455,434.3 L455.5,434.3 L456,434.3 L456.5,434.3 L457,434.3 L457.5,434.3 L458,434.3 L458.5,434.3 L459,434.3 L459.5,434.3 L460,434.3" fill="none" stroke="#c0c0c0" stroke-width="0.7" stroke-linejoin="round" stroke-dasharray="1.5,0.7"/>
<path d="M336,434.29 L336.5,434.29 L337,434.29 L337.5,434.29 L338,434.29 L338.5,434.29 L339,434.29 L339.5,434.29 L340,434.28 L340.5,434.28 L341,434.28 L341.5,434.28 L342,434.28 L342.5,434.27 L343,434.27 L343.5,434.27 L344,434.26 L344.5,434.26 L345,434.26 L345.5,434.25 L346,434.25 L346.5,434.24 L347,434.23 L347.5,434.23 L348,434.22 L348.5,434.21 L349,434.2 L349.5,434.2 L350,434.19 L350.5,434.18 L351,434.16 L351.5,434.15 L352,434.14 L352.5,434.12 L353,434.11 L353.5,434.09 L354,434.08 L354.5,434.06 L355,434.04 L355.5,434.02 L356,433.99 L356.5,433.97 L357,433.94 L357.5,433.92 L358,433.89 L358.5,433.86 L359,433.83 L359.5,433.79 L360,433.76 L360.5,433.72 L361,433.68 L361.5,433.64 L362,433.6 L362.5,433.55 L363,433.51 L363.5,433.46 L364,433.41 L364.5,433.36 L365,433.3 L365.5,433.25 L366,433.19 L366.5,433.13 L367,433.07 L367.5,433 L368,432.94 L368.5,432.87 L369,432.8 L369.5,432.73 L370,432.66 L370.5,432.58 L371,432.51 L371.5,432.43 L372,432.35 L372.5,432.27 L373,432.2 L373.5,432.12 L374,432.04 L374.5,431.95 L375,431.87 L375.5,431.79 L376,431.71 L376.5,431.63 L377,431.55 L377.5,431.47 L378,431.4 L378.5,431.32 L379,431.24 L379.5,431.17 L380,431.1 L380.5,431.03 L381,430.96 L381.5,430.89 L382,430.83 L382.5,430.77 L383,430.71 L383.5,430.66 L384,430.61 L384.5,430.56 L385,430.52 L385.5,430.48 L386,430.44 L386.5,430.41 L387,430.38 L387.5,430.36 L388,430.34 L388.5,430.32 L389,430.31 L389.5,430.3 L390,430.3 L390.5,430.3 L391,430.31 L391.5,430.32 L392,430.34 L392.5,430.36 L393,430.38 L393.5,430.41 L394,430.44 L394.5,430.48 L395,430.52 L395.5,430.56 L396,430.61 L396.5,430.66 L397,430.71 L397.5,430.77 L398,430.83 L398.5,430.89 L399,430.96 L399.5,431.03 L400,431.1 L400.5,431.17 L401,431.24 L401.5,431.32 L402,431.4 L402.5,431.47 L403,431.55 L403.5,431.63 L404,431.71 L404.5,431.79 L405,431.87 L405.5,431.95 L406,432.04 L406.5,432.12 L407,432.2 L407.5,432.27 L408,432.35 L408.5,432.43 L409,432.51 L409.5,432.58 L410,432.66 L410.5,432.73 L411,432.8 L411.5,432.87 L412,432.94 L412.5,433 L413,433.07 L413.5,433.13 L414,433.19 L414.5,433.25 L415,433.3 L415.5,433.36 L416,433.41 L416.5,433.46 L417,433.51 L417.5,433.55 L418,433.6 L418.5,433.64 L419,433.68 L419.5,433.72 L420,433.76 L420.5,433.79 L421,433.83 L421.5,433.86 L422,433.89 L422.5,433.92 L423,433.94 L423.5,433.97 L424,433.99 L424.5,434.02 L425,434.04 L425.5,434.06 L426,434.08 L426.5,434.09 L427,434.11 L427.5,434.12 L428,434.14 L428.5,434.15 L429,434.16 L429.5,434.18 L430,434.19 L430.5,434.2 L431,434.2 L431.5,434.21 L432,434.22 L432.5,434.23 L433,434.23 L433.5,434.24 L434,434.25 L434.5,434.25 L435,434.26 L435.5,434.26 L436,434.26 L436.5,434.27 L437,434.27 L437.5,434.27 L438,434.28 L438.5,434.28 L439,434.28 L439.5,434.28 L440,434.28 L440.5,434.29 L441,434.29 L441.5,434.29 L442,434.29 L442.5,434.29 L443,434.29 L443.5,434.29 L444,434.29 L444.5,434.29 L445,434.3" fill="none" stroke="#c0c0c0" stroke-width="0.7" stroke-linejoin="round" stroke-dasharray="1.5,0.7"/>
<path d="M336,434.29 L336.5,434.29 L337,434.29 L337.5,434.29 L338,434.29 L338.5,434.29 L339,434.29 L339.5,434.29 L340,434.28 L340.5,434.28 L341,434.28 L341.5,434.28 L342,434.28 L342.5,434.27 L343,434.27 L343.5,434.27 L344,434.26 L344.5,434.26 L345,434.26 L345.5,434.25 L346,434.25 L346.5,434.24 L347,434.23 L347.5,434.23 L348,434.22 L348.5,434.21 L349,434.2 L349.5,434.2 L350,434.19 L350.5,434.17 L351,434.16 L351.5,434.15 L352,434.14 L352.5,434.12 L353,434.11 L353.5,434.09 L354,434.07 L354.5,434.06 L355,434.04 L355.5,434.01 L356,433.99 L356.5,433.97 L357,433.94 L357.5,433.91 L358,433.89 L358.5,433.85 L359,433.82 L359.5,433.79 L360,433.75 L360.5,433.71 L361,433.67 L361.5,433.63 L362,433.59 L362.5,433.54 L363,433.49 L363.5,433.44 L364,433.38 L364.5,433.33 L365,433.27 L365.5,433.21 L366,433.14 L366.5,433.07 L367,433 L367.5,432.93 L368,432.85 L368.5,432.77 L369,432.69 L369.5,432.6 L370,432.51 L370.5,432.42 L371,432.32 L371.5,432.21 L372,432.1 L372.5,431.99 L373,431.87 L373.5,431.75 L374,431.62 L374.5,431.49 L375,431.35 L375.5,431.2 L376,431.05 L376.5,430.88 L377,430.72 L377.5,430.54 L378,430.35 L378.5,430.15 L379,429.95 L379.5,429.73 L380,429.5 L380.5,429.26 L381,429.01 L381.5,428.74 L382,428.46 L382.5,428.17 L383,427.86 L383.5,427.53 L384,427.19 L384.5,426.83 L385,426.46 L385.5,426.06 L386,425.65 L386.5,425.22 L387,424.77 L387.5,424.3 L388,423.81 L388.5,423.3 L389,422.78 L389.5,422.23 L390,421.66 L390.5,421.07 L391,420.47 L391.5,419.84 L392,419.2 L392.5,418.54 L393,417.86 L393.5,417.17 L394,416.46 L394.5,415.73 L395,415 L395.5,414.25 L396,413.49 L396.5,412.72 L397,411.94 L397.5,411.15 L398,410.36 L398.5,409.56 L399,408.76 L399.5,407.95 L400,407.14 L400.5,406.34 L401,405.53 L401.5,404.72 L402,403.92 L402.5,403.12 L403,402.32 L403.5,401.52 L404,400.73 L404.5,399.95 L405,399.17 L405.5,398.39 L406,397.62 L406.5,396.85 L407,396.09 L407.5,395.33 L408,394.58 L408.5,393.82 L409,393.08 L409.5,392.33 L410,391.58 L410.5,390.84 L411,390.09 L411.5,389.35 L412,388.6 L412.5,387.85 L413,387.1 L413.5,386.35 L414,385.6 L414.5,384.84 L415,384.09 L415.5,383.33 L416,382.57 L416.5,381.8 L417,381.04 L417.5,380.28 L418,379.52 L418.5,378.76 L419,378.01 L419.5,377.26 L420,376.52 L420.5,375.79 L421,375.07 L421.5,374.36 L422,373.66 L422.5,372.99 L423,372.33 L423.5,371.7 L424,371.08 L424.5,370.5 L425,369.94 L425.5,369.42 L426,368.93 L426.5,368.48 L427,368.06 L427.5,367.68 L428,367.35 L428.5,367.06 L429,366.82 L429.5,366.63 L430,366.49 L430.5,366.39 L431,366.35 L431.5,366.37 L432,366.43 L432.5,366.56 L433,366.73 L433.5,366.97 L434,367.26 L434.5,367.61 L435,368.01 L435.5,368.46 L436,368.97 L436.5,369.54 L437,370.15 L437.5,370.82 L438,371.54 L438.5,372.31 L439,373.12 L439.5,373.97 L440,374.87 L440.5,375.81 L441,376.79 L441.5,377.81 L442,378.86 L442.5,379.94 L443,381.05 L443.5,382.18 L444,383.34 L444.5,384.52 L445,385.72 L445.5,386.93 L446,388.16 L446.5,389.4 L447,390.64 L447.5,391.9 L448,393.15 L448.5,394.41 L449,395.66 L449.5,396.91 L450,398.15 L450.5,399.39 L451,400.62 L451.5,401.83 L452,403.03 L452.5,404.21 L453,405.38 L453.5,406.53 L454,407.65 L454.5,408.76 L455,409.84 L455.5,410.9 L456,411.94 L456.5,412.95 L457,413.93 L457.5,414.89 L458,415.82 L458.5,416.72 L459,417.59 L459.5,418.44 L460,419.26 L460.5,420.04 L461,420.8 L461.5,421.54 L462,422.24 L462.5,422.91 L463,423.56 L463.5,424.18 L464,424.78 L464.5,425.34 L465,425.89 L465.5,426.4 L466,426.89 L466.5,427.36 L467,427.81 L467.5,428.23 L468,428.63 L468.5,429.01 L469,429.36 L469.5,429.7 L470,430.02 L470.5,430.32 L471,430.61 L471.5,430.87 L472,431.12 L472.5,431.36 L473,431.58 L473.5,431.78 L474,431.97 L474.5,432.15 L475,432.32 L475.5,432.48 L476,432.62 L476.5,432.76 L477,432.89 L477.5,433 L478,433.11 L478.5,433.21 L479,433.3 L479.5,433.39 L480,433.47 L480.5,433.54 L481,433.61 L481.5,433.67 L482,433.73 L482.5,433.78 L483,433.83 L483.5,433.87 L484,433.91 L484.5,433.95 L485,433.98 L485.5,434.01 L486,434.04 L486.5,434.07 L487,434.09 L487.5,434.11 L488,434.13 L488.5,434.15 L489,434.16 L489.5,434.18 L490,434.19 L490.5,434.2 L491,434.21 L491.5,434.22 L492,434.23 L492.5,434.24 L493,434.24 L493.5,434.25 L494,434.26 L494.5,434.26 L495,434.27 L495.5,434.27 L496,434.27 L496.5,434.28 L497,434.28 L497.5,434.28 L498,434.28 L498.5,434.29 L499,434.29 L499.5,434.29 L500,434.29 L500.5,434.29 L501,434.29 L501.5,434.29 L502,434.29 L502.5,434.29 L503,434.3 L503.5,434.3 L504,434.3 L504.5,434.3 L505,434.3 L505.5,434.3 L506,434.3 L506.5,434.3 L507,434.3 L507.5,434.3 L508,434.3 L508.5,434.3 L509,434.3 L509.5,434.3 L510,434.3 L510.5,434.3 L511,434.3 L511.5,434.3 L512,434.3 L512.5,434.3 L513,434.3 L513.5,434.3 L514,434.3 L514.5,434.3 L515,434.3 L515.5,434.3 L516,434.3 L516.5,434.3 L517,434.3 L517.5,434.3" fill="none" stroke="#d8866c" stroke-width="1.2" stroke-linejoin="round"/>
<path d="M336,434.29 L336.5,434.29 L337,434.29 L337.5,434.29 L338,434.29 L338.5,434.29 L339,434.29 L339.5,434.29 L340,434.28 L340.5,434.28 L341,434.28 L341.5,434.28 L342,434.28 L342.5,434.27 L343,434.27 L343.5,434.27 L344,434.26 L344.5,434.26 L345,434.26 L345.5,434.25 L346,434.25 L346.5,434.24 L347,434.23 L347.5,434.23 L348,434.22 L348.5,434.21 L349,434.2 L349.5,434.2 L350,434.19 L350.5,434.17 L351,434.16 L351.5,434.15 L352,434.14 L352.5,434.12 L353,434.11 L353.5,434.09 L354,434.07 L354.5,434.06 L355,434.04 L355.5,434.01 L356,433.99 L356.5,433.97 L357,433.94 L357.5,433.91 L358,433.89 L358.5,433.85 L359,433.82 L359.5,433.79 L360,433.75 L360.5,433.71 L361,433.67 L361.5,433.63 L362,433.59 L362.5,433.54 L363,433.49 L363.5,433.44 L364,433.38 L364.5,433.33 L365,433.27 L365.5,433.21 L366,433.14 L366.5,433.07 L367,433 L367.5,432.93 L368,432.85 L368.5,432.77 L369,432.69 L369.5,432.6 L370,432.51 L370.5,432.42 L371,432.32 L371.5,432.21 L372,432.1 L372.5,431.99 L373,431.87 L373.5,431.75 L374,431.62 L374.5,431.49 L375,431.35 L375.5,431.2 L376,431.05 L376.5,430.88 L377,430.72 L377.5,430.54 L378,430.35 L378.5,430.15 L379,429.95 L379.5,429.73 L380,429.5 L380.5,429.26 L381,429.01 L381.5,428.74 L382,428.46 L382.5,428.17 L383,427.86 L383.5,427.53 L384,427.19 L384.5,426.83 L385,426.46 L385.5,426.06 L386,425.65 L386.5,425.22 L387,424.77 L387.5,424.3 L388,423.81 L388.5,423.3 L389,422.78 L389.5,422.23 L390,421.66 L390.5,421.07 L391,420.47 L391.5,419.84 L392,419.2 L392.5,418.54 L393,417.86 L393.5,417.17 L394,416.46 L394.5,415.73 L395,415 L395.5,414.25 L396,413.49 L396.5,412.72 L397,411.94 L397.5,411.15 L398,410.36 L398.5,409.56 L399,408.76 L399.5,407.95 L400,407.14 L400.5,406.34 L401,405.53 L401.5,404.72 L402,403.92 L402.5,403.12 L403,402.32 L403.5,401.52 L404,400.73 L404.5,399.95 L405,399.17 L405.5,398.39 L406,397.62 L406.5,396.85 L407,396.09 L407.5,395.33 L408,394.58 L408.5,393.82 L409,393.08 L409.5,392.33 L410,391.58 L410.5,390.84 L411,390.09 L411.5,389.35 L412,388.6 L412.5,387.85 L413,387.1 L413.5,386.35 L414,385.6 L414.5,384.84 L415,384.09 L415.5,383.33 L416,382.57 L416.5,381.8 L417,381.04 L417.5,380.28 L418,379.52 L418.5,378.76 L419,378.01 L419.5,377.26 L420,376.52 L420.5,375.79 L421,375.07 L421.5,374.36 L422,373.66 L422.5,372.99 L423,372.33 L423.5,371.7 L424,371.08 L424.5,370.5 L425,369.94 L425.5,369.42 L426,368.93 L426.5,368.48 L427,368.06 L427.5,367.68 L428,367.35 L428.5,367.06 L429,366.82 L429.5,366.63 L430,366.49 L430.5,366.39 L431,366.35 L431.5,366.37 L432,366.43 L432.5,366.56 L433,366.73 L433.5,366.97 L434,367.26 L434.5,367.61 L435,368.01 L435.5,368.46 L436,368.97 L436.5,369.54 L437,370.15 L437.5,370.82 L438,371.54 L438.5,372.31 L439,373.12 L439.5,373.97 L440,374.87 L440.5,375.81 L441,376.79 L441.5,377.81 L442,378.86 L442.5,379.94 L443,381.05 L443.5,382.18 L444,383.34 L444.5,384.52 L445,385.72 L445.5,386.93 L446,388.16 L446.5,389.4 L447,390.64 L447.5,391.9 L448,393.15 L448.5,394.41 L449,395.66 L449.5,396.91 L450,398.15 L450.5,399.39 L451,400.62 L451.5,401.83 L452,403.03 L452.5,404.21 L453,405.38 L453.5,406.53 L454,407.65 L454.5,408.76 L455,409.84 L455.5,410.9 L456,411.94 L456.5,412.95 L457,413.93 L457.5,414.89 L458,415.82 L458.5,416.72 L459,417.59 L459.5,418.44 L460,419.26 L460.5,420.04 L461,420.8 L461.5,421.54 L462,422.24 L462.5,422.91 L463,423.56 L463.5,424.18 L464,424.78 L464.5,425.34 L465,425.89 L465.5,426.4 L466,426.89 L466.5,427.36 L467,427.81 L467.5,428.23 L468,428.63 L468.5,429.01 L469,429.36 L469.5,429.7 L470,430.02 L470.5,430.32 L471,430.61 L471.5,430.87 L472,431.12 L472.5,431.36 L473,431.58 L473.5,431.78 L474,431.97 L474.5,432.15 L475,432.32 L475.5,432.48 L476,432.62 L476.5,432.76 L477,432.89 L477.5,433 L478,433.11 L478.5,433.21 L479,433.3 L479.5,433.39 L480,433.47 L480.5,433.54 L481,433.61 L481.5,433.67 L482,433.73 L482.5,433.78 L483,433.83 L483.5,433.87 L484,433.91 L484.5,433.95 L485,433.98 L485.5,434.01 L486,434.04 L486.5,434.07 L487,434.09 L487.5,434.11 L488,434.13 L488.5,434.15 L489,434.16 L489.5,434.18 L490,434.19 L490.5,434.2 L491,434.21 L491.5,434.22 L492,434.23 L492.5,434.24 L493,434.24 L493.5,434.25 L494,434.26 L494.5,434.26 L495,434.27 L495.5,434.27 L496,434.27 L496.5,434.28 L497,434.28 L497.5,434.28 L498,434.28 L498.5,434.29 L499,434.29 L499.5,434.29 L500,434.29 L500.5,434.29 L501,434.29 L501.5,434.29 L502,434.29 L502.5,434.29 L503,434.3 L503.5,434.3 L504,434.3 L504.5,434.3 L505,434.3 L505.5,434.3 L506,434.3 L506.5,434.3 L507,434.3 L507.5,434.3 L508,434.3 L508.5,434.3 L509,434.3 L509.5,434.3 L510,434.3 L510.5,434.3 L511,434.3 L511.5,434.3 L512,434.3 L512.5,434.3 L513,434.3 L513.5,434.3 L514,434.3 L514.5,434.3 L515,434.3 L515.5,434.3 L516,434.3 L516.5,434.3 L517,434.3 L517.5,434.3" fill="none" stroke="#7a5048" stroke-width="0.5" stroke-linejoin="round" stroke-dasharray="0.8,1.6" opacity="0.8"/>
<line x1="436.8" y1="240.8" x2="436.8" y2="273.6" stroke="#80d040" stroke-width="2"/>
<path d="M436.7,278.3 L436.7,286.7 L430.3,286.7 L430.3,291.8" fill="none" stroke="#ffc000" stroke-width="1.6"/>
<polygon points="428.2,291.5 432.4,291.5 430.3,295.5" fill="#ffc000"/>
<line x1="452.5" y1="284.5" x2="442.26" y2="266.89" stroke="#111" stroke-width="1.6"/>
<polygon points="440,263 444.59,266.12 440.44,268.53" fill="#111"/>
<text x="451" y="296.8" font-family="Liberation Sans" font-size="8.6" font-weight="bold" fill="#111" stroke="#111" stroke-width="0.3" textLength="88" lengthAdjust="spacingAndGlyphs">O<tspan font-size="5.4" dy="-3">2-</tspan><tspan dy="3"> in  LiFePO</tspan><tspan font-size="5.4" dy="1.8">4</tspan><tspan dy="-1.8"> lattice</tspan></text>
<text x="318" y="298.8" font-family="Liberation Sans" font-size="9.2" font-weight="bold" fill="#111" stroke="#111" stroke-width="0.3">C-O<tspan font-size="6" dy="1.8">x</tspan></text>
<line x1="328.5" y1="306.3" x2="393.12" y2="338.38" stroke="#111" stroke-width="1.7"/>
<polygon points="397.6,340.6 391.52,340.48 393.83,335.83" fill="#111"/>
<line x1="328.8" y1="311.4" x2="353.09" y2="338.95" stroke="#111" stroke-width="1.7"/>
<polygon points="356.4,342.7 350.81,340.29 354.71,336.86" fill="#111"/>
<text x="476.3" y="405.4" font-family="Liberation Sans" font-size="9" font-weight="bold" fill="#111" stroke="#111" stroke-width="0.3" textLength="53.4" lengthAdjust="spacingAndGlyphs">O-Al in Al<tspan font-size="6.2" dy="2.3">2</tspan><tspan dy="-2.3">O</tspan><tspan font-size="6.2" dy="2.3">3</tspan></text>
<line x1="478" y1="392.7" x2="442.72" y2="343.76" stroke="#111" stroke-width="1.7"/>
<polygon points="439.8,339.7 445.13,342.64 440.91,345.68" fill="#111"/>
<line x1="470.7" y1="406.7" x2="452.04" y2="412.92" stroke="#111" stroke-width="1.7"/>
<polygon points="447.3,414.5 451.7,410.29 453.34,415.23" fill="#111"/>
<rect x="520.1" y="240.9" width="24.1" height="15.8" fill="#fff" stroke="#555" stroke-width="1.3"/>
<text x="524.8" y="252.6" font-family="Liberation Serif" font-size="9" font-weight="bold" fill="#111" text-anchor="start" textLength="14.4" lengthAdjust="spacingAndGlyphs" stroke="#111" stroke-width="0.3">O1s</text>
<text x="311.1" y="442.2" font-family="Liberation Sans" font-size="11" font-weight="bold" fill="#111" text-anchor="start" textLength="12.9" lengthAdjust="spacingAndGlyphs" stroke="#111" stroke-width="0.55">(d)</text>
</svg>
</body></html>
